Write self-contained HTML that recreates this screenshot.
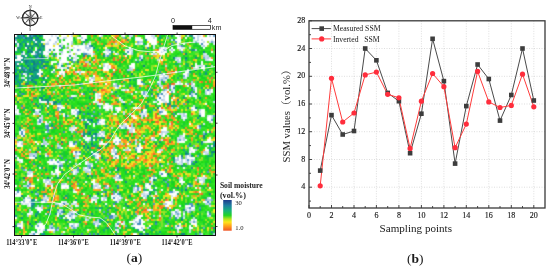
<!DOCTYPE html>
<html><head><meta charset="utf-8">
<style>
html,body{margin:0;padding:0;background:#fff;width:550px;height:270px;overflow:hidden}
svg{display:block}
text{font-family:"Liberation Serif","Noto Serif CJK SC",serif;fill:#1a1a1a}
.gr{stroke:#c8c8c8;stroke-width:0.6;stroke-dasharray:1 1.5}
.tk{stroke:#333;stroke-width:0.9}
text.sans{font-family:"Liberation Sans",sans-serif}
.tl{font-size:8px;stroke:#1a1a1a;stroke-width:0.15px}
.ml{font-size:7.3px;font-weight:bold}
</style></head><body>
<svg width="550" height="270" viewBox="0 0 550 270">
<rect width="550" height="270" fill="#fff"/>
<defs><filter id="bl" x="0" y="0" width="1" height="1" color-interpolation-filters="sRGB"><feConvolveMatrix order="3" kernelMatrix="1 2 1 2 12 2 1 2 1" edgeMode="duplicate"/></filter></defs>
<g shape-rendering="crispEdges" filter="url(#bl)"><rect x="15" y="35" width="200" height="200" fill="#fff"/>
<path fill="#1a8a88" d="M17 35h2v2h-2zM33 35h2v2h-2zM191 35h2v2h-2zM17 37h2v2h-2zM29 37h2v2h-2zM57 37h2v2h-2zM145 39h2v2h-2zM83 41h2v2h-2zM159 43h2v2h-2zM29 45h2v2h-2zM37 45h2v2h-2zM17 47h2v2h-2zM39 47h2v2h-2zM29 49h2v2h-2zM37 49h2v2h-2zM191 49h4v2h-4zM37 51h2v2h-2zM37 53h2v2h-2zM21 55h2v2h-2zM35 55h2v2h-2zM103 55h2v2h-2zM23 57h2v2h-2zM29 57h2v2h-2zM39 57h2v2h-2zM43 57h2v2h-2zM195 57h2v2h-2zM25 59h4v2h-4zM19 61h2v2h-2zM37 61h2v2h-2zM43 61h2v2h-2zM77 61h2v2h-2zM15 63h2v2h-2zM35 63h2v2h-2zM41 63h2v2h-2zM45 65h2v2h-2zM191 65h2v2h-2zM21 67h2v2h-2zM21 69h4v2h-4zM27 73h2v2h-2zM41 73h2v2h-2zM17 75h2v2h-2zM37 77h2v2h-2zM21 79h2v2h-2zM33 81h4v2h-4zM19 83h2v2h-2zM27 83h2v2h-2zM35 83h2v2h-2zM79 83h2v2h-2zM19 87h2v2h-2zM43 87h2v2h-2zM191 87h2v2h-2zM151 89h2v2h-2zM19 91h2v2h-2zM93 91h2v2h-2zM151 93h2v2h-2zM195 93h2v2h-2zM19 95h2v2h-2zM49 97h2v2h-2zM89 97h2v2h-2zM183 97h2v2h-2zM41 99h2v2h-2zM53 101h2v2h-2zM147 101h2v2h-2zM187 101h2v2h-2zM35 103h2v2h-2zM37 105h2v2h-2zM187 107h2v2h-2zM33 109h2v2h-2zM85 123h4v2h-4zM85 127h2v2h-2zM89 131h2v2h-2zM209 131h2v2h-2zM91 135h2v2h-2zM91 137h2v2h-2zM203 137h2v2h-2zM159 141h2v2h-2zM201 141h2v2h-2zM85 143h2v2h-2zM97 147h2v2h-2zM197 147h2v2h-2zM209 149h2v2h-2zM181 155h2v2h-2zM191 155h2v2h-2zM35 157h2v2h-2zM101 157h2v2h-2zM173 157h2v2h-2zM159 163h2v2h-2zM193 163h2v2h-2zM181 165h2v2h-2zM191 167h2v2h-2zM61 171h2v2h-2zM57 177h2v2h-2zM125 181h2v2h-2zM177 187h2v2h-2zM17 189h2v2h-2zM37 189h2v2h-2zM149 193h2v2h-2zM63 197h2v2h-2zM31 199h2v2h-2zM19 201h2v2h-2zM37 201h2v2h-2zM33 203h2v2h-2zM125 203h2v2h-2zM17 205h2v2h-2zM31 205h2v2h-2zM127 205h2v2h-2zM109 207h2v2h-2zM49 209h2v2h-2zM183 209h2v2h-2zM55 213h2v2h-2zM65 219h2v2h-2zM107 221h2v2h-2zM107 227h2v2h-2zM149 227h2v2h-2zM143 229h2v2h-2zM199 231h2v2h-2zM211 231h2v2h-2zM145 233h2v2h-2z"/>
<path fill="#16ac78" d="M19 35h2v2h-2zM159 35h2v2h-2zM21 37h2v2h-2zM99 37h2v2h-2zM29 39h2v2h-2zM17 41h2v2h-2zM21 41h2v2h-2zM25 41h2v2h-2zM195 41h2v2h-2zM81 43h2v2h-2zM143 43h2v2h-2zM19 45h2v2h-2zM27 45h2v2h-2zM41 47h2v2h-2zM27 49h2v2h-2zM35 51h2v2h-2zM41 51h2v2h-2zM111 51h2v2h-2zM27 53h2v2h-2zM29 59h2v2h-2zM35 59h2v2h-2zM43 59h2v2h-2zM27 63h2v2h-2zM39 63h2v2h-2zM185 63h2v2h-2zM15 65h2v2h-2zM19 65h2v2h-2zM31 65h2v2h-2zM51 65h2v2h-2zM15 67h2v2h-2zM25 67h2v2h-2zM27 69h2v2h-2zM35 71h2v2h-2zM17 73h2v2h-2zM33 73h2v2h-2zM21 75h2v2h-2zM17 77h2v2h-2zM29 77h2v2h-2zM41 77h2v2h-2zM47 77h2v2h-2zM177 77h2v2h-2zM27 79h2v2h-2zM123 81h2v2h-2zM21 85h2v2h-2zM185 89h2v2h-2zM147 91h2v2h-2zM171 95h2v2h-2zM33 97h2v2h-2zM65 99h2v2h-2zM155 99h2v2h-2zM31 101h2v2h-2zM39 103h2v2h-2zM67 103h2v2h-2zM41 105h2v2h-2zM97 105h2v2h-2zM175 105h2v2h-2zM41 107h2v2h-2zM61 111h2v2h-2zM93 115h2v2h-2zM59 123h2v2h-2zM89 127h2v2h-2zM91 129h2v2h-2zM97 129h2v2h-2zM95 135h2v2h-2zM187 135h2v2h-2zM99 139h2v2h-2zM107 139h2v2h-2zM95 143h2v2h-2zM105 145h2v2h-2zM83 147h2v2h-2zM85 149h2v2h-2zM83 153h2v2h-2zM211 153h2v2h-2zM89 155h2v2h-2zM173 161h2v2h-2zM191 163h2v2h-2zM185 165h2v2h-2zM41 175h2v2h-2zM155 179h2v2h-2zM131 185h2v2h-2zM43 189h2v2h-2zM145 189h2v2h-2zM149 191h2v2h-2zM23 197h2v2h-2zM67 197h2v2h-2zM151 199h2v2h-2zM33 201h2v2h-2zM145 201h2v2h-2zM55 205h2v2h-2zM105 205h2v2h-2zM31 207h2v2h-2zM21 213h2v2h-2zM61 217h2v2h-2zM67 219h2v2h-2zM175 219h2v2h-2zM99 221h2v2h-2zM35 231h2v2h-2z"/>
<path fill="#3f88bb" d="M21 35h2v2h-2zM201 43h2v2h-2zM59 45h2v2h-2zM181 45h2v2h-2zM61 47h2v2h-2zM147 47h2v2h-2zM49 49h2v2h-2zM109 49h2v2h-2zM163 49h2v2h-2zM127 51h2v2h-2zM53 53h2v2h-2zM83 53h4v2h-4zM69 55h2v2h-2zM159 71h2v2h-2zM21 73h2v2h-2zM161 73h2v2h-2zM141 81h2v2h-2zM163 81h2v2h-2zM129 85h2v2h-2zM169 85h2v2h-2zM139 87h2v2h-2zM149 87h2v2h-2zM173 87h2v2h-2zM207 89h2v2h-2zM191 91h2v2h-2zM21 93h2v2h-2zM83 93h2v2h-2zM161 93h2v2h-2zM71 97h2v2h-2zM159 97h2v2h-2zM21 105h2v2h-2zM23 107h2v2h-2zM141 111h2v2h-2zM159 111h2v2h-2zM173 113h2v2h-2zM83 119h2v2h-2zM39 121h2v2h-2zM47 125h2v2h-2zM199 125h2v2h-2zM47 127h2v2h-2zM53 127h2v2h-2zM47 129h2v2h-2zM63 131h2v2h-2zM21 133h2v2h-2zM23 135h2v2h-2zM75 141h2v2h-2zM129 141h2v2h-2zM73 143h2v2h-2zM75 151h2v2h-2zM79 151h2v2h-2zM115 153h2v2h-2zM61 157h2v2h-2zM105 159h2v2h-2zM33 163h2v2h-2zM59 165h2v2h-2zM21 167h2v2h-2zM29 169h2v2h-2zM161 173h2v2h-2zM119 175h2v2h-2zM149 177h2v2h-2zM29 183h2v2h-2zM149 183h2v2h-2zM167 183h2v2h-2zM117 185h2v2h-2zM167 185h2v2h-2zM53 195h2v2h-2zM113 197h2v2h-2zM115 201h2v2h-2zM207 201h2v2h-2zM31 203h2v2h-2zM63 203h2v2h-2zM113 203h2v2h-2zM191 205h2v2h-2zM57 209h2v2h-2zM107 209h2v2h-2zM209 213h2v2h-2zM109 215h4v2h-4zM109 217h2v2h-2zM175 217h2v2h-2zM117 223h2v2h-2zM137 223h4v2h-4zM155 223h2v2h-2zM177 225h2v2h-2zM19 227h2v2h-2zM115 227h2v2h-2zM81 233h2v2h-2zM93 233h2v2h-2z"/>
<path fill="#0e8080" d="M23 35h2v2h-2zM29 35h2v2h-2zM35 35h2v2h-2zM39 35h2v2h-2zM171 35h2v2h-2zM25 37h2v2h-2zM31 37h2v2h-2zM37 37h2v2h-2zM35 39h2v2h-2zM85 39h2v2h-2zM19 43h2v2h-2zM25 43h2v2h-2zM35 43h2v2h-2zM25 45h2v2h-2zM43 45h2v2h-2zM91 45h2v2h-2zM27 47h2v2h-2zM31 47h2v2h-2zM39 49h2v2h-2zM27 51h2v2h-2zM31 51h2v2h-2zM203 51h2v2h-2zM185 53h2v2h-2zM41 55h2v2h-2zM41 57h2v2h-2zM173 57h2v2h-2zM185 57h2v2h-2zM141 59h2v2h-2zM25 61h2v2h-2zM33 61h2v2h-2zM33 63h2v2h-2zM17 65h2v2h-2zM27 65h2v2h-2zM43 65h2v2h-2zM143 65h2v2h-2zM33 67h2v2h-2zM29 69h2v2h-2zM33 69h4v2h-4zM195 69h2v2h-2zM19 71h2v2h-2zM23 71h2v2h-2zM31 71h2v2h-2zM131 73h2v2h-2zM15 75h2v2h-2zM31 75h2v2h-2zM43 77h2v2h-2zM31 79h2v2h-2zM45 81h2v2h-2zM25 83h2v2h-2zM33 87h2v2h-2zM41 87h2v2h-2zM41 97h2v2h-2zM199 97h2v2h-2zM45 99h2v2h-2zM17 101h2v2h-2zM47 101h2v2h-2zM55 101h2v2h-2zM53 103h2v2h-2zM123 103h2v2h-2zM157 107h2v2h-2zM195 107h2v2h-2zM79 111h2v2h-2zM199 115h2v2h-2zM77 117h2v2h-2zM91 119h2v2h-2zM85 125h2v2h-2zM89 133h2v2h-2zM95 133h2v2h-2zM83 135h2v2h-2zM203 135h2v2h-2zM61 141h2v2h-2zM91 143h2v2h-2zM155 143h2v2h-2zM41 145h2v2h-2zM83 145h2v2h-2zM213 145h2v2h-2zM87 147h2v2h-2zM99 147h2v2h-2zM35 151h2v2h-2zM97 151h2v2h-2zM211 151h4v2h-4zM185 153h2v2h-2zM83 157h2v2h-2zM195 161h2v2h-2zM53 167h2v2h-2zM117 169h2v2h-2zM167 173h2v2h-2zM87 175h2v2h-2zM23 177h2v2h-2zM47 177h2v2h-2zM153 179h2v2h-2zM185 189h2v2h-2zM97 193h2v2h-2zM209 193h2v2h-2zM21 195h2v2h-2zM197 203h2v2h-2zM63 211h2v2h-2zM35 215h2v2h-2zM181 219h2v2h-2zM35 221h2v2h-2zM29 223h2v2h-2zM15 225h2v2h-2zM73 231h2v2h-2zM115 233h2v2h-2zM139 233h4v2h-4zM147 233h2v2h-2zM181 233h4v2h-4z"/>
<path fill="#2add22" d="M25 35h2v2h-2zM87 35h4v2h-4zM93 35h2v2h-2zM103 35h2v2h-2zM141 35h4v2h-4zM155 35h2v2h-2zM17 39h2v2h-2zM21 39h2v2h-2zM43 39h2v2h-2zM89 39h4v2h-4zM159 39h2v2h-2zM191 39h2v2h-2zM31 41h2v2h-2zM59 41h2v2h-2zM81 41h2v2h-2zM85 41h2v2h-2zM101 41h4v2h-4zM129 41h2v2h-2zM143 41h2v2h-2zM161 41h2v2h-2zM169 41h2v2h-2zM39 43h2v2h-2zM75 43h2v2h-2zM111 43h2v2h-2zM127 43h2v2h-2zM193 43h2v2h-2zM23 45h2v2h-2zM63 45h2v2h-2zM97 45h2v2h-2zM133 45h2v2h-2zM175 45h2v2h-2zM109 47h2v2h-2zM133 47h4v2h-4zM157 47h2v2h-2zM169 47h2v2h-2zM175 47h2v2h-2zM187 47h2v2h-2zM207 47h4v2h-4zM33 49h2v2h-2zM101 49h2v2h-2zM117 49h2v2h-2zM137 49h4v2h-4zM189 49h2v2h-2zM201 49h4v2h-4zM67 51h2v2h-2zM185 51h2v2h-2zM15 53h2v2h-2zM135 53h2v2h-2zM173 53h2v2h-2zM179 53h2v2h-2zM189 53h2v2h-2zM211 53h2v2h-2zM89 55h2v2h-2zM99 55h2v2h-2zM115 55h2v2h-2zM165 55h2v2h-2zM199 55h2v2h-2zM211 55h2v2h-2zM71 57h2v2h-2zM79 57h2v2h-2zM123 57h2v2h-2zM137 57h2v2h-2zM153 57h2v2h-2zM193 57h2v2h-2zM125 59h2v2h-2zM129 59h2v2h-2zM153 59h2v2h-2zM167 59h2v2h-2zM191 59h2v2h-2zM197 59h2v2h-2zM57 61h2v2h-2zM71 61h2v2h-2zM103 61h4v2h-4zM109 61h4v2h-4zM141 61h2v2h-2zM167 61h2v2h-2zM171 61h2v2h-2zM185 61h2v2h-2zM211 61h2v2h-2zM53 63h4v2h-4zM95 63h2v2h-2zM123 63h2v2h-2zM129 63h2v2h-2zM135 63h2v2h-2zM149 63h2v2h-2zM153 63h2v2h-2zM157 63h2v2h-2zM171 63h2v2h-2zM41 65h2v2h-2zM97 65h2v2h-2zM121 65h2v2h-2zM139 65h2v2h-2zM147 65h4v2h-4zM157 65h2v2h-2zM47 67h2v2h-2zM83 67h2v2h-2zM135 67h2v2h-2zM153 67h2v2h-2zM169 67h4v2h-4zM181 67h2v2h-2zM109 69h2v2h-2zM155 69h2v2h-2zM159 69h2v2h-2zM169 69h2v2h-2zM173 69h2v2h-2zM179 69h2v2h-2zM201 69h2v2h-2zM43 71h2v2h-2zM97 71h2v2h-2zM109 71h2v2h-2zM125 71h2v2h-2zM133 71h2v2h-2zM143 71h2v2h-2zM177 71h2v2h-2zM207 71h2v2h-2zM45 73h2v2h-2zM87 73h2v2h-2zM105 73h2v2h-2zM119 73h2v2h-2zM127 73h4v2h-4zM145 73h2v2h-2zM153 73h2v2h-2zM177 73h2v2h-2zM213 73h2v2h-2zM143 75h2v2h-2zM149 75h2v2h-2zM189 75h2v2h-2zM49 77h2v2h-2zM53 77h2v2h-2zM63 77h2v2h-2zM67 77h2v2h-2zM83 77h2v2h-2zM127 77h2v2h-2zM181 77h2v2h-2zM191 77h2v2h-2zM49 79h2v2h-2zM61 79h2v2h-2zM83 79h2v2h-2zM173 79h2v2h-2zM47 81h2v2h-2zM67 81h2v2h-2zM79 81h2v2h-2zM93 81h2v2h-2zM133 81h2v2h-2zM189 81h2v2h-2zM203 81h2v2h-2zM37 83h2v2h-2zM45 83h2v2h-2zM49 83h2v2h-2zM93 83h2v2h-2zM147 83h2v2h-2zM197 83h2v2h-2zM207 83h2v2h-2zM49 85h2v2h-2zM83 85h2v2h-2zM125 85h4v2h-4zM153 85h2v2h-2zM181 85h2v2h-2zM201 85h2v2h-2zM209 85h2v2h-2zM51 87h2v2h-2zM65 87h2v2h-2zM83 87h2v2h-2zM89 87h2v2h-2zM121 87h2v2h-2zM135 87h2v2h-2zM155 87h2v2h-2zM187 87h2v2h-2zM53 89h2v2h-2zM57 89h2v2h-2zM79 89h2v2h-2zM111 89h2v2h-2zM117 89h2v2h-2zM137 89h2v2h-2zM183 89h2v2h-2zM23 91h2v2h-2zM43 91h2v2h-2zM61 91h2v2h-2zM71 91h2v2h-2zM75 91h2v2h-2zM87 91h2v2h-2zM151 91h2v2h-2zM175 91h2v2h-2zM75 93h2v2h-2zM87 93h2v2h-2zM105 93h2v2h-2zM115 93h2v2h-2zM155 93h2v2h-2zM185 93h2v2h-2zM213 93h2v2h-2zM39 95h2v2h-2zM77 95h2v2h-2zM85 95h4v2h-4zM123 95h2v2h-2zM141 95h2v2h-2zM203 95h4v2h-4zM15 97h2v2h-2zM51 97h2v2h-2zM61 97h2v2h-2zM125 97h4v2h-4zM131 97h2v2h-2zM139 97h2v2h-2zM181 97h2v2h-2zM185 97h2v2h-2zM191 97h2v2h-2zM23 99h2v2h-2zM27 99h2v2h-2zM33 99h4v2h-4zM135 99h4v2h-4zM143 99h2v2h-2zM181 99h2v2h-2zM63 101h2v2h-2zM83 101h4v2h-4zM89 101h2v2h-2zM185 101h2v2h-2zM201 101h2v2h-2zM17 103h2v2h-2zM21 103h2v2h-2zM29 103h2v2h-2zM71 103h2v2h-2zM75 103h2v2h-2zM25 105h4v2h-4zM49 105h2v2h-2zM65 105h2v2h-2zM73 105h4v2h-4zM79 105h2v2h-2zM185 105h2v2h-2zM203 105h2v2h-2zM83 107h2v2h-2zM91 107h2v2h-2zM95 107h4v2h-4zM183 107h2v2h-2zM55 109h2v2h-2zM63 109h2v2h-2zM69 109h2v2h-2zM95 109h2v2h-2zM149 109h2v2h-2zM183 109h2v2h-2zM211 109h2v2h-2zM59 111h2v2h-2zM89 111h4v2h-4zM101 111h2v2h-2zM127 111h2v2h-2zM151 111h2v2h-2zM167 111h2v2h-2zM23 113h2v2h-2zM31 113h2v2h-2zM43 113h2v2h-2zM69 113h2v2h-2zM93 113h4v2h-4zM103 113h2v2h-2zM125 113h2v2h-2zM149 113h4v2h-4zM207 113h4v2h-4zM45 115h2v2h-2zM59 115h2v2h-2zM89 115h2v2h-2zM103 115h2v2h-2zM129 115h2v2h-2zM149 115h4v2h-4zM169 115h2v2h-2zM177 115h2v2h-2zM195 115h2v2h-2zM205 115h2v2h-2zM15 117h2v2h-2zM67 117h2v2h-2zM75 117h2v2h-2zM89 117h2v2h-2zM99 117h2v2h-2zM147 117h2v2h-2zM165 117h2v2h-2zM189 117h4v2h-4zM213 117h2v2h-2zM49 119h2v2h-2zM107 119h2v2h-2zM187 119h2v2h-2zM191 119h2v2h-2zM199 119h2v2h-2zM31 121h2v2h-2zM85 121h2v2h-2zM89 121h2v2h-2zM95 121h2v2h-2zM137 121h2v2h-2zM179 121h2v2h-2zM185 121h2v2h-2zM199 121h2v2h-2zM205 121h2v2h-2zM53 123h2v2h-2zM91 123h2v2h-2zM141 123h2v2h-2zM177 123h4v2h-4zM185 123h2v2h-2zM201 123h2v2h-2zM205 123h4v2h-4zM19 125h2v2h-2zM33 125h2v2h-2zM39 125h4v2h-4zM75 125h2v2h-2zM95 125h4v2h-4zM157 125h2v2h-2zM17 127h2v2h-2zM43 127h2v2h-2zM63 127h2v2h-2zM91 127h2v2h-2zM101 127h2v2h-2zM151 127h2v2h-2zM155 127h2v2h-2zM205 127h2v2h-2zM209 127h2v2h-2zM37 129h2v2h-2zM41 129h2v2h-2zM45 129h2v2h-2zM65 129h2v2h-2zM83 129h2v2h-2zM177 129h4v2h-4zM185 129h2v2h-2zM201 129h2v2h-2zM55 131h4v2h-4zM91 131h4v2h-4zM105 131h2v2h-2zM53 133h2v2h-2zM57 133h2v2h-2zM61 133h2v2h-2zM75 133h2v2h-2zM147 133h2v2h-2zM209 133h4v2h-4zM47 135h2v2h-2zM77 135h2v2h-2zM121 135h2v2h-2zM129 135h2v2h-2zM141 135h2v2h-2zM173 135h2v2h-2zM189 135h2v2h-2zM41 137h2v2h-2zM45 137h2v2h-2zM155 137h4v2h-4zM45 139h2v2h-2zM51 139h2v2h-2zM105 139h2v2h-2zM109 139h2v2h-2zM137 139h2v2h-2zM143 139h2v2h-2zM199 139h2v2h-2zM25 141h2v2h-2zM97 141h2v2h-2zM193 141h2v2h-2zM199 141h2v2h-2zM93 143h2v2h-2zM109 143h2v2h-2zM159 143h2v2h-2zM207 143h2v2h-2zM29 145h2v2h-2zM47 145h2v2h-2zM63 145h2v2h-2zM85 145h2v2h-2zM101 145h2v2h-2zM115 145h2v2h-2zM149 145h2v2h-2zM169 145h2v2h-2zM191 145h2v2h-2zM201 145h6v2h-6zM19 147h2v2h-2zM25 147h2v2h-2zM43 147h2v2h-2zM155 147h4v2h-4zM171 147h2v2h-2zM193 147h2v2h-2zM43 149h2v2h-2zM47 149h2v2h-2zM81 149h2v2h-2zM143 149h2v2h-2zM179 149h2v2h-2zM201 149h2v2h-2zM213 149h2v2h-2zM43 151h4v2h-4zM67 151h2v2h-2zM117 151h2v2h-2zM121 151h4v2h-4zM179 151h2v2h-2zM183 151h2v2h-2zM209 151h2v2h-2zM81 153h2v2h-2zM89 153h2v2h-2zM139 153h2v2h-2zM163 153h2v2h-2zM167 153h2v2h-2zM193 153h4v2h-4zM213 153h2v2h-2zM19 155h2v2h-2zM53 155h2v2h-2zM71 155h2v2h-2zM91 155h2v2h-2zM155 155h2v2h-2zM169 155h2v2h-2zM21 157h2v2h-2zM37 157h4v2h-4zM93 157h2v2h-2zM199 157h2v2h-2zM203 157h2v2h-2zM47 159h2v2h-2zM83 159h4v2h-4zM95 159h2v2h-2zM125 159h2v2h-2zM151 159h2v2h-2zM165 159h2v2h-2zM195 159h2v2h-2zM203 159h4v2h-4zM15 161h2v2h-2zM45 161h2v2h-2zM67 161h2v2h-2zM77 161h2v2h-2zM81 161h4v2h-4zM21 163h2v2h-2zM29 163h2v2h-2zM81 163h2v2h-2zM145 163h2v2h-2zM25 165h2v2h-2zM43 165h4v2h-4zM69 165h2v2h-2zM81 165h4v2h-4zM93 165h2v2h-2zM103 165h2v2h-2zM179 165h2v2h-2zM187 165h2v2h-2zM193 165h2v2h-2zM211 165h2v2h-2zM65 167h2v2h-2zM73 167h2v2h-2zM131 167h2v2h-2zM187 167h2v2h-2zM43 169h2v2h-2zM61 169h2v2h-2zM65 169h2v2h-2zM97 169h2v2h-2zM119 169h4v2h-4zM173 169h2v2h-2zM199 169h2v2h-2zM205 169h2v2h-2zM213 169h2v2h-2zM37 171h2v2h-2zM49 171h2v2h-2zM93 171h2v2h-2zM107 171h2v2h-2zM117 171h2v2h-2zM121 171h2v2h-2zM131 171h2v2h-2zM147 171h2v2h-2zM173 171h2v2h-2zM61 173h2v2h-2zM99 173h2v2h-2zM123 173h2v2h-2zM129 173h2v2h-2zM145 173h2v2h-2zM157 173h2v2h-2zM171 173h2v2h-2zM203 173h2v2h-2zM37 175h2v2h-2zM43 175h2v2h-2zM69 175h2v2h-2zM89 175h2v2h-2zM103 175h2v2h-2zM127 175h2v2h-2zM137 175h2v2h-2zM183 175h2v2h-2zM191 175h2v2h-2zM61 177h2v2h-2zM75 177h2v2h-2zM107 177h2v2h-2zM191 177h2v2h-2zM213 177h2v2h-2zM53 179h2v2h-2zM101 179h2v2h-2zM113 179h2v2h-2zM125 179h2v2h-2zM133 179h2v2h-2zM137 179h2v2h-2zM145 179h4v2h-4zM171 179h2v2h-2zM175 179h2v2h-2zM183 179h2v2h-2zM15 181h2v2h-2zM33 181h2v2h-2zM41 181h2v2h-2zM65 181h2v2h-2zM77 181h2v2h-2zM89 181h2v2h-2zM99 181h4v2h-4zM121 181h2v2h-2zM131 181h2v2h-2zM135 181h2v2h-2zM153 181h2v2h-2zM159 181h2v2h-2zM191 181h2v2h-2zM213 181h2v2h-2zM55 183h2v2h-2zM59 183h2v2h-2zM71 183h2v2h-2zM101 183h2v2h-2zM111 183h2v2h-2zM123 183h4v2h-4zM131 183h2v2h-2zM183 183h2v2h-2zM211 183h2v2h-2zM127 185h2v2h-2zM133 185h2v2h-2zM213 185h2v2h-2zM19 187h2v2h-2zM41 187h2v2h-2zM59 187h2v2h-2zM87 187h2v2h-2zM153 187h2v2h-2zM207 187h2v2h-2zM213 187h2v2h-2zM53 189h2v2h-2zM63 189h2v2h-2zM105 189h2v2h-2zM147 189h2v2h-2zM165 189h2v2h-2zM171 189h2v2h-2zM179 189h2v2h-2zM187 189h2v2h-2zM213 189h2v2h-2zM21 191h2v2h-2zM47 191h4v2h-4zM95 191h2v2h-2zM211 191h2v2h-2zM27 193h2v2h-2zM57 193h2v2h-2zM99 193h2v2h-2zM105 193h2v2h-2zM121 193h2v2h-2zM133 193h2v2h-2zM161 193h2v2h-2zM193 193h4v2h-4zM35 195h2v2h-2zM79 195h4v2h-4zM91 195h2v2h-2zM109 195h2v2h-2zM121 195h2v2h-2zM201 195h4v2h-4zM207 195h2v2h-2zM213 195h2v2h-2zM51 197h2v2h-2zM61 197h2v2h-2zM73 197h2v2h-2zM89 197h2v2h-2zM139 197h2v2h-2zM159 197h2v2h-2zM187 197h4v2h-4zM79 199h4v2h-4zM163 199h2v2h-2zM179 199h2v2h-2zM197 199h2v2h-2zM15 201h2v2h-2zM35 201h2v2h-2zM59 201h2v2h-2zM77 201h4v2h-4zM101 201h2v2h-2zM113 201h2v2h-2zM143 201h2v2h-2zM179 201h2v2h-2zM193 201h2v2h-2zM35 203h2v2h-2zM69 203h2v2h-2zM121 203h2v2h-2zM161 203h2v2h-2zM199 203h2v2h-2zM25 205h2v2h-2zM91 205h2v2h-2zM111 205h2v2h-2zM129 205h4v2h-4zM23 207h2v2h-2zM55 207h2v2h-2zM61 207h4v2h-4zM77 207h2v2h-2zM83 207h2v2h-2zM131 207h2v2h-2zM137 207h2v2h-2zM183 207h2v2h-2zM197 207h2v2h-2zM91 209h2v2h-2zM101 209h2v2h-2zM141 209h2v2h-2zM203 209h2v2h-2zM33 211h2v2h-2zM49 211h2v2h-2zM97 211h2v2h-2zM101 211h2v2h-2zM105 211h2v2h-2zM127 211h2v2h-2zM139 211h2v2h-2zM197 211h4v2h-4zM19 213h2v2h-2zM23 213h2v2h-2zM41 213h2v2h-2zM97 213h2v2h-2zM119 213h2v2h-2zM123 213h2v2h-2zM129 213h2v2h-2zM157 213h2v2h-2zM191 213h2v2h-2zM25 215h2v2h-2zM47 215h2v2h-2zM97 215h2v2h-2zM135 215h2v2h-2zM143 215h2v2h-2zM173 215h2v2h-2zM189 215h2v2h-2zM35 217h2v2h-2zM41 217h2v2h-2zM47 217h4v2h-4zM125 217h2v2h-2zM133 217h2v2h-2zM185 217h2v2h-2zM189 217h2v2h-2zM205 217h2v2h-2zM19 219h2v2h-2zM41 219h4v2h-4zM47 219h2v2h-2zM51 219h2v2h-2zM63 219h2v2h-2zM89 219h2v2h-2zM105 219h2v2h-2zM171 219h4v2h-4zM177 219h2v2h-2zM211 219h2v2h-2zM43 221h2v2h-2zM59 221h2v2h-2zM69 221h2v2h-2zM87 221h2v2h-2zM153 221h2v2h-2zM169 221h2v2h-2zM199 221h4v2h-4zM25 223h2v2h-2zM65 223h2v2h-2zM91 223h2v2h-2zM111 223h2v2h-2zM153 223h2v2h-2zM171 223h2v2h-2zM197 223h2v2h-2zM47 225h2v2h-2zM91 225h4v2h-4zM105 225h2v2h-2zM153 225h2v2h-2zM169 225h2v2h-2zM173 225h2v2h-2zM205 225h2v2h-2zM209 225h2v2h-2zM17 227h2v2h-2zM29 227h4v2h-4zM81 227h2v2h-2zM99 227h4v2h-4zM163 227h2v2h-2zM169 227h2v2h-2zM15 229h2v2h-2zM21 229h2v2h-2zM27 229h2v2h-2zM33 229h2v2h-2zM69 229h2v2h-2zM73 229h2v2h-2zM77 229h2v2h-2zM99 229h2v2h-2zM131 229h2v2h-2zM179 229h2v2h-2zM21 231h2v2h-2zM45 231h2v2h-2zM79 231h4v2h-4zM85 231h2v2h-2zM89 231h2v2h-2zM101 231h2v2h-2zM109 231h2v2h-2zM127 231h2v2h-2zM185 231h2v2h-2zM19 233h4v2h-4zM27 233h2v2h-2zM67 233h2v2h-2zM91 233h2v2h-2zM101 233h2v2h-2zM153 233h2v2h-2zM165 233h2v2h-2z"/>
<path fill="#4f95c8" d="M31 35h2v2h-2zM23 37h2v2h-2zM193 37h2v2h-2zM175 41h2v2h-2zM171 43h2v2h-2zM89 45h2v2h-2zM181 51h2v2h-2zM107 55h2v2h-2zM37 57h2v2h-2zM139 57h2v2h-2zM159 57h2v2h-2zM71 59h2v2h-2zM73 61h2v2h-2zM57 63h2v2h-2zM67 63h2v2h-2zM23 67h2v2h-2zM43 67h2v2h-2zM179 71h2v2h-2zM81 83h2v2h-2zM117 85h2v2h-2zM157 95h2v2h-2zM69 97h2v2h-2zM57 103h4v2h-4zM183 103h2v2h-2zM77 111h2v2h-2zM77 113h2v2h-2zM83 113h2v2h-2zM99 113h2v2h-2zM213 115h2v2h-2zM39 119h2v2h-2zM211 119h2v2h-2zM45 125h2v2h-2zM125 127h2v2h-2zM21 131h2v2h-2zM75 131h2v2h-2zM137 145h2v2h-2zM187 145h2v2h-2zM135 149h2v2h-2zM93 155h2v2h-2zM181 157h2v2h-2zM65 159h2v2h-2zM187 159h2v2h-2zM57 161h2v2h-2zM191 161h2v2h-2zM61 165h2v2h-2zM77 167h2v2h-2zM89 167h2v2h-2zM77 169h2v2h-2zM207 171h2v2h-2zM153 175h2v2h-2zM77 183h2v2h-2zM27 185h2v2h-2zM105 185h2v2h-2zM135 185h2v2h-2zM189 185h2v2h-2zM137 187h2v2h-2zM185 187h2v2h-2zM137 189h2v2h-2zM17 191h2v2h-2zM103 191h2v2h-2zM113 191h2v2h-2zM169 191h4v2h-4zM117 193h2v2h-2zM43 195h2v2h-2zM41 199h2v2h-2zM153 203h2v2h-2zM189 203h4v2h-4zM47 205h2v2h-2zM165 207h2v2h-2zM189 207h2v2h-2zM199 207h2v2h-2zM61 211h2v2h-2zM49 213h2v2h-2zM87 213h2v2h-2zM107 213h2v2h-2zM59 217h2v2h-2zM111 217h2v2h-2zM169 217h2v2h-2zM139 219h2v2h-2zM139 221h2v2h-2zM51 227h2v2h-2zM57 227h2v2h-2zM55 229h2v2h-2zM33 233h2v2h-2zM89 233h2v2h-2z"/>
<path fill="#18c838" d="M37 35h2v2h-2zM79 35h2v2h-2zM95 35h2v2h-2zM109 35h2v2h-2zM127 35h2v2h-2zM133 35h2v2h-2zM163 35h2v2h-2zM185 35h2v2h-2zM73 37h2v2h-2zM89 37h2v2h-2zM125 37h2v2h-2zM131 37h2v2h-2zM143 37h2v2h-2zM161 37h2v2h-2zM73 39h2v2h-2zM87 39h2v2h-2zM99 39h2v2h-2zM133 39h2v2h-2zM169 39h2v2h-2zM75 41h2v2h-2zM133 41h2v2h-2zM185 41h2v2h-2zM93 43h2v2h-2zM105 43h2v2h-2zM165 43h2v2h-2zM195 43h2v2h-2zM35 45h2v2h-2zM39 45h2v2h-2zM135 45h2v2h-2zM151 45h2v2h-2zM163 45h2v2h-2zM171 45h2v2h-2zM183 45h2v2h-2zM193 45h6v2h-6zM21 47h4v2h-4zM127 47h2v2h-2zM151 47h2v2h-2zM199 47h4v2h-4zM17 49h2v2h-2zM43 49h2v2h-2zM133 49h2v2h-2zM141 49h6v2h-6zM197 49h2v2h-2zM213 49h2v2h-2zM19 51h2v2h-2zM135 51h2v2h-2zM151 51h2v2h-2zM167 51h2v2h-2zM49 53h2v2h-2zM81 53h2v2h-2zM99 53h2v2h-2zM103 53h2v2h-2zM125 53h2v2h-2zM133 53h2v2h-2zM207 53h2v2h-2zM29 55h2v2h-2zM53 55h2v2h-2zM77 55h2v2h-2zM111 55h2v2h-2zM169 55h2v2h-2zM175 55h2v2h-2zM183 55h2v2h-2zM195 55h2v2h-2zM213 55h2v2h-2zM67 57h2v2h-2zM97 57h2v2h-2zM109 57h2v2h-2zM127 57h2v2h-2zM143 57h2v2h-2zM161 57h2v2h-2zM181 57h2v2h-2zM187 57h2v2h-2zM197 57h4v2h-4zM77 59h2v2h-2zM121 59h2v2h-2zM131 59h2v2h-2zM169 59h2v2h-2zM173 59h2v2h-2zM89 61h2v2h-2zM99 61h2v2h-2zM113 61h4v2h-4zM135 61h2v2h-2zM155 61h2v2h-2zM197 61h2v2h-2zM207 61h2v2h-2zM21 63h2v2h-2zM81 63h2v2h-2zM119 63h2v2h-2zM177 63h2v2h-2zM187 63h2v2h-2zM199 63h2v2h-2zM23 65h2v2h-2zM37 65h2v2h-2zM117 65h4v2h-4zM127 65h2v2h-2zM163 65h2v2h-2zM185 65h2v2h-2zM53 67h2v2h-2zM101 67h2v2h-2zM147 67h2v2h-2zM167 67h2v2h-2zM185 67h2v2h-2zM199 67h2v2h-2zM209 67h2v2h-2zM45 69h2v2h-2zM49 69h2v2h-2zM57 69h2v2h-2zM63 69h2v2h-2zM91 69h2v2h-2zM125 69h2v2h-2zM135 69h2v2h-2zM161 69h2v2h-2zM185 69h2v2h-2zM213 69h2v2h-2zM49 71h2v2h-2zM101 71h2v2h-2zM145 71h2v2h-2zM153 71h2v2h-2zM191 71h2v2h-2zM199 71h2v2h-2zM49 73h4v2h-4zM65 73h2v2h-2zM103 73h2v2h-2zM149 73h4v2h-4zM155 73h4v2h-4zM165 73h2v2h-2zM191 73h2v2h-2zM195 73h2v2h-2zM203 73h2v2h-2zM45 75h2v2h-2zM69 75h2v2h-2zM107 75h2v2h-2zM115 75h2v2h-2zM131 75h2v2h-2zM179 75h2v2h-2zM199 75h2v2h-2zM209 75h2v2h-2zM57 77h2v2h-2zM111 77h2v2h-2zM117 77h2v2h-2zM135 77h4v2h-4zM203 77h2v2h-2zM121 79h2v2h-2zM135 79h2v2h-2zM143 79h4v2h-4zM157 79h2v2h-2zM167 79h2v2h-2zM15 81h2v2h-2zM57 81h2v2h-2zM115 81h2v2h-2zM119 81h2v2h-2zM135 81h2v2h-2zM197 81h2v2h-2zM17 83h2v2h-2zM69 83h2v2h-2zM75 83h2v2h-2zM129 83h2v2h-2zM133 83h2v2h-2zM145 83h2v2h-2zM169 83h2v2h-2zM17 85h2v2h-2zM79 85h2v2h-2zM135 85h2v2h-2zM157 85h2v2h-2zM175 85h2v2h-2zM179 85h2v2h-2zM197 85h2v2h-2zM17 87h2v2h-2zM31 87h2v2h-2zM87 87h2v2h-2zM179 87h2v2h-2zM209 87h2v2h-2zM15 89h2v2h-2zM41 89h2v2h-2zM49 89h2v2h-2zM87 89h2v2h-2zM91 89h2v2h-2zM97 89h2v2h-2zM25 91h2v2h-2zM41 91h2v2h-2zM79 91h2v2h-2zM85 91h2v2h-2zM133 91h2v2h-2zM149 91h2v2h-2zM189 91h2v2h-2zM203 91h2v2h-2zM41 93h2v2h-2zM45 93h2v2h-2zM63 93h2v2h-2zM73 93h2v2h-2zM113 93h2v2h-2zM121 93h4v2h-4zM177 93h2v2h-2zM17 95h2v2h-2zM57 95h2v2h-2zM89 95h2v2h-2zM127 95h2v2h-2zM137 95h2v2h-2zM175 95h4v2h-4zM183 95h2v2h-2zM27 97h2v2h-2zM47 97h2v2h-2zM67 97h2v2h-2zM73 97h2v2h-2zM79 97h2v2h-2zM85 97h2v2h-2zM123 97h2v2h-2zM153 97h2v2h-2zM15 99h2v2h-2zM37 99h2v2h-2zM73 99h2v2h-2zM193 99h2v2h-2zM213 99h2v2h-2zM105 101h6v2h-6zM133 101h2v2h-2zM173 101h2v2h-2zM27 103h2v2h-2zM55 103h2v2h-2zM79 103h2v2h-2zM85 103h4v2h-4zM91 103h2v2h-2zM125 103h2v2h-2zM145 103h2v2h-2zM33 105h2v2h-2zM45 105h2v2h-2zM71 105h2v2h-2zM81 105h2v2h-2zM133 105h2v2h-2zM155 105h2v2h-2zM159 105h2v2h-2zM167 105h2v2h-2zM213 105h2v2h-2zM17 107h2v2h-2zM27 107h2v2h-2zM71 107h4v2h-4zM197 107h2v2h-2zM207 107h2v2h-2zM19 109h2v2h-2zM23 109h2v2h-2zM31 109h2v2h-2zM41 109h2v2h-2zM93 109h2v2h-2zM103 109h2v2h-2zM113 109h2v2h-2zM155 109h2v2h-2zM207 109h2v2h-2zM27 111h2v2h-2zM33 111h2v2h-2zM49 111h2v2h-2zM53 111h2v2h-2zM81 111h4v2h-4zM87 111h2v2h-2zM97 111h2v2h-2zM109 111h2v2h-2zM131 111h2v2h-2zM175 111h4v2h-4zM183 111h2v2h-2zM207 111h2v2h-2zM213 111h2v2h-2zM21 113h2v2h-2zM51 113h4v2h-4zM65 113h2v2h-2zM79 113h2v2h-2zM91 113h2v2h-2zM97 113h2v2h-2zM107 113h2v2h-2zM17 115h2v2h-2zM25 115h4v2h-4zM53 115h2v2h-2zM81 115h2v2h-2zM95 115h2v2h-2zM127 115h2v2h-2zM173 115h2v2h-2zM17 117h2v2h-2zM37 117h2v2h-2zM65 117h2v2h-2zM87 117h2v2h-2zM179 117h2v2h-2zM15 119h2v2h-2zM55 119h2v2h-2zM79 119h2v2h-2zM95 119h2v2h-2zM185 119h2v2h-2zM205 119h2v2h-2zM59 121h2v2h-2zM93 121h2v2h-2zM105 121h2v2h-2zM119 121h2v2h-2zM127 121h2v2h-2zM141 121h2v2h-2zM147 121h2v2h-2zM21 123h2v2h-2zM27 123h2v2h-2zM43 123h2v2h-2zM71 123h2v2h-2zM83 123h2v2h-2zM183 123h2v2h-2zM17 125h2v2h-2zM23 125h2v2h-2zM29 125h2v2h-2zM65 125h2v2h-2zM133 125h2v2h-2zM181 125h2v2h-2zM201 125h4v2h-4zM211 125h2v2h-2zM27 127h4v2h-4zM35 127h8v2h-8zM55 127h2v2h-2zM183 127h2v2h-2zM51 129h2v2h-2zM77 129h2v2h-2zM99 129h2v2h-2zM121 129h2v2h-2zM125 129h2v2h-2zM153 129h4v2h-4zM173 129h2v2h-2zM193 129h2v2h-2zM41 131h4v2h-4zM95 131h2v2h-2zM107 131h2v2h-2zM117 131h2v2h-2zM177 131h2v2h-2zM15 133h2v2h-2zM49 133h2v2h-2zM55 133h2v2h-2zM85 133h2v2h-2zM123 133h4v2h-4zM177 133h2v2h-2zM193 133h2v2h-2zM197 133h2v2h-2zM43 135h2v2h-2zM109 135h2v2h-2zM145 135h2v2h-2zM159 135h2v2h-2zM169 135h4v2h-4zM31 137h2v2h-2zM35 137h2v2h-2zM69 137h2v2h-2zM119 137h2v2h-2zM125 137h4v2h-4zM131 137h2v2h-2zM139 137h2v2h-2zM171 137h2v2h-2zM195 137h2v2h-2zM35 139h2v2h-2zM41 139h2v2h-2zM127 139h2v2h-2zM157 139h2v2h-2zM175 139h2v2h-2zM73 141h2v2h-2zM79 141h2v2h-2zM133 141h2v2h-2zM141 141h2v2h-2zM169 141h2v2h-2zM67 143h2v2h-2zM79 143h2v2h-2zM113 143h2v2h-2zM143 143h2v2h-2zM161 143h2v2h-2zM209 143h2v2h-2zM77 145h4v2h-4zM107 145h2v2h-2zM157 145h2v2h-2zM17 147h2v2h-2zM49 147h2v2h-2zM53 147h2v2h-2zM89 147h2v2h-2zM133 147h2v2h-2zM167 147h4v2h-4zM37 149h4v2h-4zM53 149h4v2h-4zM67 149h2v2h-2zM141 149h2v2h-2zM145 149h4v2h-4zM175 149h2v2h-2zM187 149h2v2h-2zM21 151h2v2h-2zM53 151h2v2h-2zM63 151h2v2h-2zM95 151h2v2h-2zM103 151h2v2h-2zM107 151h2v2h-2zM135 151h2v2h-2zM143 151h2v2h-2zM187 151h2v2h-2zM15 153h2v2h-2zM61 153h4v2h-4zM67 153h2v2h-2zM141 153h2v2h-2zM181 153h2v2h-2zM197 153h2v2h-2zM63 155h4v2h-4zM23 157h2v2h-2zM43 157h2v2h-2zM47 157h2v2h-2zM91 157h2v2h-2zM107 157h2v2h-2zM135 157h2v2h-2zM159 157h2v2h-2zM171 157h2v2h-2zM195 157h2v2h-2zM205 157h4v2h-4zM29 159h2v2h-2zM69 159h2v2h-2zM113 159h2v2h-2zM131 159h2v2h-2zM163 159h2v2h-2zM207 159h2v2h-2zM33 161h2v2h-2zM37 161h2v2h-2zM65 161h2v2h-2zM79 161h2v2h-2zM123 161h2v2h-2zM197 161h2v2h-2zM15 163h2v2h-2zM39 163h2v2h-2zM45 163h2v2h-2zM65 163h2v2h-2zM69 163h2v2h-2zM73 163h2v2h-2zM161 163h2v2h-2zM183 163h2v2h-2zM205 163h2v2h-2zM15 165h2v2h-2zM27 165h2v2h-2zM41 165h2v2h-2zM49 165h2v2h-2zM53 165h4v2h-4zM71 165h2v2h-2zM85 165h2v2h-2zM95 165h2v2h-2zM115 165h2v2h-2zM135 165h2v2h-2zM175 165h2v2h-2zM183 165h2v2h-2zM197 165h2v2h-2zM15 167h2v2h-2zM45 167h2v2h-2zM59 167h2v2h-2zM119 167h6v2h-6zM137 167h2v2h-2zM151 167h2v2h-2zM209 167h2v2h-2zM53 169h2v2h-2zM79 169h2v2h-2zM111 169h4v2h-4zM127 169h2v2h-2zM143 169h2v2h-2zM185 169h6v2h-6zM207 169h2v2h-2zM15 171h2v2h-2zM63 171h2v2h-2zM105 171h2v2h-2zM129 171h2v2h-2zM201 171h2v2h-2zM25 173h2v2h-2zM35 173h2v2h-2zM85 173h2v2h-2zM125 173h2v2h-2zM213 173h2v2h-2zM73 175h2v2h-2zM95 175h2v2h-2zM101 175h2v2h-2zM139 175h2v2h-2zM157 175h2v2h-2zM55 177h2v2h-2zM59 177h2v2h-2zM71 177h2v2h-2zM77 177h2v2h-2zM85 177h2v2h-2zM91 177h2v2h-2zM157 177h2v2h-2zM171 177h2v2h-2zM211 177h2v2h-2zM35 179h2v2h-2zM65 179h4v2h-4zM75 179h2v2h-2zM89 179h2v2h-2zM123 179h2v2h-2zM177 179h2v2h-2zM205 179h2v2h-2zM209 179h2v2h-2zM83 181h2v2h-2zM141 181h2v2h-2zM161 181h2v2h-2zM171 181h2v2h-2zM197 181h2v2h-2zM15 183h2v2h-2zM39 183h2v2h-2zM57 183h2v2h-2zM85 183h2v2h-2zM141 183h2v2h-2zM191 183h2v2h-2zM21 185h2v2h-2zM35 185h2v2h-2zM57 185h4v2h-4zM79 185h2v2h-2zM103 185h2v2h-2zM115 185h2v2h-2zM137 185h2v2h-2zM143 185h2v2h-2zM181 185h2v2h-2zM185 185h2v2h-2zM199 185h2v2h-2zM205 185h2v2h-2zM39 187h2v2h-2zM43 187h2v2h-2zM57 187h2v2h-2zM91 187h2v2h-2zM129 187h2v2h-2zM171 187h6v2h-6zM181 187h2v2h-2zM39 189h2v2h-2zM59 189h2v2h-2zM69 189h4v2h-4zM83 189h2v2h-2zM113 189h2v2h-2zM123 189h2v2h-2zM131 189h2v2h-2zM155 189h2v2h-2zM169 189h2v2h-2zM191 189h2v2h-2zM81 191h2v2h-2zM97 191h2v2h-2zM131 191h2v2h-2zM139 191h2v2h-2zM151 191h2v2h-2zM181 191h2v2h-2zM207 191h2v2h-2zM59 193h2v2h-2zM67 193h2v2h-2zM79 193h2v2h-2zM153 193h2v2h-2zM197 193h2v2h-2zM67 195h2v2h-2zM209 195h2v2h-2zM19 197h2v2h-2zM127 197h4v2h-4zM141 197h2v2h-2zM151 197h2v2h-2zM161 197h2v2h-2zM165 197h2v2h-2zM183 197h2v2h-2zM203 197h4v2h-4zM39 199h2v2h-2zM51 199h2v2h-2zM65 199h2v2h-2zM139 199h2v2h-2zM147 199h2v2h-2zM159 199h2v2h-2zM173 199h2v2h-2zM193 199h2v2h-2zM199 199h2v2h-2zM71 201h2v2h-2zM93 201h2v2h-2zM141 201h2v2h-2zM37 203h2v2h-2zM43 203h2v2h-2zM79 203h6v2h-6zM89 203h2v2h-2zM103 203h2v2h-2zM135 203h2v2h-2zM149 203h2v2h-2zM187 203h2v2h-2zM125 205h2v2h-2zM151 205h2v2h-2zM181 205h2v2h-2zM197 205h8v2h-8zM33 207h2v2h-2zM65 207h2v2h-2zM91 207h2v2h-2zM97 207h2v2h-2zM113 207h2v2h-2zM127 207h4v2h-4zM173 207h2v2h-2zM213 207h2v2h-2zM15 209h2v2h-2zM45 209h2v2h-2zM63 209h2v2h-2zM79 209h2v2h-2zM133 209h2v2h-2zM17 211h4v2h-4zM77 211h4v2h-4zM95 211h2v2h-2zM107 211h2v2h-2zM151 211h2v2h-2zM185 211h2v2h-2zM191 211h2v2h-2zM205 211h2v2h-2zM209 211h2v2h-2zM25 213h2v2h-2zM99 213h2v2h-2zM103 213h2v2h-2zM115 213h2v2h-2zM133 213h2v2h-2zM165 213h2v2h-2zM199 213h2v2h-2zM23 215h2v2h-2zM39 215h2v2h-2zM91 215h4v2h-4zM123 215h2v2h-2zM151 215h2v2h-2zM169 215h2v2h-2zM199 215h2v2h-2zM31 217h2v2h-2zM39 217h2v2h-2zM43 217h2v2h-2zM81 217h2v2h-2zM117 217h2v2h-2zM123 217h2v2h-2zM129 217h2v2h-2zM151 217h4v2h-4zM163 217h2v2h-2zM195 217h2v2h-2zM31 219h2v2h-2zM39 219h2v2h-2zM71 219h2v2h-2zM81 219h4v2h-4zM95 219h2v2h-2zM113 219h2v2h-2zM127 219h4v2h-4zM165 219h2v2h-2zM187 219h2v2h-2zM201 219h2v2h-2zM23 221h4v2h-4zM31 221h2v2h-2zM55 221h2v2h-2zM101 221h2v2h-2zM127 221h2v2h-2zM167 221h2v2h-2zM209 221h2v2h-2zM87 223h2v2h-2zM103 223h2v2h-2zM131 223h2v2h-2zM169 223h2v2h-2zM183 223h2v2h-2zM203 223h2v2h-2zM207 223h2v2h-2zM45 225h2v2h-2zM81 225h2v2h-2zM113 225h2v2h-2zM127 225h2v2h-2zM151 225h2v2h-2zM191 225h2v2h-2zM207 225h2v2h-2zM25 227h2v2h-2zM85 227h2v2h-2zM89 227h2v2h-2zM97 227h2v2h-2zM111 227h2v2h-2zM125 227h6v2h-6zM199 227h4v2h-4zM29 229h4v2h-4zM75 229h2v2h-2zM83 229h2v2h-2zM107 229h2v2h-2zM119 229h2v2h-2zM125 229h2v2h-2zM153 229h2v2h-2zM175 229h2v2h-2zM181 229h2v2h-2zM203 229h2v2h-2zM15 231h2v2h-2zM43 231h2v2h-2zM71 231h2v2h-2zM91 231h2v2h-2zM95 231h2v2h-2zM99 231h2v2h-2zM103 231h2v2h-2zM111 231h2v2h-2zM115 231h2v2h-2zM119 231h2v2h-2zM133 231h6v2h-6zM151 231h2v2h-2zM155 231h2v2h-2zM209 231h2v2h-2zM213 231h2v2h-2zM77 233h2v2h-2zM151 233h2v2h-2zM155 233h4v2h-4zM161 233h2v2h-2zM171 233h2v2h-2zM211 233h2v2h-2z"/>
<path fill="#12a088" d="M41 35h2v2h-2zM15 37h2v2h-2zM19 37h2v2h-2zM27 37h2v2h-2zM35 37h2v2h-2zM27 39h2v2h-2zM39 39h2v2h-2zM23 41h2v2h-2zM29 41h2v2h-2zM33 41h2v2h-2zM15 43h2v2h-2zM37 43h2v2h-2zM21 45h2v2h-2zM33 45h2v2h-2zM19 47h2v2h-2zM41 49h2v2h-2zM97 49h2v2h-2zM39 53h4v2h-4zM123 53h2v2h-2zM33 55h2v2h-2zM15 57h2v2h-2zM69 59h2v2h-2zM185 59h2v2h-2zM15 61h4v2h-4zM45 61h2v2h-2zM137 61h2v2h-2zM175 63h2v2h-2zM29 65h2v2h-2zM39 65h2v2h-2zM205 65h2v2h-2zM31 67h2v2h-2zM39 67h4v2h-4zM49 67h2v2h-2zM67 67h2v2h-2zM207 69h2v2h-2zM27 71h2v2h-2zM37 71h2v2h-2zM189 71h2v2h-2zM35 73h2v2h-2zM113 73h2v2h-2zM199 73h2v2h-2zM27 77h2v2h-2zM31 77h2v2h-2zM155 77h2v2h-2zM15 79h2v2h-2zM19 81h2v2h-2zM27 81h2v2h-2zM15 83h2v2h-2zM19 85h2v2h-2zM61 87h2v2h-2zM201 87h2v2h-2zM23 93h2v2h-2zM35 97h2v2h-2zM173 105h2v2h-2zM47 107h2v2h-2zM125 107h2v2h-2zM149 111h2v2h-2zM97 119h2v2h-2zM91 121h2v2h-2zM105 125h2v2h-2zM19 129h2v2h-2zM83 131h2v2h-2zM95 137h2v2h-2zM83 141h2v2h-2zM197 141h2v2h-2zM201 143h2v2h-2zM87 145h2v2h-2zM209 145h2v2h-2zM37 147h2v2h-2zM183 149h2v2h-2zM185 151h2v2h-2zM37 165h2v2h-2zM67 165h2v2h-2zM41 167h2v2h-2zM117 167h2v2h-2zM165 169h2v2h-2zM169 175h2v2h-2zM19 179h2v2h-2zM189 183h2v2h-2zM91 185h2v2h-2zM153 185h2v2h-2zM117 187h2v2h-2zM143 189h2v2h-2zM181 189h2v2h-2zM105 191h2v2h-2zM43 193h2v2h-2zM37 195h2v2h-2zM105 195h2v2h-2zM147 195h2v2h-2zM157 197h2v2h-2zM99 201h2v2h-2zM95 207h2v2h-2zM99 207h2v2h-2zM47 209h2v2h-2zM115 209h2v2h-2zM135 209h2v2h-2zM199 209h2v2h-2zM35 213h2v2h-2zM63 215h2v2h-2zM131 215h2v2h-2zM181 217h2v2h-2zM99 219h4v2h-4zM165 221h2v2h-2zM133 227h2v2h-2zM171 227h2v2h-2zM103 229h2v2h-2zM151 229h2v2h-2zM159 231h2v2h-2zM41 233h2v2h-2zM195 233h2v2h-2z"/>
<path fill="#c6dbec" d="M51 35h2v2h-2zM71 35h2v2h-2zM101 35h2v2h-2zM129 35h4v2h-4zM151 35h4v2h-4zM179 35h2v2h-2zM197 35h2v2h-2zM63 37h4v2h-4zM153 37h2v2h-2zM197 37h2v2h-2zM197 39h2v2h-2zM201 39h2v2h-2zM71 41h2v2h-2zM89 41h2v2h-2zM193 41h2v2h-2zM203 41h2v2h-2zM213 41h2v2h-2zM53 43h2v2h-2zM61 45h2v2h-2zM87 47h2v2h-2zM189 47h2v2h-2zM69 49h2v2h-2zM79 49h2v2h-2zM105 49h2v2h-2zM195 49h2v2h-2zM59 51h2v2h-2zM131 51h2v2h-2zM203 53h2v2h-2zM47 55h2v2h-2zM205 55h4v2h-4zM73 57h2v2h-2zM205 57h2v2h-2zM59 59h2v2h-2zM139 59h2v2h-2zM157 59h2v2h-2zM205 59h2v2h-2zM179 61h2v2h-2zM61 63h2v2h-2zM103 63h2v2h-2zM57 65h2v2h-2zM165 65h2v2h-2zM199 65h4v2h-4zM211 65h2v2h-2zM203 69h2v2h-2zM75 71h2v2h-2zM25 73h2v2h-2zM61 73h2v2h-2zM79 73h2v2h-2zM29 75h2v2h-2zM163 75h2v2h-2zM167 75h2v2h-2zM21 77h2v2h-2zM161 77h2v2h-2zM167 77h2v2h-2zM93 79h2v2h-2zM159 79h2v2h-2zM163 79h2v2h-2zM159 83h2v2h-2zM123 85h2v2h-2zM159 85h2v2h-2zM173 85h2v2h-2zM193 85h2v2h-2zM117 87h2v2h-2zM171 89h2v2h-2zM145 91h2v2h-2zM205 91h2v2h-2zM209 93h2v2h-2zM99 95h2v2h-2zM121 99h2v2h-2zM163 99h2v2h-2zM97 101h2v2h-2zM165 101h2v2h-2zM213 101h2v2h-2zM193 105h2v2h-2zM59 107h2v2h-2zM139 107h2v2h-2zM123 111h2v2h-2zM145 111h2v2h-2zM15 113h2v2h-2zM113 113h2v2h-2zM123 113h2v2h-2zM179 113h2v2h-2zM41 115h2v2h-2zM185 115h2v2h-2zM211 115h2v2h-2zM41 117h2v2h-2zM141 117h2v2h-2zM181 117h2v2h-2zM211 117h2v2h-2zM81 119h2v2h-2zM99 123h2v2h-2zM123 123h2v2h-2zM169 123h2v2h-2zM123 125h4v2h-4zM111 127h2v2h-2zM123 127h2v2h-2zM131 127h4v2h-4zM129 129h4v2h-4zM71 131h2v2h-2zM129 131h4v2h-4zM163 131h4v2h-4zM203 131h2v2h-2zM103 133h2v2h-2zM161 133h2v2h-2zM165 133h2v2h-2zM101 135h2v2h-2zM115 135h2v2h-2zM181 135h2v2h-2zM51 137h2v2h-2zM153 137h2v2h-2zM179 137h2v2h-2zM89 139h2v2h-2zM177 139h2v2h-2zM45 141h2v2h-2zM57 145h2v2h-2zM29 149h2v2h-2zM159 149h4v2h-4zM77 151h2v2h-2zM113 151h2v2h-2zM205 151h2v2h-2zM33 153h2v2h-2zM45 153h2v2h-2zM205 153h2v2h-2zM15 155h2v2h-2zM31 155h2v2h-2zM35 155h2v2h-2zM95 155h2v2h-2zM113 155h2v2h-2zM75 157h2v2h-2zM49 159h2v2h-2zM193 159h2v2h-2zM19 161h2v2h-2zM59 161h2v2h-2zM69 161h2v2h-2zM87 161h2v2h-2zM175 161h2v2h-2zM53 163h2v2h-2zM59 163h2v2h-2zM75 163h2v2h-2zM87 163h2v2h-2zM91 163h2v2h-2zM181 163h2v2h-2zM161 165h2v2h-2zM83 167h2v2h-2zM101 167h2v2h-2zM149 167h2v2h-2zM25 169h2v2h-2zM83 169h4v2h-4zM29 171h4v2h-4zM51 173h2v2h-2zM51 177h2v2h-2zM67 177h2v2h-2zM181 177h2v2h-2zM203 177h4v2h-4zM149 179h2v2h-2zM179 179h2v2h-2zM195 179h2v2h-2zM199 179h2v2h-2zM203 179h2v2h-2zM23 181h2v2h-2zM45 181h2v2h-2zM151 181h2v2h-2zM47 183h4v2h-4zM97 183h2v2h-2zM201 183h2v2h-2zM23 185h2v2h-2zM93 185h2v2h-2zM93 187h2v2h-2zM99 187h2v2h-2zM145 187h2v2h-2zM73 189h2v2h-2zM133 189h2v2h-2zM117 191h2v2h-2zM173 191h2v2h-2zM15 193h2v2h-2zM141 193h4v2h-4zM145 195h2v2h-2zM27 197h2v2h-2zM43 197h2v2h-2zM91 197h2v2h-2zM103 197h2v2h-2zM207 197h2v2h-2zM43 199h2v2h-2zM133 199h2v2h-2zM171 201h2v2h-2zM21 203h2v2h-2zM61 203h2v2h-2zM65 203h2v2h-2zM71 203h2v2h-2zM75 203h2v2h-2zM207 203h2v2h-2zM59 205h2v2h-2zM187 207h2v2h-2zM61 209h2v2h-2zM189 209h2v2h-2zM193 209h2v2h-2zM29 211h2v2h-2zM59 211h2v2h-2zM75 211h2v2h-2zM177 211h2v2h-2zM187 211h2v2h-2zM207 211h2v2h-2zM31 213h2v2h-2zM67 213h4v2h-4zM179 213h2v2h-2zM71 215h2v2h-2zM153 215h2v2h-2zM171 215h2v2h-2zM209 215h2v2h-2zM71 217h2v2h-2zM89 217h2v2h-2zM135 217h2v2h-2zM193 217h2v2h-2zM133 219h2v2h-2zM147 219h2v2h-2zM193 219h2v2h-2zM93 221h2v2h-2zM97 221h2v2h-2zM123 221h2v2h-2zM195 221h2v2h-2zM73 223h2v2h-2zM97 223h2v2h-2zM73 225h2v2h-2zM65 227h2v2h-2zM71 227h2v2h-2zM119 227h2v2h-2zM147 227h2v2h-2zM39 229h2v2h-2zM43 229h2v2h-2zM189 229h2v2h-2zM189 231h2v2h-2zM31 233h2v2h-2zM201 233h2v2h-2z"/>
<path fill="#dce8f3" d="M55 35h2v2h-2zM121 35h2v2h-2zM187 35h2v2h-2zM199 35h2v2h-2zM129 37h2v2h-2zM61 39h2v2h-2zM171 39h2v2h-2zM193 39h2v2h-2zM211 39h2v2h-2zM47 41h2v2h-2zM209 41h2v2h-2zM55 43h2v2h-2zM61 43h2v2h-2zM83 43h2v2h-2zM139 43h2v2h-2zM213 43h2v2h-2zM17 45h2v2h-2zM77 45h2v2h-2zM145 45h2v2h-2zM153 45h2v2h-2zM177 45h2v2h-2zM201 45h2v2h-2zM73 47h2v2h-2zM153 47h2v2h-2zM165 47h2v2h-2zM181 47h4v2h-4zM125 49h2v2h-2zM129 49h4v2h-4zM169 49h2v2h-2zM23 51h2v2h-2zM47 51h2v2h-2zM83 51h2v2h-2zM107 51h2v2h-2zM113 51h2v2h-2zM61 53h2v2h-2zM89 53h2v2h-2zM105 53h2v2h-2zM155 53h2v2h-2zM205 53h2v2h-2zM45 55h2v2h-2zM75 55h2v2h-2zM75 57h2v2h-2zM141 57h2v2h-2zM177 57h4v2h-4zM209 57h2v2h-2zM75 59h2v2h-2zM135 59h2v2h-2zM175 59h2v2h-2zM207 59h2v2h-2zM67 65h2v2h-2zM107 65h2v2h-2zM197 65h2v2h-2zM59 67h2v2h-2zM63 67h4v2h-4zM107 67h2v2h-2zM131 67h2v2h-2zM193 67h2v2h-2zM197 67h2v2h-2zM187 69h2v2h-2zM63 75h2v2h-2zM23 77h2v2h-2zM159 77h2v2h-2zM185 77h2v2h-2zM165 79h2v2h-2zM159 81h2v2h-2zM179 83h2v2h-2zM59 85h2v2h-2zM191 85h2v2h-2zM121 89h2v2h-2zM173 89h2v2h-2zM205 89h2v2h-2zM111 91h2v2h-2zM163 91h2v2h-2zM209 91h2v2h-2zM97 93h2v2h-2zM131 93h2v2h-2zM141 93h2v2h-2zM145 93h2v2h-2zM165 93h2v2h-2zM193 93h2v2h-2zM75 95h2v2h-2zM97 95h2v2h-2zM97 97h2v2h-2zM163 97h2v2h-2zM195 97h2v2h-2zM119 99h2v2h-2zM39 101h2v2h-2zM49 101h4v2h-4zM95 101h2v2h-2zM121 101h2v2h-2zM131 101h2v2h-2zM155 101h2v2h-2zM163 101h2v2h-2zM97 103h2v2h-2zM107 103h2v2h-2zM61 105h2v2h-2zM103 105h2v2h-2zM111 105h2v2h-2zM99 107h2v2h-2zM109 107h2v2h-2zM137 107h2v2h-2zM15 109h2v2h-2zM105 109h2v2h-2zM111 109h2v2h-2zM161 109h4v2h-4zM37 111h2v2h-2zM73 111h2v2h-2zM199 111h2v2h-2zM71 113h2v2h-2zM75 113h2v2h-2zM141 113h6v2h-6zM181 113h2v2h-2zM141 115h2v2h-2zM181 115h2v2h-2zM207 115h2v2h-2zM39 117h2v2h-2zM185 117h2v2h-2zM183 119h2v2h-2zM41 121h2v2h-2zM49 121h2v2h-2zM103 121h2v2h-2zM37 123h2v2h-2zM97 123h2v2h-2zM203 123h2v2h-2zM197 125h2v2h-2zM71 127h4v2h-4zM69 129h4v2h-4zM161 135h2v2h-2zM167 135h2v2h-2zM85 137h2v2h-2zM177 137h2v2h-2zM181 137h2v2h-2zM135 139h2v2h-2zM161 139h2v2h-2zM181 139h2v2h-2zM21 141h2v2h-2zM69 141h4v2h-4zM177 141h2v2h-2zM203 141h2v2h-2zM211 141h2v2h-2zM47 143h2v2h-2zM105 143h2v2h-2zM135 143h2v2h-2zM207 145h2v2h-2zM127 147h2v2h-2zM189 147h2v2h-2zM123 149h2v2h-2zM189 149h2v2h-2zM39 151h2v2h-2zM111 151h2v2h-2zM191 151h2v2h-2zM207 151h2v2h-2zM93 153h2v2h-2zM97 153h2v2h-2zM99 155h2v2h-2zM95 157h2v2h-2zM125 157h2v2h-2zM137 157h2v2h-2zM185 159h2v2h-2zM189 159h2v2h-2zM95 161h2v2h-2zM179 161h2v2h-2zM185 161h2v2h-2zM179 163h2v2h-2zM57 165h2v2h-2zM177 167h2v2h-2zM73 169h4v2h-4zM87 169h2v2h-2zM115 169h2v2h-2zM27 171h2v2h-2zM75 171h2v2h-2zM159 171h2v2h-2zM29 173h2v2h-2zM89 173h2v2h-2zM159 173h2v2h-2zM57 175h2v2h-2zM133 175h2v2h-2zM115 177h2v2h-2zM179 177h2v2h-2zM201 177h2v2h-2zM49 179h2v2h-2zM117 179h2v2h-2zM201 179h2v2h-2zM27 181h2v2h-2zM43 181h2v2h-2zM27 183h2v2h-2zM65 183h2v2h-2zM95 183h2v2h-2zM145 183h2v2h-2zM151 183h2v2h-2zM181 183h2v2h-2zM45 185h2v2h-2zM97 185h2v2h-2zM27 187h2v2h-2zM65 187h2v2h-2zM97 187h2v2h-2zM139 187h2v2h-2zM199 187h2v2h-2zM135 189h2v2h-2zM143 191h2v2h-2zM145 193h4v2h-4zM45 195h2v2h-2zM93 195h2v2h-2zM115 195h2v2h-2zM151 195h2v2h-2zM171 195h2v2h-2zM175 195h2v2h-2zM45 197h2v2h-2zM97 197h2v2h-2zM117 197h2v2h-2zM95 199h2v2h-2zM117 199h2v2h-2zM191 199h2v2h-2zM63 201h4v2h-4zM117 201h2v2h-2zM209 201h2v2h-2zM25 203h4v2h-4zM67 203h2v2h-2zM73 203h2v2h-2zM171 203h2v2h-2zM27 205h2v2h-2zM61 205h2v2h-2zM77 205h2v2h-2zM209 205h2v2h-2zM35 207h2v2h-2zM185 207h2v2h-2zM59 209h2v2h-2zM99 209h2v2h-2zM147 209h2v2h-2zM177 209h2v2h-2zM191 209h2v2h-2zM71 211h2v2h-2zM171 211h2v2h-2zM45 213h2v2h-2zM61 213h2v2h-2zM137 215h2v2h-2zM159 215h2v2h-2zM177 217h2v2h-2zM183 217h2v2h-2zM85 219h2v2h-2zM117 221h2v2h-2zM137 221h2v2h-2zM191 221h2v2h-2zM37 223h2v2h-2zM77 223h2v2h-2zM95 223h2v2h-2zM115 223h2v2h-2zM123 223h2v2h-2zM69 225h2v2h-2zM115 225h2v2h-2zM131 225h2v2h-2zM165 225h2v2h-2zM179 225h2v2h-2zM115 229h4v2h-4zM177 229h2v2h-2zM177 231h2v2h-2zM29 233h2v2h-2z"/>
<path fill="#9fe426" d="M59 35h2v2h-2zM91 37h2v2h-2zM141 37h2v2h-2zM189 37h2v2h-2zM107 39h2v2h-2zM129 39h2v2h-2zM167 39h2v2h-2zM91 41h4v2h-4zM107 41h2v2h-2zM125 41h2v2h-2zM173 41h2v2h-2zM181 41h2v2h-2zM189 41h2v2h-2zM207 41h2v2h-2zM31 43h2v2h-2zM131 43h2v2h-2zM175 43h2v2h-2zM137 45h2v2h-2zM157 45h2v2h-2zM207 45h2v2h-2zM99 47h2v2h-2zM185 47h2v2h-2zM135 49h2v2h-2zM187 49h2v2h-2zM51 51h2v2h-2zM139 51h4v2h-4zM155 51h2v2h-2zM169 51h2v2h-2zM73 53h2v2h-2zM51 57h2v2h-2zM115 57h2v2h-2zM115 59h2v2h-2zM97 61h2v2h-2zM107 61h2v2h-2zM183 61h2v2h-2zM189 61h2v2h-2zM195 61h2v2h-2zM43 63h2v2h-2zM49 63h2v2h-2zM63 63h2v2h-2zM205 63h2v2h-2zM71 65h2v2h-2zM87 65h2v2h-2zM101 65h2v2h-2zM153 65h2v2h-2zM173 65h2v2h-2zM181 65h2v2h-2zM189 65h2v2h-2zM77 67h2v2h-2zM151 67h2v2h-2zM69 69h2v2h-2zM151 69h2v2h-2zM55 71h2v2h-2zM121 71h2v2h-2zM161 71h2v2h-2zM201 71h2v2h-2zM211 71h2v2h-2zM121 73h2v2h-2zM133 73h2v2h-2zM75 75h2v2h-2zM135 75h2v2h-2zM141 75h2v2h-2zM79 77h2v2h-2zM103 79h2v2h-2zM147 79h2v2h-2zM197 79h2v2h-2zM83 81h2v2h-2zM145 81h2v2h-2zM181 81h2v2h-2zM185 81h2v2h-2zM77 83h2v2h-2zM87 83h2v2h-2zM15 85h2v2h-2zM69 85h2v2h-2zM103 85h2v2h-2zM131 85h2v2h-2zM145 85h2v2h-2zM69 87h2v2h-2zM133 87h2v2h-2zM189 87h2v2h-2zM21 89h2v2h-2zM61 89h2v2h-2zM179 89h2v2h-2zM187 89h2v2h-2zM199 89h2v2h-2zM37 91h2v2h-2zM139 91h2v2h-2zM89 93h2v2h-2zM181 93h2v2h-2zM199 93h2v2h-2zM21 97h2v2h-2zM31 97h2v2h-2zM77 97h2v2h-2zM187 97h2v2h-2zM67 99h2v2h-2zM83 99h2v2h-2zM127 99h4v2h-4zM197 99h2v2h-2zM15 101h2v2h-2zM21 101h2v2h-2zM195 101h2v2h-2zM205 101h2v2h-2zM23 103h2v2h-2zM103 103h2v2h-2zM133 103h2v2h-2zM189 103h2v2h-2zM199 103h2v2h-2zM69 105h2v2h-2zM131 107h2v2h-2zM91 109h2v2h-2zM167 109h2v2h-2zM67 111h2v2h-2zM129 111h2v2h-2zM197 111h2v2h-2zM109 113h2v2h-2zM169 113h2v2h-2zM195 113h2v2h-2zM213 113h2v2h-2zM35 115h2v2h-2zM51 115h2v2h-2zM69 115h2v2h-2zM113 115h2v2h-2zM119 115h4v2h-4zM149 117h2v2h-2zM195 117h2v2h-2zM25 121h2v2h-2zM121 121h2v2h-2zM63 123h2v2h-2zM165 123h2v2h-2zM197 123h4v2h-4zM101 125h2v2h-2zM111 125h2v2h-2zM193 125h2v2h-2zM25 127h2v2h-2zM83 127h2v2h-2zM137 127h2v2h-2zM141 129h2v2h-2zM189 129h2v2h-2zM213 129h2v2h-2zM169 131h2v2h-2zM189 133h2v2h-2zM17 135h2v2h-2zM29 135h2v2h-2zM51 135h2v2h-2zM79 135h2v2h-2zM105 135h2v2h-2zM137 135h2v2h-2zM25 137h2v2h-2zM57 137h2v2h-2zM113 137h2v2h-2zM199 137h2v2h-2zM75 139h2v2h-2zM97 139h2v2h-2zM195 139h2v2h-2zM27 141h2v2h-2zM107 141h2v2h-2zM157 143h2v2h-2zM197 143h2v2h-2zM55 145h2v2h-2zM127 145h2v2h-2zM55 147h2v2h-2zM173 147h2v2h-2zM83 149h2v2h-2zM87 149h2v2h-2zM131 149h4v2h-4zM47 151h2v2h-2zM55 151h2v2h-2zM59 151h2v2h-2zM167 151h2v2h-2zM69 153h2v2h-2zM143 153h2v2h-2zM201 153h2v2h-2zM161 155h2v2h-2zM165 155h2v2h-2zM183 155h2v2h-2zM55 157h2v2h-2zM201 157h2v2h-2zM15 159h2v2h-2zM99 159h2v2h-2zM199 159h2v2h-2zM75 161h2v2h-2zM99 161h2v2h-2zM121 161h2v2h-2zM17 163h4v2h-4zM23 165h2v2h-2zM77 165h2v2h-2zM19 167h2v2h-2zM31 167h2v2h-2zM133 167h2v2h-2zM139 167h2v2h-2zM201 167h2v2h-2zM211 167h4v2h-4zM107 169h2v2h-2zM91 171h2v2h-2zM185 171h2v2h-2zM21 173h2v2h-2zM135 173h4v2h-4zM21 175h4v2h-4zM53 175h2v2h-2zM65 175h2v2h-2zM79 175h2v2h-2zM189 175h2v2h-2zM207 175h2v2h-2zM211 175h2v2h-2zM41 177h2v2h-2zM81 177h4v2h-4zM89 177h2v2h-2zM99 177h2v2h-2zM109 177h2v2h-2zM127 177h2v2h-2zM145 177h2v2h-2zM185 177h2v2h-2zM207 177h2v2h-2zM71 179h2v2h-2zM143 179h2v2h-2zM157 179h2v2h-2zM21 181h2v2h-2zM55 181h2v2h-2zM73 181h2v2h-2zM95 181h2v2h-2zM175 181h2v2h-2zM189 181h2v2h-2zM33 183h2v2h-2zM89 183h2v2h-2zM99 183h2v2h-2zM85 185h2v2h-2zM119 185h2v2h-2zM129 185h2v2h-2zM21 187h2v2h-2zM45 187h2v2h-2zM187 187h2v2h-2zM205 187h2v2h-2zM61 189h2v2h-2zM65 189h2v2h-2zM127 189h2v2h-2zM211 189h2v2h-2zM109 191h2v2h-2zM201 191h2v2h-2zM123 193h2v2h-2zM211 193h2v2h-2zM103 195h2v2h-2zM149 195h2v2h-2zM191 195h2v2h-2zM87 197h2v2h-2zM167 197h4v2h-4zM177 197h2v2h-2zM85 199h2v2h-2zM111 199h2v2h-2zM143 199h2v2h-2zM181 199h2v2h-2zM195 199h2v2h-2zM85 201h2v2h-2zM119 205h2v2h-2zM17 207h4v2h-4zM119 207h2v2h-2zM23 209h2v2h-2zM51 209h2v2h-2zM65 209h2v2h-2zM69 209h2v2h-2zM85 209h2v2h-2zM109 209h2v2h-2zM167 209h2v2h-2zM125 211h2v2h-2zM153 211h2v2h-2zM161 211h4v2h-4zM193 211h2v2h-2zM63 213h2v2h-2zM83 213h2v2h-2zM101 213h2v2h-2zM125 213h2v2h-2zM163 213h2v2h-2zM83 215h2v2h-2zM117 215h2v2h-2zM127 215h2v2h-2zM157 215h2v2h-2zM165 215h4v2h-4zM195 215h2v2h-2zM29 217h2v2h-2zM93 217h2v2h-2zM127 217h2v2h-2zM161 217h2v2h-2zM171 217h2v2h-2zM209 217h2v2h-2zM15 219h2v2h-2zM119 219h2v2h-2zM153 219h2v2h-2zM185 219h2v2h-2zM205 219h2v2h-2zM45 221h4v2h-4zM67 221h2v2h-2zM91 221h2v2h-2zM207 221h2v2h-2zM47 223h2v2h-2zM107 223h2v2h-2zM129 223h2v2h-2zM147 223h4v2h-4zM23 225h2v2h-2zM27 225h2v2h-2zM57 225h4v2h-4zM83 225h2v2h-2zM197 225h2v2h-2zM201 225h2v2h-2zM27 227h2v2h-2zM59 227h2v2h-2zM95 227h2v2h-2zM159 227h2v2h-2zM97 229h2v2h-2zM211 229h2v2h-2zM153 231h2v2h-2zM167 231h2v2h-2zM201 231h2v2h-2zM17 233h2v2h-2zM111 233h2v2h-2zM137 233h2v2h-2z"/>
<path fill="#eaea22" d="M67 35h2v2h-2zM183 35h2v2h-2zM109 37h2v2h-2zM127 37h2v2h-2zM77 39h2v2h-2zM135 41h2v2h-2zM57 43h2v2h-2zM53 45h2v2h-2zM105 45h4v2h-4zM113 45h2v2h-2zM189 45h2v2h-2zM119 49h2v2h-2zM189 51h2v2h-2zM149 53h2v2h-2zM167 53h2v2h-2zM49 55h2v2h-2zM157 55h2v2h-2zM85 57h2v2h-2zM157 57h2v2h-2zM201 57h2v2h-2zM57 59h2v2h-2zM87 59h2v2h-2zM103 59h2v2h-2zM159 59h2v2h-2zM165 59h2v2h-2zM195 59h2v2h-2zM127 61h2v2h-2zM173 61h2v2h-2zM83 63h2v2h-2zM101 63h2v2h-2zM111 63h2v2h-2zM65 65h2v2h-2zM75 65h2v2h-2zM115 65h2v2h-2zM155 65h2v2h-2zM73 69h2v2h-2zM97 69h2v2h-2zM147 69h2v2h-2zM91 71h2v2h-2zM103 71h2v2h-2zM107 71h2v2h-2zM69 73h2v2h-2zM83 73h2v2h-2zM107 73h4v2h-4zM139 73h2v2h-2zM143 73h2v2h-2zM173 73h2v2h-2zM87 77h2v2h-2zM95 77h2v2h-2zM109 77h2v2h-2zM169 77h2v2h-2zM77 79h2v2h-2zM97 79h4v2h-4zM107 79h2v2h-2zM69 81h2v2h-2zM99 81h2v2h-2zM107 81h2v2h-2zM165 81h2v2h-2zM55 83h2v2h-2zM87 85h2v2h-2zM107 85h2v2h-2zM121 85h2v2h-2zM113 87h2v2h-2zM119 87h2v2h-2zM157 87h2v2h-2zM207 87h2v2h-2zM99 89h2v2h-2zM131 89h4v2h-4zM57 91h2v2h-2zM157 91h2v2h-2zM35 93h2v2h-2zM183 93h2v2h-2zM23 95h2v2h-2zM61 95h2v2h-2zM105 95h2v2h-2zM133 95h2v2h-2zM187 95h2v2h-2zM19 97h2v2h-2zM175 97h2v2h-2zM17 99h2v2h-2zM97 99h2v2h-2zM183 99h2v2h-2zM135 103h2v2h-2zM149 103h2v2h-2zM135 105h2v2h-2zM161 105h2v2h-2zM165 105h2v2h-2zM75 107h2v2h-2zM175 107h2v2h-2zM189 107h2v2h-2zM165 109h2v2h-2zM173 109h2v2h-2zM181 109h2v2h-2zM191 111h2v2h-2zM25 113h2v2h-2zM167 113h2v2h-2zM107 115h2v2h-2zM113 117h2v2h-2zM67 119h2v2h-2zM71 119h2v2h-2zM113 119h2v2h-2zM131 119h2v2h-2zM137 119h2v2h-2zM153 119h4v2h-4zM145 121h2v2h-2zM201 121h2v2h-2zM65 123h2v2h-2zM79 123h4v2h-4zM111 123h2v2h-2zM127 123h2v2h-2zM159 123h2v2h-2zM81 125h2v2h-2zM189 125h2v2h-2zM195 125h2v2h-2zM103 127h2v2h-2zM107 127h2v2h-2zM173 127h2v2h-2zM177 127h2v2h-2zM193 127h2v2h-2zM151 129h2v2h-2zM171 129h2v2h-2zM181 129h2v2h-2zM141 131h2v2h-2zM183 131h2v2h-2zM37 133h2v2h-2zM115 133h2v2h-2zM55 135h2v2h-2zM155 135h4v2h-4zM55 137h2v2h-2zM147 137h2v2h-2zM27 139h2v2h-2zM129 139h2v2h-2zM211 139h2v2h-2zM81 141h2v2h-2zM127 141h2v2h-2zM165 141h2v2h-2zM147 143h2v2h-2zM31 145h2v2h-2zM75 145h2v2h-2zM129 145h2v2h-2zM133 145h2v2h-2zM141 145h2v2h-2zM151 145h2v2h-2zM167 145h2v2h-2zM33 147h2v2h-2zM73 147h2v2h-2zM81 147h2v2h-2zM145 147h2v2h-2zM177 147h2v2h-2zM185 147h2v2h-2zM33 149h2v2h-2zM77 149h2v2h-2zM157 149h2v2h-2zM19 151h2v2h-2zM51 151h2v2h-2zM147 151h6v2h-6zM171 151h2v2h-2zM123 153h2v2h-2zM131 153h6v2h-6zM157 153h2v2h-2zM57 155h2v2h-2zM107 155h2v2h-2zM129 155h2v2h-2zM137 155h4v2h-4zM147 155h2v2h-2zM175 155h2v2h-2zM27 157h2v2h-2zM79 157h2v2h-2zM123 157h2v2h-2zM131 157h2v2h-2zM143 157h2v2h-2zM147 157h2v2h-2zM153 157h2v2h-2zM163 157h2v2h-2zM75 159h2v2h-2zM115 159h2v2h-2zM127 159h2v2h-2zM161 159h2v2h-2zM101 161h2v2h-2zM107 161h2v2h-2zM113 161h2v2h-2zM131 161h2v2h-2zM139 161h2v2h-2zM147 161h2v2h-2zM161 161h2v2h-2zM167 161h2v2h-2zM25 163h2v2h-2zM103 163h2v2h-2zM111 163h4v2h-4zM123 163h2v2h-2zM131 163h2v2h-2zM143 163h2v2h-2zM73 165h2v2h-2zM113 165h2v2h-2zM129 165h2v2h-2zM139 165h2v2h-2zM157 165h2v2h-2zM63 169h2v2h-2zM93 169h2v2h-2zM149 169h2v2h-2zM161 169h2v2h-2zM171 169h2v2h-2zM171 171h2v2h-2zM37 173h2v2h-2zM115 173h2v2h-2zM119 173h2v2h-2zM173 173h2v2h-2zM189 173h2v2h-2zM107 175h4v2h-4zM181 175h2v2h-2zM193 175h2v2h-2zM201 175h2v2h-2zM103 181h2v2h-2zM119 181h2v2h-2zM75 183h2v2h-2zM83 183h2v2h-2zM199 183h2v2h-2zM179 185h2v2h-2zM193 185h2v2h-2zM47 187h2v2h-2zM75 187h2v2h-2zM49 189h2v2h-2zM209 189h2v2h-2zM55 191h2v2h-2zM127 191h2v2h-2zM189 191h2v2h-2zM49 193h4v2h-4zM131 193h2v2h-2zM73 195h2v2h-2zM185 195h2v2h-2zM31 197h2v2h-2zM75 197h2v2h-2zM163 197h2v2h-2zM195 197h2v2h-2zM55 199h2v2h-2zM137 199h2v2h-2zM163 201h2v2h-2zM127 203h2v2h-2zM155 203h4v2h-4zM109 205h2v2h-2zM147 205h2v2h-2zM155 205h2v2h-2zM169 205h4v2h-4zM133 207h2v2h-2zM19 209h2v2h-2zM123 209h2v2h-2zM129 209h2v2h-2zM139 209h2v2h-2zM213 211h2v2h-2zM141 213h2v2h-2zM79 215h4v2h-4zM35 219h2v2h-2zM55 219h2v2h-2zM107 219h2v2h-2zM57 223h2v2h-2zM151 223h2v2h-2zM123 225h2v2h-2zM185 225h2v2h-2zM67 229h2v2h-2zM129 229h2v2h-2zM197 229h2v2h-2zM201 229h2v2h-2zM25 231h2v2h-2zM51 231h2v2h-2z"/>
<path fill="#fbe226" d="M73 35h2v2h-2zM111 35h2v2h-2zM123 39h2v2h-2zM161 39h2v2h-2zM117 41h2v2h-2zM147 41h2v2h-2zM109 45h2v2h-2zM115 45h2v2h-2zM123 45h2v2h-2zM131 45h2v2h-2zM149 45h2v2h-2zM103 47h2v2h-2zM145 47h2v2h-2zM113 53h2v2h-2zM137 53h2v2h-2zM119 55h2v2h-2zM129 55h2v2h-2zM137 55h2v2h-2zM163 55h2v2h-2zM55 57h2v2h-2zM89 57h2v2h-2zM129 57h2v2h-2zM163 57h2v2h-2zM81 59h2v2h-2zM69 61h2v2h-2zM159 61h2v2h-2zM93 63h2v2h-2zM183 63h2v2h-2zM191 63h2v2h-2zM55 65h2v2h-2zM71 67h2v2h-2zM145 69h2v2h-2zM171 69h2v2h-2zM67 71h2v2h-2zM141 71h2v2h-2zM57 73h2v2h-2zM77 75h2v2h-2zM127 75h2v2h-2zM171 75h2v2h-2zM61 77h2v2h-2zM85 77h2v2h-2zM97 77h2v2h-2zM197 77h2v2h-2zM53 79h2v2h-2zM79 79h2v2h-2zM95 79h2v2h-2zM123 79h2v2h-2zM49 81h2v2h-2zM103 81h2v2h-2zM109 81h2v2h-2zM127 81h2v2h-2zM83 83h2v2h-2zM141 85h2v2h-2zM63 87h2v2h-2zM79 87h2v2h-2zM105 87h2v2h-2zM73 89h4v2h-4zM107 89h4v2h-4zM49 91h2v2h-2zM103 91h2v2h-2zM127 91h2v2h-2zM37 93h2v2h-2zM101 93h2v2h-2zM153 93h2v2h-2zM25 95h4v2h-4zM79 95h2v2h-2zM139 95h2v2h-2zM17 97h2v2h-2zM155 97h2v2h-2zM53 99h2v2h-2zM179 99h2v2h-2zM125 101h2v2h-2zM145 101h2v2h-2zM183 101h2v2h-2zM119 103h2v2h-2zM171 103h2v2h-2zM203 103h2v2h-2zM53 105h2v2h-2zM63 105h2v2h-2zM139 105h2v2h-2zM45 107h2v2h-2zM93 107h2v2h-2zM25 109h2v2h-2zM171 109h2v2h-2zM47 111h2v2h-2zM121 111h2v2h-2zM125 111h2v2h-2zM139 111h2v2h-2zM193 111h2v2h-2zM55 113h2v2h-2zM147 113h2v2h-2zM153 113h2v2h-2zM193 113h2v2h-2zM33 115h2v2h-2zM79 115h2v2h-2zM135 115h2v2h-2zM157 115h4v2h-4zM27 117h2v2h-2zM47 117h2v2h-2zM73 117h2v2h-2zM79 117h2v2h-2zM115 117h2v2h-2zM137 117h2v2h-2zM153 117h2v2h-2zM63 119h2v2h-2zM115 119h2v2h-2zM175 119h2v2h-2zM65 121h2v2h-2zM75 121h2v2h-2zM123 121h2v2h-2zM129 121h2v2h-2zM143 121h2v2h-2zM159 121h2v2h-2zM189 121h2v2h-2zM193 121h2v2h-2zM119 123h2v2h-2zM153 123h4v2h-4zM147 125h2v2h-2zM159 125h2v2h-2zM163 125h2v2h-2zM169 125h2v2h-2zM175 125h2v2h-2zM191 125h2v2h-2zM23 127h2v2h-2zM65 127h2v2h-2zM159 129h2v2h-2zM207 129h2v2h-2zM113 131h2v2h-2zM135 131h2v2h-2zM139 131h2v2h-2zM39 133h2v2h-2zM25 135h2v2h-2zM31 135h2v2h-2zM113 135h2v2h-2zM119 135h2v2h-2zM125 135h4v2h-4zM139 135h2v2h-2zM19 137h2v2h-2zM105 137h2v2h-2zM129 137h2v2h-2zM141 137h2v2h-2zM145 137h2v2h-2zM165 137h2v2h-2zM207 137h2v2h-2zM63 139h2v2h-2zM213 139h2v2h-2zM33 141h2v2h-2zM109 141h2v2h-2zM121 141h2v2h-2zM149 141h4v2h-4zM173 141h2v2h-2zM15 143h2v2h-2zM131 145h2v2h-2zM135 145h2v2h-2zM145 145h2v2h-2zM185 145h2v2h-2zM21 147h2v2h-2zM35 147h2v2h-2zM121 147h2v2h-2zM125 147h2v2h-2zM147 147h2v2h-2zM163 147h2v2h-2zM21 149h2v2h-2zM49 149h2v2h-2zM79 149h2v2h-2zM25 153h2v2h-2zM105 153h2v2h-2zM145 153h2v2h-2zM149 153h2v2h-2zM49 155h2v2h-2zM83 155h2v2h-2zM163 155h2v2h-2zM85 157h2v2h-2zM89 157h2v2h-2zM35 159h2v2h-2zM91 159h2v2h-2zM141 159h2v2h-2zM149 159h2v2h-2zM133 161h2v2h-2zM137 161h2v2h-2zM149 161h6v2h-6zM163 161h2v2h-2zM125 163h2v2h-2zM147 163h2v2h-2zM19 165h2v2h-2zM109 165h2v2h-2zM121 165h2v2h-2zM127 165h2v2h-2zM147 165h2v2h-2zM69 167h2v2h-2zM79 167h2v2h-2zM165 167h2v2h-2zM35 169h2v2h-2zM71 169h2v2h-2zM101 171h2v2h-2zM127 171h2v2h-2zM133 171h2v2h-2zM59 173h2v2h-2zM81 173h2v2h-2zM87 173h2v2h-2zM185 173h2v2h-2zM133 177h2v2h-2zM59 179h4v2h-4zM137 183h2v2h-2zM177 183h2v2h-2zM121 185h2v2h-2zM139 185h2v2h-2zM161 185h2v2h-2zM31 187h2v2h-2zM37 187h2v2h-2zM141 187h2v2h-2zM121 189h2v2h-2zM167 189h2v2h-2zM27 191h2v2h-2zM77 191h2v2h-2zM107 191h2v2h-2zM191 191h2v2h-2zM21 193h2v2h-2zM103 193h2v2h-2zM167 193h2v2h-2zM183 193h2v2h-2zM39 195h2v2h-2zM51 195h2v2h-2zM55 195h2v2h-2zM153 195h2v2h-2zM165 195h4v2h-4zM49 197h2v2h-2zM81 197h2v2h-2zM173 197h2v2h-2zM181 197h2v2h-2zM161 199h2v2h-2zM53 201h2v2h-2zM89 201h2v2h-2zM15 203h2v2h-2zM19 205h2v2h-2zM83 205h2v2h-2zM99 205h2v2h-2zM57 207h2v2h-2zM155 207h2v2h-2zM77 209h2v2h-2zM159 209h2v2h-2zM213 209h2v2h-2zM117 213h2v2h-2zM145 213h2v2h-2zM149 213h2v2h-2zM197 213h2v2h-2zM29 215h2v2h-2zM147 215h2v2h-2zM149 217h2v2h-2zM111 219h2v2h-2zM145 219h2v2h-2zM157 219h2v2h-2zM19 221h2v2h-2zM85 221h2v2h-2zM181 221h2v2h-2zM53 223h2v2h-2zM167 225h2v2h-2zM193 225h2v2h-2zM69 227h2v2h-2zM197 227h2v2h-2zM207 227h2v2h-2zM113 231h2v2h-2zM125 231h2v2h-2zM173 231h2v2h-2zM23 233h2v2h-2z"/>
<path fill="#d8e628" d="M75 35h2v2h-2zM97 35h2v2h-2zM113 35h2v2h-2zM181 35h2v2h-2zM101 37h2v2h-2zM105 37h2v2h-2zM119 37h2v2h-2zM77 41h2v2h-2zM43 43h2v2h-2zM97 43h2v2h-2zM113 43h2v2h-2zM117 43h2v2h-2zM71 45h2v2h-2zM117 45h2v2h-2zM125 45h2v2h-2zM183 49h2v2h-2zM117 51h2v2h-2zM157 53h2v2h-2zM93 55h2v2h-2zM197 55h2v2h-2zM201 55h2v2h-2zM155 57h2v2h-2zM97 59h2v2h-2zM127 59h2v2h-2zM91 61h2v2h-2zM79 63h2v2h-2zM87 63h2v2h-2zM91 67h2v2h-2zM115 67h2v2h-2zM65 69h2v2h-2zM99 69h2v2h-2zM71 71h2v2h-2zM85 71h2v2h-2zM131 71h2v2h-2zM209 73h2v2h-2zM109 75h2v2h-2zM139 75h2v2h-2zM193 75h4v2h-4zM73 77h2v2h-2zM99 77h2v2h-2zM51 79h2v2h-2zM73 79h2v2h-2zM87 79h2v2h-2zM113 79h2v2h-2zM141 79h2v2h-2zM213 79h2v2h-2zM23 81h2v2h-2zM59 81h2v2h-2zM65 81h2v2h-2zM101 81h2v2h-2zM153 81h2v2h-2zM21 83h2v2h-2zM47 83h2v2h-2zM151 83h2v2h-2zM35 85h2v2h-2zM99 85h4v2h-4zM185 85h2v2h-2zM27 87h2v2h-2zM45 87h2v2h-2zM103 87h2v2h-2zM203 87h2v2h-2zM25 89h2v2h-2zM43 89h2v2h-2zM55 89h2v2h-2zM77 89h2v2h-2zM113 89h2v2h-2zM27 91h2v2h-2zM31 91h2v2h-2zM47 91h2v2h-2zM99 91h2v2h-2zM107 93h2v2h-2zM135 95h2v2h-2zM29 97h2v2h-2zM101 97h2v2h-2zM117 97h2v2h-2zM135 97h2v2h-2zM101 99h2v2h-2zM111 99h4v2h-4zM19 101h2v2h-2zM113 101h2v2h-2zM171 101h2v2h-2zM181 101h2v2h-2zM161 103h2v2h-2zM181 103h2v2h-2zM67 105h2v2h-2zM119 105h2v2h-2zM33 107h4v2h-4zM55 107h2v2h-2zM69 107h2v2h-2zM155 107h2v2h-2zM163 107h2v2h-2zM125 109h2v2h-2zM185 109h2v2h-2zM111 111h2v2h-2zM133 111h2v2h-2zM153 111h4v2h-4zM61 113h2v2h-2zM101 113h2v2h-2zM133 113h2v2h-2zM109 115h2v2h-2zM153 115h2v2h-2zM101 117h2v2h-2zM57 119h2v2h-2zM69 119h2v2h-2zM117 119h2v2h-2zM129 119h2v2h-2zM135 119h2v2h-2zM21 121h2v2h-2zM27 121h2v2h-2zM107 121h2v2h-2zM161 121h2v2h-2zM169 121h2v2h-2zM115 123h2v2h-2zM129 123h2v2h-2zM135 123h2v2h-2zM173 123h2v2h-2zM71 125h2v2h-2zM113 125h2v2h-2zM143 125h2v2h-2zM143 127h4v2h-4zM153 127h2v2h-2zM101 129h2v2h-2zM137 129h2v2h-2zM183 129h2v2h-2zM197 129h2v2h-2zM211 129h2v2h-2zM65 131h2v2h-2zM143 131h2v2h-2zM149 131h2v2h-2zM191 131h2v2h-2zM29 133h2v2h-2zM107 133h2v2h-2zM157 133h2v2h-2zM171 133h2v2h-2zM185 133h2v2h-2zM149 135h2v2h-2zM193 135h2v2h-2zM17 137h2v2h-2zM23 137h2v2h-2zM121 137h2v2h-2zM169 137h2v2h-2zM15 139h2v2h-2zM61 139h2v2h-2zM201 139h2v2h-2zM37 141h4v2h-4zM49 141h2v2h-2zM83 143h2v2h-2zM119 143h2v2h-2zM153 143h2v2h-2zM109 145h2v2h-2zM195 145h2v2h-2zM15 147h2v2h-2zM47 147h2v2h-2zM65 147h2v2h-2zM69 147h4v2h-4zM103 147h2v2h-2zM149 147h2v2h-2zM17 149h4v2h-4zM75 149h2v2h-2zM107 149h2v2h-2zM153 149h2v2h-2zM69 151h2v2h-2zM105 151h2v2h-2zM39 153h2v2h-2zM103 153h2v2h-2zM51 155h2v2h-2zM105 155h2v2h-2zM125 155h2v2h-2zM149 155h2v2h-2zM195 155h2v2h-2zM81 157h2v2h-2zM127 157h2v2h-2zM121 159h2v2h-2zM153 159h2v2h-2zM125 161h2v2h-2zM159 161h2v2h-2zM157 163h2v2h-2zM193 167h2v2h-2zM15 169h2v2h-2zM167 169h2v2h-2zM83 171h2v2h-2zM113 171h2v2h-2zM155 171h2v2h-2zM203 171h2v2h-2zM105 173h2v2h-2zM177 173h2v2h-2zM181 173h2v2h-2zM187 173h2v2h-2zM211 173h2v2h-2zM129 175h2v2h-2zM147 175h2v2h-2zM195 175h2v2h-2zM97 177h2v2h-2zM103 177h2v2h-2zM129 177h2v2h-2zM209 177h2v2h-2zM91 179h2v2h-2zM95 179h2v2h-2zM99 179h2v2h-2zM169 179h2v2h-2zM193 181h2v2h-2zM31 183h2v2h-2zM193 183h2v2h-2zM203 183h2v2h-2zM119 189h2v2h-2zM199 189h2v2h-2zM207 189h2v2h-2zM137 191h2v2h-2zM141 191h2v2h-2zM93 193h2v2h-2zM139 193h2v2h-2zM29 195h2v2h-2zM133 195h2v2h-2zM157 195h2v2h-2zM163 195h2v2h-2zM169 195h2v2h-2zM41 197h2v2h-2zM83 197h2v2h-2zM193 197h2v2h-2zM127 199h2v2h-2zM201 199h2v2h-2zM47 201h2v2h-2zM175 201h2v2h-2zM199 201h2v2h-2zM129 203h2v2h-2zM193 203h2v2h-2zM63 205h2v2h-2zM71 205h2v2h-2zM87 205h2v2h-2zM143 205h2v2h-2zM211 205h4v2h-4zM45 207h2v2h-2zM119 209h2v2h-2zM99 211h2v2h-2zM121 211h2v2h-2zM131 211h2v2h-2zM131 213h2v2h-2zM187 213h2v2h-2zM121 217h2v2h-2zM211 217h2v2h-2zM175 221h2v2h-2zM213 221h2v2h-2zM177 223h2v2h-2zM185 223h2v2h-2zM181 225h2v2h-2zM145 227h2v2h-2zM89 229h2v2h-2zM127 229h2v2h-2zM207 229h2v2h-2zM61 231h2v2h-2zM87 231h2v2h-2zM97 231h2v2h-2zM123 231h2v2h-2z"/>
<path fill="#7ee22c" d="M77 35h2v2h-2zM125 35h2v2h-2zM75 37h2v2h-2zM121 37h2v2h-2zM163 37h2v2h-2zM169 37h2v2h-2zM79 39h2v2h-2zM183 39h2v2h-2zM183 41h2v2h-2zM73 43h2v2h-2zM77 43h2v2h-2zM85 43h2v2h-2zM99 43h2v2h-2zM149 43h2v2h-2zM167 43h2v2h-2zM129 45h2v2h-2zM67 47h2v2h-2zM121 47h2v2h-2zM167 47h2v2h-2zM211 47h2v2h-2zM153 49h2v2h-2zM177 49h2v2h-2zM145 51h2v2h-2zM139 53h2v2h-2zM169 53h2v2h-2zM195 53h4v2h-4zM131 55h2v2h-2zM161 55h2v2h-2zM189 55h2v2h-2zM105 57h2v2h-2zM145 57h2v2h-2zM79 59h2v2h-2zM111 59h2v2h-2zM147 59h2v2h-2zM183 59h2v2h-2zM157 61h2v2h-2zM169 61h2v2h-2zM187 61h2v2h-2zM73 63h4v2h-4zM113 63h2v2h-2zM137 63h2v2h-2zM147 63h2v2h-2zM189 63h2v2h-2zM79 65h4v2h-4zM95 65h2v2h-2zM123 65h2v2h-2zM151 65h2v2h-2zM87 67h2v2h-2zM173 67h2v2h-2zM41 69h2v2h-2zM123 69h2v2h-2zM167 69h2v2h-2zM209 69h2v2h-2zM157 71h2v2h-2zM43 73h2v2h-2zM91 73h2v2h-2zM99 73h2v2h-2zM135 73h2v2h-2zM83 75h2v2h-2zM213 75h2v2h-2zM103 77h2v2h-2zM187 79h2v2h-2zM195 79h2v2h-2zM39 81h2v2h-2zM173 81h2v2h-2zM193 81h2v2h-2zM95 83h2v2h-2zM39 85h2v2h-2zM89 85h2v2h-2zM95 85h2v2h-2zM109 85h2v2h-2zM143 85h2v2h-2zM23 87h2v2h-2zM57 87h2v2h-2zM137 87h2v2h-2zM151 87h2v2h-2zM115 89h2v2h-2zM65 91h2v2h-2zM81 91h2v2h-2zM137 91h2v2h-2zM153 91h2v2h-2zM39 93h2v2h-2zM65 93h2v2h-2zM69 95h2v2h-2zM179 95h2v2h-2zM57 97h4v2h-4zM189 97h2v2h-2zM191 99h2v2h-2zM25 101h2v2h-2zM91 101h2v2h-2zM119 101h2v2h-2zM139 103h2v2h-2zM147 103h2v2h-2zM201 103h2v2h-2zM85 107h2v2h-2zM121 107h2v2h-2zM185 107h2v2h-2zM81 109h2v2h-2zM109 109h2v2h-2zM45 111h2v2h-2zM105 111h2v2h-2zM181 111h2v2h-2zM67 113h2v2h-2zM31 115h2v2h-2zM105 115h2v2h-2zM191 115h2v2h-2zM35 117h2v2h-2zM97 117h2v2h-2zM117 117h2v2h-2zM121 117h2v2h-2zM161 117h2v2h-2zM169 117h2v2h-2zM193 117h2v2h-2zM23 119h2v2h-2zM105 119h2v2h-2zM161 119h2v2h-2zM197 119h2v2h-2zM17 121h2v2h-2zM77 121h2v2h-2zM139 121h2v2h-2zM23 123h2v2h-2zM29 123h2v2h-2zM69 123h2v2h-2zM105 123h2v2h-2zM211 123h2v2h-2zM83 125h2v2h-2zM151 125h2v2h-2zM155 125h2v2h-2zM105 127h2v2h-2zM135 127h2v2h-2zM167 127h2v2h-2zM25 129h2v2h-2zM33 129h2v2h-2zM79 129h2v2h-2zM167 129h2v2h-2zM109 131h2v2h-2zM119 131h2v2h-2zM145 131h2v2h-2zM33 133h2v2h-2zM77 133h2v2h-2zM141 133h2v2h-2zM173 133h2v2h-2zM19 135h2v2h-2zM209 135h2v2h-2zM25 139h2v2h-2zM65 139h2v2h-2zM73 139h2v2h-2zM111 139h2v2h-2zM173 139h2v2h-2zM59 141h2v2h-2zM191 141h2v2h-2zM29 143h2v2h-2zM49 143h2v2h-2zM195 143h2v2h-2zM35 145h2v2h-2zM177 145h2v2h-2zM31 147h2v2h-2zM35 149h2v2h-2zM121 149h2v2h-2zM177 149h2v2h-2zM197 149h2v2h-2zM85 151h2v2h-2zM173 151h4v2h-4zM43 153h2v2h-2zM127 155h2v2h-2zM159 155h2v2h-2zM69 157h2v2h-2zM93 159h2v2h-2zM201 159h2v2h-2zM41 163h2v2h-2zM47 163h2v2h-2zM67 163h2v2h-2zM107 163h2v2h-2zM137 163h2v2h-2zM185 163h2v2h-2zM35 165h2v2h-2zM105 165h2v2h-2zM163 165h2v2h-2zM213 165h2v2h-2zM63 167h2v2h-2zM157 167h2v2h-2zM17 169h4v2h-4zM95 169h2v2h-2zM129 169h2v2h-2zM25 171h2v2h-2zM119 171h2v2h-2zM139 171h2v2h-2zM197 171h2v2h-2zM209 171h2v2h-2zM71 173h2v2h-2zM103 173h2v2h-2zM193 173h2v2h-2zM151 175h2v2h-2zM105 177h2v2h-2zM125 177h2v2h-2zM173 179h2v2h-2zM193 179h2v2h-2zM43 183h2v2h-2zM67 183h2v2h-2zM117 183h4v2h-4zM153 183h2v2h-2zM175 183h2v2h-2zM185 183h2v2h-2zM43 185h2v2h-2zM197 185h2v2h-2zM55 187h2v2h-2zM111 187h2v2h-2zM151 187h2v2h-2zM29 189h4v2h-4zM23 191h2v2h-2zM37 191h2v2h-2zM79 191h2v2h-2zM165 191h2v2h-2zM183 191h2v2h-2zM203 191h2v2h-2zM55 193h2v2h-2zM49 195h2v2h-2zM83 195h2v2h-2zM125 195h2v2h-2zM195 195h2v2h-2zM199 195h2v2h-2zM21 197h2v2h-2zM191 197h2v2h-2zM87 199h2v2h-2zM129 199h2v2h-2zM185 199h2v2h-2zM69 201h2v2h-2zM103 201h2v2h-2zM121 201h2v2h-2zM185 201h2v2h-2zM197 201h2v2h-2zM213 201h2v2h-2zM103 205h2v2h-2zM145 205h2v2h-2zM175 205h2v2h-2zM27 207h2v2h-2zM87 207h2v2h-2zM179 209h2v2h-2zM21 211h2v2h-2zM109 211h2v2h-2zM165 211h2v2h-2zM211 211h2v2h-2zM81 213h2v2h-2zM121 213h2v2h-2zM201 213h2v2h-2zM19 215h4v2h-4zM55 215h2v2h-2zM77 215h2v2h-2zM103 215h2v2h-2zM187 215h2v2h-2zM37 217h2v2h-2zM65 217h2v2h-2zM79 217h2v2h-2zM87 217h2v2h-2zM33 219h2v2h-2zM131 219h2v2h-2zM143 219h2v2h-2zM155 219h2v2h-2zM161 219h2v2h-2zM51 221h2v2h-2zM161 221h2v2h-2zM197 221h2v2h-2zM23 223h2v2h-2zM63 223h2v2h-2zM119 223h2v2h-2zM161 223h2v2h-2zM205 223h2v2h-2zM101 225h2v2h-2zM161 225h2v2h-2zM63 227h2v2h-2zM157 229h2v2h-2zM67 231h2v2h-2zM171 231h2v2h-2zM197 231h2v2h-2zM53 233h2v2h-2zM69 233h2v2h-2zM173 233h2v2h-2z"/>
<path fill="#fb8f22" d="M91 35h2v2h-2zM115 35h4v2h-4zM181 37h2v2h-2zM95 39h2v2h-2zM97 41h2v2h-2zM109 41h4v2h-4zM157 41h2v2h-2zM101 43h2v2h-2zM107 43h2v2h-2zM169 43h2v2h-2zM187 43h2v2h-2zM111 45h2v2h-2zM121 45h2v2h-2zM123 49h2v2h-2zM211 49h2v2h-2zM93 51h2v2h-2zM145 53h2v2h-2zM85 55h2v2h-2zM119 57h2v2h-2zM125 57h2v2h-2zM147 57h2v2h-2zM211 57h2v2h-2zM95 59h2v2h-2zM99 59h2v2h-2zM123 59h2v2h-2zM81 61h4v2h-4zM121 61h2v2h-2zM97 63h2v2h-2zM161 63h2v2h-2zM89 65h2v2h-2zM111 65h2v2h-2zM69 67h2v2h-2zM93 67h4v2h-4zM165 67h2v2h-2zM175 67h2v2h-2zM191 67h2v2h-2zM77 69h4v2h-4zM101 69h2v2h-2zM133 69h2v2h-2zM165 69h2v2h-2zM175 69h2v2h-2zM113 71h2v2h-2zM67 73h2v2h-2zM73 73h4v2h-4zM93 73h2v2h-2zM171 73h2v2h-2zM193 73h2v2h-2zM85 75h2v2h-2zM111 75h2v2h-2zM169 75h2v2h-2zM107 77h2v2h-2zM59 79h2v2h-2zM69 79h2v2h-2zM101 79h2v2h-2zM109 79h2v2h-2zM125 79h4v2h-4zM149 79h2v2h-2zM181 79h2v2h-2zM193 79h2v2h-2zM61 81h2v2h-2zM95 81h2v2h-2zM121 81h2v2h-2zM205 81h2v2h-2zM23 83h2v2h-2zM51 83h2v2h-2zM67 83h2v2h-2zM71 83h4v2h-4zM89 83h4v2h-4zM99 83h2v2h-2zM107 83h2v2h-2zM167 83h2v2h-2zM27 85h2v2h-2zM31 85h2v2h-2zM47 85h2v2h-2zM51 85h4v2h-4zM61 85h2v2h-2zM91 85h4v2h-4zM139 85h2v2h-2zM155 85h2v2h-2zM207 85h2v2h-2zM213 85h2v2h-2zM49 87h2v2h-2zM163 87h2v2h-2zM211 87h2v2h-2zM93 89h2v2h-2zM153 89h2v2h-2zM97 91h2v2h-2zM105 91h2v2h-2zM125 91h2v2h-2zM131 91h2v2h-2zM167 91h2v2h-2zM177 91h2v2h-2zM47 93h2v2h-2zM53 93h2v2h-2zM57 93h2v2h-2zM91 93h2v2h-2zM169 93h2v2h-2zM31 95h2v2h-2zM35 95h2v2h-2zM51 95h2v2h-2zM67 95h2v2h-2zM91 97h2v2h-2zM107 97h2v2h-2zM113 97h4v2h-4zM177 97h2v2h-2zM139 99h2v2h-2zM115 101h2v2h-2zM141 101h2v2h-2zM175 101h2v2h-2zM33 103h2v2h-2zM45 103h2v2h-2zM89 103h2v2h-2zM93 103h2v2h-2zM113 103h4v2h-4zM137 103h2v2h-2zM165 103h2v2h-2zM179 103h2v2h-2zM185 103h2v2h-2zM153 105h2v2h-2zM21 107h2v2h-2zM53 107h2v2h-2zM67 107h2v2h-2zM81 107h2v2h-2zM45 109h2v2h-2zM83 109h2v2h-2zM131 109h2v2h-2zM137 109h2v2h-2zM27 113h2v2h-2zM57 113h2v2h-2zM37 115h2v2h-2zM57 115h2v2h-2zM111 115h2v2h-2zM115 115h2v2h-2zM137 115h2v2h-2zM171 115h2v2h-2zM127 117h2v2h-2zM131 117h2v2h-2zM139 117h2v2h-2zM157 117h2v2h-2zM171 117h4v2h-4zM111 119h2v2h-2zM127 119h2v2h-2zM141 119h2v2h-2zM145 119h2v2h-2zM115 121h2v2h-2zM125 121h2v2h-2zM131 121h2v2h-2zM135 121h2v2h-2zM165 121h2v2h-2zM25 123h2v2h-2zM31 123h2v2h-2zM57 123h2v2h-2zM67 123h2v2h-2zM75 123h2v2h-2zM21 125h2v2h-2zM27 125h2v2h-2zM145 125h2v2h-2zM161 125h2v2h-2zM165 125h2v2h-2zM171 125h2v2h-2zM33 127h2v2h-2zM57 127h2v2h-2zM147 127h2v2h-2zM169 127h2v2h-2zM185 127h2v2h-2zM213 127h2v2h-2zM27 129h2v2h-2zM75 129h2v2h-2zM81 129h2v2h-2zM139 129h2v2h-2zM149 129h2v2h-2zM175 129h2v2h-2zM191 129h2v2h-2zM27 131h2v2h-2zM77 131h2v2h-2zM81 131h2v2h-2zM137 131h2v2h-2zM157 131h4v2h-4zM189 131h2v2h-2zM137 133h2v2h-2zM191 133h2v2h-2zM195 133h2v2h-2zM49 135h2v2h-2zM73 135h2v2h-2zM107 135h2v2h-2zM131 135h2v2h-2zM135 135h2v2h-2zM151 135h4v2h-4zM201 135h2v2h-2zM43 137h2v2h-2zM65 137h2v2h-2zM149 137h2v2h-2zM55 139h2v2h-2zM121 139h6v2h-6zM131 139h2v2h-2zM145 139h4v2h-4zM167 139h2v2h-2zM191 139h2v2h-2zM29 141h4v2h-4zM57 141h2v2h-2zM65 141h2v2h-2zM105 141h2v2h-2zM123 141h2v2h-2zM131 141h2v2h-2zM137 141h2v2h-2zM145 141h2v2h-2zM167 141h2v2h-2zM25 143h2v2h-2zM111 143h2v2h-2zM125 143h2v2h-2zM145 143h2v2h-2zM177 143h2v2h-2zM67 145h2v2h-2zM117 145h6v2h-6zM143 145h2v2h-2zM155 145h2v2h-2zM197 145h2v2h-2zM77 147h2v2h-2zM93 147h2v2h-2zM109 147h4v2h-4zM45 149h2v2h-2zM105 149h2v2h-2zM109 149h2v2h-2zM165 149h2v2h-2zM173 149h2v2h-2zM23 151h2v2h-2zM29 151h2v2h-2zM37 151h2v2h-2zM109 151h2v2h-2zM99 153h2v2h-2zM107 153h2v2h-2zM117 153h2v2h-2zM127 153h2v2h-2zM21 155h4v2h-4zM109 155h2v2h-2zM131 155h2v2h-2zM143 155h2v2h-2zM157 155h2v2h-2zM25 157h2v2h-2zM99 157h2v2h-2zM121 157h2v2h-2zM151 157h2v2h-2zM169 157h2v2h-2zM87 159h2v2h-2zM109 159h2v2h-2zM117 159h2v2h-2zM137 159h4v2h-4zM143 159h2v2h-2zM111 161h2v2h-2zM143 161h2v2h-2zM155 161h4v2h-4zM171 161h2v2h-2zM115 163h2v2h-2zM133 163h2v2h-2zM111 165h2v2h-2zM133 165h2v2h-2zM149 165h2v2h-2zM129 167h2v2h-2zM169 167h2v2h-2zM151 169h4v2h-4zM163 169h2v2h-2zM33 171h2v2h-2zM95 171h2v2h-2zM103 171h2v2h-2zM167 171h2v2h-2zM213 171h2v2h-2zM15 173h2v2h-2zM41 173h2v2h-2zM47 173h2v2h-2zM69 173h2v2h-2zM91 173h2v2h-2zM95 173h2v2h-2zM151 173h2v2h-2zM197 173h2v2h-2zM201 173h2v2h-2zM33 175h4v2h-4zM105 175h2v2h-2zM113 175h2v2h-2zM149 175h2v2h-2zM173 175h2v2h-2zM27 177h2v2h-2zM31 177h2v2h-2zM195 177h2v2h-2zM29 179h2v2h-2zM97 179h2v2h-2zM31 181h2v2h-2zM59 181h2v2h-2zM75 181h2v2h-2zM97 181h2v2h-2zM115 181h2v2h-2zM143 181h2v2h-2zM195 181h2v2h-2zM105 183h2v2h-2zM195 183h2v2h-2zM19 185h2v2h-2zM49 185h2v2h-2zM55 185h2v2h-2zM71 185h4v2h-4zM141 185h2v2h-2zM33 187h2v2h-2zM73 187h2v2h-2zM103 187h2v2h-2zM167 187h2v2h-2zM197 187h2v2h-2zM51 189h2v2h-2zM75 189h2v2h-2zM79 189h2v2h-2zM99 189h2v2h-2zM117 189h2v2h-2zM141 189h2v2h-2zM41 191h2v2h-2zM45 191h2v2h-2zM47 193h2v2h-2zM165 193h2v2h-2zM179 193h2v2h-2zM199 193h2v2h-2zM87 195h2v2h-2zM107 195h2v2h-2zM131 195h2v2h-2zM181 195h2v2h-2zM193 195h2v2h-2zM35 197h2v2h-2zM53 197h2v2h-2zM57 197h2v2h-2zM57 199h2v2h-2zM141 199h2v2h-2zM145 199h2v2h-2zM157 199h2v2h-2zM175 199h2v2h-2zM83 201h2v2h-2zM129 201h2v2h-2zM139 201h2v2h-2zM85 203h2v2h-2zM95 203h2v2h-2zM137 203h4v2h-4zM65 205h2v2h-2zM115 205h2v2h-2zM137 205h2v2h-2zM153 205h2v2h-2zM161 205h2v2h-2zM43 207h2v2h-2zM117 207h2v2h-2zM139 207h4v2h-4zM159 207h2v2h-2zM167 207h2v2h-2zM17 209h2v2h-2zM25 209h2v2h-2zM75 209h2v2h-2zM157 209h2v2h-2zM47 211h2v2h-2zM141 211h2v2h-2zM119 215h2v2h-2zM55 217h2v2h-2zM147 217h2v2h-2zM151 219h2v2h-2zM159 219h2v2h-2zM107 225h2v2h-2zM23 227h2v2h-2zM123 227h2v2h-2zM193 229h2v2h-2zM49 231h2v2h-2zM169 231h2v2h-2z"/>
<path fill="#1ad61a" d="M105 35h2v2h-2zM161 35h2v2h-2zM167 35h2v2h-2zM39 37h2v2h-2zM133 37h2v2h-2zM165 37h2v2h-2zM183 37h2v2h-2zM187 37h2v2h-2zM63 39h2v2h-2zM117 39h2v2h-2zM181 39h2v2h-2zM187 39h2v2h-2zM159 41h2v2h-2zM163 41h4v2h-4zM191 41h2v2h-2zM95 43h2v2h-2zM123 43h2v2h-2zM145 43h2v2h-2zM211 43h2v2h-2zM95 45h2v2h-2zM119 45h2v2h-2zM141 45h2v2h-2zM165 45h2v2h-2zM169 45h2v2h-2zM173 45h2v2h-2zM199 45h2v2h-2zM101 47h2v2h-2zM131 47h2v2h-2zM173 47h2v2h-2zM21 49h2v2h-2zM59 49h2v2h-2zM115 49h2v2h-2zM121 49h2v2h-2zM167 49h2v2h-2zM99 51h2v2h-2zM115 51h2v2h-2zM119 51h4v2h-4zM133 51h2v2h-2zM147 51h2v2h-2zM199 51h4v2h-4zM209 51h2v2h-2zM59 53h2v2h-2zM97 53h2v2h-2zM111 53h2v2h-2zM165 53h2v2h-2zM177 53h2v2h-2zM199 53h2v2h-2zM39 55h2v2h-2zM97 55h2v2h-2zM113 55h2v2h-2zM127 55h2v2h-2zM133 55h2v2h-2zM193 55h2v2h-2zM209 55h2v2h-2zM27 57h2v2h-2zM33 57h2v2h-2zM49 57h2v2h-2zM93 57h2v2h-2zM103 57h2v2h-2zM111 57h2v2h-2zM121 57h2v2h-2zM133 57h2v2h-2zM167 57h2v2h-2zM91 59h2v2h-2zM105 59h4v2h-4zM149 59h2v2h-2zM171 59h2v2h-2zM181 59h2v2h-2zM187 59h2v2h-2zM213 59h2v2h-2zM119 61h2v2h-2zM123 61h4v2h-4zM131 61h2v2h-2zM145 61h2v2h-2zM149 61h2v2h-2zM163 61h2v2h-2zM193 61h2v2h-2zM199 61h2v2h-2zM203 61h4v2h-4zM45 63h4v2h-4zM115 63h2v2h-2zM145 63h2v2h-2zM173 63h2v2h-2zM193 63h2v2h-2zM197 63h2v2h-2zM211 63h2v2h-2zM63 65h2v2h-2zM73 65h2v2h-2zM141 65h2v2h-2zM161 65h2v2h-2zM169 65h2v2h-2zM193 65h2v2h-2zM79 67h2v2h-2zM127 67h2v2h-2zM137 67h2v2h-2zM141 67h2v2h-2zM157 67h2v2h-2zM177 67h2v2h-2zM189 67h2v2h-2zM213 67h2v2h-2zM75 69h2v2h-2zM83 69h2v2h-2zM87 69h2v2h-2zM121 69h2v2h-2zM139 69h2v2h-2zM149 69h2v2h-2zM163 69h2v2h-2zM189 69h2v2h-2zM199 69h2v2h-2zM21 71h2v2h-2zM165 71h2v2h-2zM193 71h2v2h-2zM203 71h2v2h-2zM15 73h2v2h-2zM71 73h2v2h-2zM115 73h2v2h-2zM137 73h2v2h-2zM207 73h2v2h-2zM49 75h4v2h-4zM71 75h2v2h-2zM103 75h2v2h-2zM117 75h2v2h-2zM125 75h2v2h-2zM133 75h2v2h-2zM173 75h2v2h-2zM181 75h2v2h-2zM201 75h2v2h-2zM39 77h2v2h-2zM69 77h2v2h-2zM125 77h2v2h-2zM129 77h2v2h-2zM133 77h2v2h-2zM145 77h6v2h-6zM153 77h2v2h-2zM173 77h2v2h-2zM187 77h2v2h-2zM193 77h4v2h-4zM201 77h2v2h-2zM19 79h2v2h-2zM41 79h2v2h-2zM45 79h2v2h-2zM71 79h2v2h-2zM153 79h2v2h-2zM199 79h2v2h-2zM205 79h2v2h-2zM29 81h2v2h-2zM75 81h2v2h-2zM143 81h2v2h-2zM161 81h2v2h-2zM207 81h2v2h-2zM33 83h2v2h-2zM39 83h2v2h-2zM97 83h2v2h-2zM121 83h2v2h-2zM135 83h2v2h-2zM163 83h2v2h-2zM203 83h2v2h-2zM55 85h2v2h-2zM65 85h2v2h-2zM151 85h2v2h-2zM177 85h2v2h-2zM189 85h2v2h-2zM203 85h2v2h-2zM37 87h2v2h-2zM47 87h2v2h-2zM75 87h2v2h-2zM93 87h2v2h-2zM127 87h2v2h-2zM147 87h2v2h-2zM153 87h2v2h-2zM177 87h2v2h-2zM213 87h2v2h-2zM17 89h2v2h-2zM45 89h2v2h-2zM59 89h2v2h-2zM63 89h2v2h-2zM69 89h2v2h-2zM119 89h2v2h-2zM147 89h2v2h-2zM159 89h2v2h-2zM177 89h2v2h-2zM191 89h2v2h-2zM203 89h2v2h-2zM213 89h2v2h-2zM29 91h2v2h-2zM39 91h2v2h-2zM63 91h2v2h-2zM83 91h2v2h-2zM119 91h4v2h-4zM193 91h2v2h-2zM17 93h2v2h-2zM33 93h2v2h-2zM85 93h2v2h-2zM93 93h2v2h-2zM133 93h2v2h-2zM139 93h2v2h-2zM171 93h2v2h-2zM45 95h2v2h-2zM109 95h2v2h-2zM119 95h2v2h-2zM129 95h2v2h-2zM153 95h2v2h-2zM197 95h2v2h-2zM207 95h2v2h-2zM213 95h2v2h-2zM25 97h2v2h-2zM45 97h2v2h-2zM53 97h2v2h-2zM93 97h2v2h-2zM105 97h2v2h-2zM121 97h2v2h-2zM129 97h2v2h-2zM143 97h2v2h-2zM147 97h2v2h-2zM151 97h2v2h-2zM169 97h2v2h-2zM209 97h2v2h-2zM213 97h2v2h-2zM49 99h2v2h-2zM69 99h2v2h-2zM91 99h2v2h-2zM115 99h2v2h-2zM123 99h2v2h-2zM131 99h2v2h-2zM145 99h6v2h-6zM169 99h2v2h-2zM187 99h2v2h-2zM201 99h2v2h-2zM27 101h2v2h-2zM65 101h4v2h-4zM77 101h2v2h-2zM135 101h4v2h-4zM193 101h2v2h-2zM207 101h2v2h-2zM25 103h2v2h-2zM77 103h2v2h-2zM81 103h4v2h-4zM121 103h2v2h-2zM155 103h2v2h-2zM193 103h2v2h-2zM207 103h2v2h-2zM29 105h2v2h-2zM51 105h2v2h-2zM93 105h2v2h-2zM123 105h4v2h-4zM131 105h2v2h-2zM137 105h2v2h-2zM163 105h2v2h-2zM181 105h2v2h-2zM209 105h2v2h-2zM25 107h2v2h-2zM31 107h2v2h-2zM65 107h2v2h-2zM77 107h2v2h-2zM147 107h2v2h-2zM153 107h2v2h-2zM199 107h2v2h-2zM205 107h2v2h-2zM21 109h2v2h-2zM53 109h2v2h-2zM67 109h2v2h-2zM79 109h2v2h-2zM89 109h2v2h-2zM141 109h2v2h-2zM205 109h2v2h-2zM19 111h2v2h-2zM31 111h2v2h-2zM63 111h2v2h-2zM113 111h2v2h-2zM147 111h2v2h-2zM189 111h2v2h-2zM209 111h2v2h-2zM85 113h2v2h-2zM105 113h2v2h-2zM117 113h2v2h-2zM157 113h2v2h-2zM171 113h2v2h-2zM175 113h2v2h-2zM39 115h2v2h-2zM47 115h2v2h-2zM73 115h2v2h-2zM83 115h2v2h-2zM97 115h2v2h-2zM123 115h2v2h-2zM139 115h2v2h-2zM179 115h2v2h-2zM21 117h2v2h-2zM29 117h2v2h-2zM81 117h2v2h-2zM93 117h2v2h-2zM107 117h2v2h-2zM125 117h2v2h-2zM177 117h2v2h-2zM33 119h2v2h-2zM65 119h2v2h-2zM165 119h2v2h-2zM169 119h2v2h-2zM177 119h2v2h-2zM189 119h2v2h-2zM213 119h2v2h-2zM29 121h2v2h-2zM55 121h2v2h-2zM67 121h2v2h-2zM151 121h4v2h-4zM167 121h2v2h-2zM183 121h2v2h-2zM187 121h2v2h-2zM191 121h2v2h-2zM15 123h2v2h-2zM73 123h2v2h-2zM109 123h2v2h-2zM161 123h2v2h-2zM167 123h2v2h-2zM209 123h2v2h-2zM25 125h2v2h-2zM31 125h2v2h-2zM35 125h2v2h-2zM43 125h2v2h-2zM67 125h4v2h-4zM89 125h2v2h-2zM117 125h2v2h-2zM141 125h2v2h-2zM205 125h2v2h-2zM59 127h2v2h-2zM97 127h2v2h-2zM157 127h2v2h-2zM207 127h2v2h-2zM31 129h2v2h-2zM53 129h2v2h-2zM63 129h2v2h-2zM89 129h2v2h-2zM95 129h2v2h-2zM113 129h2v2h-2zM123 129h2v2h-2zM31 131h6v2h-6zM51 131h4v2h-4zM59 131h2v2h-2zM67 131h4v2h-4zM115 131h2v2h-2zM123 131h2v2h-2zM155 131h2v2h-2zM179 131h2v2h-2zM187 131h2v2h-2zM195 131h2v2h-2zM199 131h2v2h-2zM17 133h2v2h-2zM31 133h2v2h-2zM35 133h2v2h-2zM47 133h2v2h-2zM105 133h2v2h-2zM117 133h2v2h-2zM129 133h2v2h-2zM133 133h2v2h-2zM143 133h2v2h-2zM151 133h2v2h-2zM155 133h2v2h-2zM45 135h2v2h-2zM165 135h2v2h-2zM185 135h2v2h-2zM191 135h2v2h-2zM213 135h2v2h-2zM33 137h2v2h-2zM39 137h2v2h-2zM53 137h2v2h-2zM71 137h2v2h-2zM97 137h4v2h-4zM111 137h2v2h-2zM133 137h2v2h-2zM175 137h2v2h-2zM197 137h2v2h-2zM205 137h2v2h-2zM21 139h2v2h-2zM189 139h2v2h-2zM41 141h2v2h-2zM103 141h2v2h-2zM147 141h2v2h-2zM153 141h2v2h-2zM31 143h2v2h-2zM141 143h2v2h-2zM149 143h2v2h-2zM43 145h2v2h-2zM53 145h2v2h-2zM61 145h2v2h-2zM97 145h2v2h-2zM159 145h2v2h-2zM171 145h4v2h-4zM183 145h2v2h-2zM189 145h2v2h-2zM51 147h2v2h-2zM117 147h2v2h-2zM23 149h2v2h-2zM51 149h2v2h-2zM61 149h2v2h-2zM155 149h2v2h-2zM181 149h2v2h-2zM199 149h2v2h-2zM15 151h2v2h-2zM41 151h2v2h-2zM65 151h2v2h-2zM83 151h2v2h-2zM99 151h2v2h-2zM197 151h2v2h-2zM23 153h2v2h-2zM59 153h2v2h-2zM65 153h2v2h-2zM85 153h4v2h-4zM137 153h2v2h-2zM161 153h2v2h-2zM27 155h2v2h-2zM41 155h4v2h-4zM85 155h2v2h-2zM101 155h2v2h-2zM119 155h2v2h-2zM135 155h2v2h-2zM173 155h2v2h-2zM193 155h2v2h-2zM199 155h2v2h-2zM205 155h2v2h-2zM41 157h2v2h-2zM57 157h4v2h-4zM23 159h6v2h-6zM39 159h2v2h-2zM61 159h2v2h-2zM67 159h2v2h-2zM79 159h2v2h-2zM103 159h2v2h-2zM123 159h2v2h-2zM25 161h4v2h-4zM73 161h2v2h-2zM93 161h2v2h-2zM109 161h2v2h-2zM129 161h2v2h-2zM165 161h2v2h-2zM169 161h2v2h-2zM201 161h2v2h-2zM205 161h4v2h-4zM211 161h4v2h-4zM23 163h2v2h-2zM27 163h2v2h-2zM35 163h2v2h-2zM71 163h2v2h-2zM93 163h2v2h-2zM109 163h2v2h-2zM127 163h2v2h-2zM199 163h2v2h-2zM209 163h4v2h-4zM51 165h2v2h-2zM63 165h2v2h-2zM79 165h2v2h-2zM177 165h2v2h-2zM195 165h2v2h-2zM205 165h2v2h-2zM23 167h2v2h-2zM29 167h2v2h-2zM37 167h2v2h-2zM51 167h2v2h-2zM67 167h2v2h-2zM95 167h2v2h-2zM113 167h2v2h-2zM145 167h2v2h-2zM171 167h4v2h-4zM199 167h2v2h-2zM203 167h2v2h-2zM31 169h2v2h-2zM37 169h2v2h-2zM51 169h2v2h-2zM59 169h2v2h-2zM105 169h2v2h-2zM123 169h2v2h-2zM135 169h2v2h-2zM141 169h2v2h-2zM155 169h2v2h-2zM201 169h2v2h-2zM19 171h2v2h-2zM41 171h2v2h-2zM99 171h2v2h-2zM111 171h2v2h-2zM115 171h2v2h-2zM137 171h2v2h-2zM143 171h2v2h-2zM149 171h4v2h-4zM187 171h4v2h-4zM195 171h2v2h-2zM19 173h2v2h-2zM101 173h2v2h-2zM127 173h2v2h-2zM131 173h4v2h-4zM139 173h6v2h-6zM169 173h2v2h-2zM175 173h2v2h-2zM183 173h2v2h-2zM207 173h2v2h-2zM15 175h2v2h-2zM55 175h2v2h-2zM61 175h2v2h-2zM71 175h2v2h-2zM99 175h2v2h-2zM131 175h2v2h-2zM197 175h2v2h-2zM19 177h2v2h-2zM33 177h2v2h-2zM53 177h2v2h-2zM65 177h2v2h-2zM139 177h4v2h-4zM165 177h2v2h-2zM175 177h2v2h-2zM193 177h2v2h-2zM15 179h2v2h-2zM79 179h2v2h-2zM87 179h2v2h-2zM165 179h2v2h-2zM187 179h2v2h-2zM191 179h2v2h-2zM207 179h2v2h-2zM17 181h2v2h-2zM113 181h2v2h-2zM123 181h2v2h-2zM147 181h2v2h-2zM167 181h2v2h-2zM173 181h2v2h-2zM185 181h2v2h-2zM205 181h2v2h-2zM211 181h2v2h-2zM17 183h2v2h-2zM91 183h2v2h-2zM109 183h2v2h-2zM143 183h2v2h-2zM155 183h2v2h-2zM163 183h2v2h-2zM171 183h4v2h-4zM39 185h2v2h-2zM53 185h2v2h-2zM87 185h2v2h-2zM125 185h2v2h-2zM157 185h2v2h-2zM165 185h2v2h-2zM173 185h2v2h-2zM177 185h2v2h-2zM201 185h2v2h-2zM209 185h2v2h-2zM17 187h2v2h-2zM49 187h2v2h-2zM85 187h2v2h-2zM127 187h2v2h-2zM131 187h2v2h-2zM189 187h2v2h-2zM211 187h2v2h-2zM15 189h2v2h-2zM21 189h2v2h-2zM25 189h2v2h-2zM47 189h2v2h-2zM57 189h2v2h-2zM85 189h2v2h-2zM125 189h2v2h-2zM129 189h2v2h-2zM157 189h2v2h-2zM205 189h2v2h-2zM57 191h2v2h-2zM63 191h2v2h-2zM93 191h2v2h-2zM101 191h2v2h-2zM115 191h2v2h-2zM119 191h2v2h-2zM123 191h2v2h-2zM129 191h2v2h-2zM213 191h2v2h-2zM39 193h2v2h-2zM45 193h2v2h-2zM63 193h2v2h-2zM91 193h2v2h-2zM135 193h4v2h-4zM163 193h2v2h-2zM207 193h2v2h-2zM23 195h4v2h-4zM61 195h2v2h-2zM69 195h2v2h-2zM127 195h2v2h-2zM137 195h2v2h-2zM179 195h2v2h-2zM107 197h4v2h-4zM147 197h2v2h-2zM197 197h2v2h-2zM67 199h2v2h-2zM99 199h2v2h-2zM107 199h2v2h-2zM123 199h2v2h-2zM149 199h2v2h-2zM177 199h2v2h-2zM183 199h2v2h-2zM187 199h2v2h-2zM55 201h2v2h-2zM81 201h2v2h-2zM133 201h2v2h-2zM183 201h2v2h-2zM187 201h2v2h-2zM39 203h2v2h-2zM47 203h2v2h-2zM51 203h2v2h-2zM115 203h2v2h-2zM181 203h2v2h-2zM81 205h2v2h-2zM123 205h2v2h-2zM183 205h2v2h-2zM49 207h2v2h-2zM67 207h2v2h-2zM73 207h2v2h-2zM85 207h2v2h-2zM89 207h2v2h-2zM107 207h2v2h-2zM111 207h2v2h-2zM151 207h2v2h-2zM163 207h2v2h-2zM175 207h2v2h-2zM195 207h2v2h-2zM27 209h2v2h-2zM31 209h2v2h-2zM87 209h2v2h-2zM117 209h2v2h-2zM161 209h2v2h-2zM165 209h2v2h-2zM181 209h2v2h-2zM201 209h2v2h-2zM27 211h2v2h-2zM35 211h2v2h-2zM45 211h2v2h-2zM53 211h2v2h-2zM83 211h2v2h-2zM87 211h2v2h-2zM91 211h2v2h-2zM113 211h2v2h-2zM119 211h2v2h-2zM129 211h2v2h-2zM167 211h2v2h-2zM195 211h2v2h-2zM39 213h2v2h-2zM43 213h2v2h-2zM79 213h2v2h-2zM105 213h2v2h-2zM109 213h2v2h-2zM161 213h2v2h-2zM169 213h2v2h-2zM195 213h2v2h-2zM61 215h2v2h-2zM193 215h2v2h-2zM203 215h4v2h-4zM211 215h4v2h-4zM19 217h2v2h-2zM53 217h2v2h-2zM57 217h2v2h-2zM141 217h2v2h-2zM155 217h2v2h-2zM167 217h2v2h-2zM199 217h2v2h-2zM53 219h2v2h-2zM59 219h4v2h-4zM179 219h2v2h-2zM197 219h4v2h-4zM207 219h2v2h-2zM17 221h2v2h-2zM49 221h2v2h-2zM65 221h2v2h-2zM75 221h2v2h-2zM113 221h2v2h-2zM125 221h2v2h-2zM157 221h2v2h-2zM173 221h2v2h-2zM185 221h4v2h-4zM203 221h4v2h-4zM211 221h2v2h-2zM45 223h2v2h-2zM81 223h2v2h-2zM113 223h2v2h-2zM173 223h2v2h-2zM187 223h2v2h-2zM209 223h2v2h-2zM25 225h2v2h-2zM63 225h2v2h-2zM155 225h2v2h-2zM187 225h2v2h-2zM15 227h2v2h-2zM77 227h2v2h-2zM93 227h2v2h-2zM121 227h2v2h-2zM155 227h2v2h-2zM165 227h4v2h-4zM183 227h2v2h-2zM205 227h2v2h-2zM65 229h2v2h-2zM79 229h2v2h-2zM101 229h2v2h-2zM111 229h2v2h-2zM133 229h4v2h-4zM169 229h2v2h-2zM173 229h2v2h-2zM187 229h2v2h-2zM205 229h2v2h-2zM209 229h2v2h-2zM213 229h2v2h-2zM107 231h2v2h-2zM129 231h2v2h-2zM149 231h2v2h-2zM165 231h2v2h-2zM45 233h4v2h-4zM65 233h2v2h-2zM127 233h2v2h-2zM163 233h2v2h-2zM169 233h2v2h-2zM179 233h2v2h-2zM185 233h2v2h-2zM203 233h2v2h-2zM209 233h2v2h-2z"/>
<path fill="#5ede2a" d="M107 35h2v2h-2zM169 35h2v2h-2zM95 37h2v2h-2zM103 37h2v2h-2zM111 37h2v2h-2zM79 43h2v2h-2zM125 43h2v2h-2zM167 45h2v2h-2zM187 45h2v2h-2zM191 45h2v2h-2zM137 51h2v2h-2zM187 51h2v2h-2zM213 51h2v2h-2zM95 53h2v2h-2zM101 55h2v2h-2zM109 55h2v2h-2zM117 55h2v2h-2zM179 55h2v2h-2zM191 55h2v2h-2zM53 57h2v2h-2zM81 57h2v2h-2zM83 59h2v2h-2zM145 59h2v2h-2zM49 61h2v2h-2zM75 61h2v2h-2zM117 63h2v2h-2zM127 63h2v2h-2zM141 63h2v2h-2zM159 63h2v2h-2zM207 63h2v2h-2zM53 65h2v2h-2zM137 65h2v2h-2zM117 67h2v2h-2zM143 67h2v2h-2zM85 69h2v2h-2zM141 69h2v2h-2zM153 69h2v2h-2zM211 69h2v2h-2zM93 71h2v2h-2zM195 71h2v2h-2zM31 73h2v2h-2zM53 73h2v2h-2zM125 73h2v2h-2zM169 73h2v2h-2zM175 73h2v2h-2zM181 73h2v2h-2zM189 73h2v2h-2zM81 75h2v2h-2zM99 75h2v2h-2zM145 75h2v2h-2zM157 75h2v2h-2zM205 75h4v2h-4zM51 77h2v2h-2zM175 77h2v2h-2zM179 77h2v2h-2zM55 79h2v2h-2zM105 79h2v2h-2zM117 79h2v2h-2zM111 81h2v2h-2zM183 81h2v2h-2zM41 83h2v2h-2zM119 83h2v2h-2zM123 83h2v2h-2zM183 83h2v2h-2zM111 85h2v2h-2zM149 85h2v2h-2zM39 87h2v2h-2zM95 87h2v2h-2zM125 87h2v2h-2zM197 87h2v2h-2zM83 89h2v2h-2zM161 89h2v2h-2zM197 89h2v2h-2zM51 91h2v2h-2zM187 91h2v2h-2zM197 91h2v2h-2zM59 93h2v2h-2zM187 93h2v2h-2zM37 95h2v2h-2zM59 95h2v2h-2zM81 95h2v2h-2zM107 95h2v2h-2zM201 95h2v2h-2zM21 99h2v2h-2zM81 99h2v2h-2zM103 99h2v2h-2zM203 99h2v2h-2zM29 101h2v2h-2zM141 103h2v2h-2zM191 103h2v2h-2zM31 105h2v2h-2zM39 105h2v2h-2zM87 105h2v2h-2zM183 105h2v2h-2zM201 105h2v2h-2zM27 109h2v2h-2zM49 109h2v2h-2zM121 109h2v2h-2zM129 109h2v2h-2zM189 109h2v2h-2zM197 109h2v2h-2zM43 111h2v2h-2zM119 111h2v2h-2zM205 111h2v2h-2zM111 113h2v2h-2zM197 113h2v2h-2zM71 115h2v2h-2zM87 115h2v2h-2zM99 115h2v2h-2zM25 117h2v2h-2zM71 117h2v2h-2zM85 117h2v2h-2zM31 119h2v2h-2zM77 119h2v2h-2zM179 119h2v2h-2zM195 119h2v2h-2zM57 121h2v2h-2zM19 123h2v2h-2zM121 123h2v2h-2zM133 123h2v2h-2zM149 125h2v2h-2zM127 129h2v2h-2zM169 129h2v2h-2zM27 133h2v2h-2zM71 133h2v2h-2zM121 133h2v2h-2zM37 135h2v2h-2zM59 135h2v2h-2zM147 135h2v2h-2zM211 135h2v2h-2zM21 137h2v2h-2zM27 137h2v2h-2zM73 137h2v2h-2zM189 137h2v2h-2zM201 137h2v2h-2zM29 139h2v2h-2zM49 139h2v2h-2zM77 139h2v2h-2zM171 139h2v2h-2zM205 139h2v2h-2zM23 141h2v2h-2zM47 141h2v2h-2zM139 141h2v2h-2zM157 141h2v2h-2zM175 141h2v2h-2zM39 143h2v2h-2zM123 143h2v2h-2zM137 143h2v2h-2zM191 143h4v2h-4zM205 143h2v2h-2zM27 145h2v2h-2zM175 145h2v2h-2zM179 145h2v2h-2zM199 145h2v2h-2zM39 147h2v2h-2zM129 147h2v2h-2zM179 147h2v2h-2zM31 149h2v2h-2zM117 149h2v2h-2zM17 151h2v2h-2zM27 151h2v2h-2zM133 151h2v2h-2zM163 151h2v2h-2zM199 151h2v2h-2zM37 153h2v2h-2zM177 153h2v2h-2zM209 153h2v2h-2zM61 155h2v2h-2zM53 157h2v2h-2zM105 157h2v2h-2zM161 157h2v2h-2zM167 157h2v2h-2zM183 157h2v2h-2zM211 157h2v2h-2zM209 159h2v2h-2zM135 161h2v2h-2zM31 163h2v2h-2zM63 163h2v2h-2zM175 163h2v2h-2zM21 165h2v2h-2zM99 165h2v2h-2zM123 165h2v2h-2zM153 165h2v2h-2zM173 165h2v2h-2zM33 167h2v2h-2zM91 167h2v2h-2zM103 167h2v2h-2zM109 167h2v2h-2zM153 167h4v2h-4zM185 167h2v2h-2zM195 167h2v2h-2zM99 169h2v2h-2zM145 169h2v2h-2zM39 171h2v2h-2zM47 171h2v2h-2zM175 171h2v2h-2zM179 171h2v2h-2zM191 171h2v2h-2zM63 173h4v2h-4zM147 173h2v2h-2zM39 175h2v2h-2zM51 175h2v2h-2zM75 175h2v2h-2zM81 175h2v2h-2zM171 175h2v2h-2zM179 175h2v2h-2zM15 177h2v2h-2zM29 177h2v2h-2zM39 177h2v2h-2zM69 177h2v2h-2zM93 177h2v2h-2zM21 179h2v2h-2zM57 179h2v2h-2zM63 179h2v2h-2zM77 179h2v2h-2zM127 179h2v2h-2zM131 179h2v2h-2zM141 179h2v2h-2zM159 179h2v2h-2zM37 181h2v2h-2zM57 181h2v2h-2zM79 181h4v2h-4zM87 181h2v2h-2zM105 181h2v2h-2zM21 183h2v2h-2zM121 183h2v2h-2zM123 185h2v2h-2zM183 185h2v2h-2zM79 187h2v2h-2zM89 187h2v2h-2zM119 187h2v2h-2zM191 187h2v2h-2zM159 189h2v2h-2zM25 191h2v2h-2zM179 191h2v2h-2zM205 191h2v2h-2zM29 193h2v2h-2zM127 193h2v2h-2zM63 195h2v2h-2zM85 195h2v2h-2zM123 195h2v2h-2zM59 197h2v2h-2zM15 199h2v2h-2zM59 199h2v2h-2zM73 199h2v2h-2zM121 199h2v2h-2zM213 199h2v2h-2zM87 201h2v2h-2zM137 201h2v2h-2zM201 201h2v2h-2zM87 203h2v2h-2zM111 203h2v2h-2zM57 205h2v2h-2zM95 205h4v2h-4zM135 205h2v2h-2zM141 205h2v2h-2zM69 207h2v2h-2zM81 207h2v2h-2zM115 207h2v2h-2zM143 207h2v2h-2zM67 209h2v2h-2zM125 209h2v2h-2zM25 211h2v2h-2zM93 211h2v2h-2zM123 211h2v2h-2zM181 211h2v2h-2zM65 213h2v2h-2zM89 213h2v2h-2zM153 213h2v2h-2zM189 213h2v2h-2zM211 213h2v2h-2zM33 215h2v2h-2zM43 215h2v2h-2zM87 215h2v2h-2zM125 215h2v2h-2zM161 215h2v2h-2zM91 217h2v2h-2zM103 217h2v2h-2zM27 219h4v2h-4zM109 219h2v2h-2zM123 219h2v2h-2zM213 219h2v2h-2zM145 221h2v2h-2zM159 221h2v2h-2zM43 223h2v2h-2zM101 223h2v2h-2zM203 225h2v2h-2zM213 225h2v2h-2zM79 227h2v2h-2zM71 229h2v2h-2zM91 229h2v2h-2zM155 229h2v2h-2zM195 229h2v2h-2zM65 231h2v2h-2zM147 231h2v2h-2zM207 231h2v2h-2zM15 233h2v2h-2zM85 233h2v2h-2z"/>
<path fill="#25e01a" d="M119 35h2v2h-2zM139 35h2v2h-2zM41 37h2v2h-2zM87 37h2v2h-2zM107 37h2v2h-2zM117 37h2v2h-2zM157 37h2v2h-2zM93 39h2v2h-2zM119 39h2v2h-2zM131 39h2v2h-2zM157 39h2v2h-2zM189 39h2v2h-2zM19 41h2v2h-2zM95 41h2v2h-2zM131 41h2v2h-2zM145 41h2v2h-2zM187 41h2v2h-2zM103 43h2v2h-2zM189 43h2v2h-2zM15 45h2v2h-2zM99 45h4v2h-4zM159 45h2v2h-2zM213 45h2v2h-2zM33 47h2v2h-2zM37 47h2v2h-2zM63 47h2v2h-2zM95 47h2v2h-2zM113 47h2v2h-2zM119 47h2v2h-2zM149 47h2v2h-2zM193 47h2v2h-2zM197 47h2v2h-2zM205 47h2v2h-2zM213 47h2v2h-2zM71 49h2v2h-2zM99 49h2v2h-2zM103 49h2v2h-2zM151 49h2v2h-2zM25 51h2v2h-2zM95 51h2v2h-2zM175 51h2v2h-2zM179 51h2v2h-2zM191 51h2v2h-2zM205 51h4v2h-4zM29 53h2v2h-2zM55 53h2v2h-2zM119 53h2v2h-2zM175 53h2v2h-2zM201 53h2v2h-2zM209 53h2v2h-2zM79 55h2v2h-2zM135 55h2v2h-2zM187 55h2v2h-2zM87 57h2v2h-2zM99 57h4v2h-4zM107 57h2v2h-2zM131 57h2v2h-2zM169 57h2v2h-2zM183 57h2v2h-2zM191 57h2v2h-2zM213 57h2v2h-2zM51 59h2v2h-2zM119 59h2v2h-2zM203 59h2v2h-2zM39 61h2v2h-2zM153 61h2v2h-2zM165 61h2v2h-2zM175 61h2v2h-2zM209 61h2v2h-2zM65 63h2v2h-2zM69 63h2v2h-2zM91 63h2v2h-2zM99 63h2v2h-2zM121 63h2v2h-2zM125 63h2v2h-2zM139 63h2v2h-2zM151 63h2v2h-2zM155 63h2v2h-2zM169 63h2v2h-2zM181 63h2v2h-2zM25 65h2v2h-2zM49 65h2v2h-2zM177 65h2v2h-2zM207 65h4v2h-4zM213 65h2v2h-2zM123 67h2v2h-2zM139 67h2v2h-2zM145 67h2v2h-2zM149 67h2v2h-2zM155 67h2v2h-2zM205 67h2v2h-2zM211 67h2v2h-2zM43 69h2v2h-2zM51 69h2v2h-2zM55 69h2v2h-2zM59 69h2v2h-2zM95 69h2v2h-2zM117 69h2v2h-2zM143 69h2v2h-2zM177 69h2v2h-2zM193 69h2v2h-2zM205 69h2v2h-2zM47 71h2v2h-2zM99 71h2v2h-2zM115 71h4v2h-4zM123 71h2v2h-2zM129 71h2v2h-2zM139 71h2v2h-2zM149 71h4v2h-4zM183 71h2v2h-2zM197 71h2v2h-2zM29 73h2v2h-2zM47 73h2v2h-2zM77 73h2v2h-2zM97 73h2v2h-2zM123 73h2v2h-2zM197 73h2v2h-2zM43 75h2v2h-2zM53 75h2v2h-2zM59 75h2v2h-2zM67 75h2v2h-2zM79 75h2v2h-2zM101 75h2v2h-2zM113 75h2v2h-2zM121 75h2v2h-2zM129 75h2v2h-2zM151 75h2v2h-2zM191 75h2v2h-2zM25 77h2v2h-2zM75 77h2v2h-2zM121 77h2v2h-2zM143 77h2v2h-2zM171 77h2v2h-2zM205 77h2v2h-2zM213 77h2v2h-2zM35 79h2v2h-2zM39 79h2v2h-2zM47 79h2v2h-2zM65 79h2v2h-2zM81 79h2v2h-2zM111 79h2v2h-2zM119 79h2v2h-2zM183 79h2v2h-2zM201 79h4v2h-4zM73 81h2v2h-2zM77 81h2v2h-2zM81 81h2v2h-2zM129 81h2v2h-2zM151 81h2v2h-2zM171 81h2v2h-2zM211 81h2v2h-2zM59 83h6v2h-6zM103 83h2v2h-2zM131 83h2v2h-2zM149 83h2v2h-2zM201 83h2v2h-2zM209 83h4v2h-4zM45 85h2v2h-2zM67 85h2v2h-2zM81 85h2v2h-2zM211 85h2v2h-2zM29 87h2v2h-2zM71 87h2v2h-2zM91 87h2v2h-2zM97 87h2v2h-2zM143 87h2v2h-2zM181 87h6v2h-6zM205 87h2v2h-2zM23 89h2v2h-2zM31 89h2v2h-2zM37 89h2v2h-2zM51 89h2v2h-2zM135 89h2v2h-2zM145 89h2v2h-2zM169 89h2v2h-2zM175 89h2v2h-2zM181 89h2v2h-2zM21 91h2v2h-2zM59 91h2v2h-2zM91 91h2v2h-2zM181 91h4v2h-4zM201 91h2v2h-2zM213 91h2v2h-2zM25 93h2v2h-2zM29 93h2v2h-2zM51 93h2v2h-2zM71 93h2v2h-2zM77 93h2v2h-2zM149 93h2v2h-2zM211 93h2v2h-2zM21 95h2v2h-2zM41 95h2v2h-2zM47 95h2v2h-2zM63 95h4v2h-4zM115 95h2v2h-2zM169 95h2v2h-2zM63 97h2v2h-2zM75 97h2v2h-2zM81 97h4v2h-4zM87 97h2v2h-2zM103 97h2v2h-2zM141 97h2v2h-2zM193 97h2v2h-2zM201 97h2v2h-2zM207 97h2v2h-2zM29 99h2v2h-2zM75 99h2v2h-2zM89 99h2v2h-2zM133 99h2v2h-2zM189 99h2v2h-2zM199 99h2v2h-2zM211 99h2v2h-2zM37 101h2v2h-2zM57 101h2v2h-2zM71 101h2v2h-2zM75 101h2v2h-2zM79 101h4v2h-4zM111 101h2v2h-2zM127 101h2v2h-2zM139 101h2v2h-2zM177 101h2v2h-2zM189 101h4v2h-4zM197 101h2v2h-2zM19 103h2v2h-2zM63 103h2v2h-2zM73 103h2v2h-2zM131 103h2v2h-2zM177 103h2v2h-2zM187 103h2v2h-2zM209 103h4v2h-4zM17 105h2v2h-2zM35 105h2v2h-2zM91 105h2v2h-2zM127 105h4v2h-4zM187 105h2v2h-2zM199 105h2v2h-2zM205 105h2v2h-2zM37 107h2v2h-2zM43 107h2v2h-2zM51 107h2v2h-2zM113 107h2v2h-2zM127 107h2v2h-2zM213 107h2v2h-2zM29 109h2v2h-2zM47 109h2v2h-2zM51 109h2v2h-2zM61 109h2v2h-2zM123 109h2v2h-2zM127 109h2v2h-2zM147 109h2v2h-2zM151 109h2v2h-2zM179 109h2v2h-2zM209 109h2v2h-2zM21 111h2v2h-2zM85 111h2v2h-2zM115 111h2v2h-2zM169 111h2v2h-2zM185 111h4v2h-4zM187 113h2v2h-2zM15 115h2v2h-2zM85 115h2v2h-2zM161 115h2v2h-2zM187 115h2v2h-2zM197 115h2v2h-2zM23 117h2v2h-2zM31 117h2v2h-2zM59 117h4v2h-4zM91 117h2v2h-2zM105 117h2v2h-2zM129 117h2v2h-2zM143 117h2v2h-2zM21 119h2v2h-2zM35 119h2v2h-2zM159 119h2v2h-2zM171 119h2v2h-2zM201 119h2v2h-2zM33 121h4v2h-4zM173 121h2v2h-2zM181 121h2v2h-2zM197 121h2v2h-2zM207 121h2v2h-2zM213 121h2v2h-2zM41 123h2v2h-2zM55 123h2v2h-2zM61 123h2v2h-2zM187 123h2v2h-2zM37 125h2v2h-2zM49 125h2v2h-2zM53 125h2v2h-2zM59 125h2v2h-2zM63 125h2v2h-2zM87 125h2v2h-2zM99 125h2v2h-2zM137 125h4v2h-4zM153 125h2v2h-2zM179 125h2v2h-2zM183 125h2v2h-2zM209 125h2v2h-2zM31 127h2v2h-2zM81 127h2v2h-2zM87 127h2v2h-2zM95 127h2v2h-2zM99 127h2v2h-2zM115 127h2v2h-2zM187 127h6v2h-6zM17 129h2v2h-2zM55 129h4v2h-4zM107 129h2v2h-2zM203 129h2v2h-2zM147 131h2v2h-2zM151 131h2v2h-2zM173 131h2v2h-2zM197 131h2v2h-2zM205 131h2v2h-2zM51 133h2v2h-2zM65 133h2v2h-2zM69 133h2v2h-2zM79 133h2v2h-2zM175 133h2v2h-2zM199 133h2v2h-2zM15 135h2v2h-2zM27 135h2v2h-2zM35 135h2v2h-2zM39 135h4v2h-4zM57 135h2v2h-2zM61 135h6v2h-6zM87 135h2v2h-2zM177 135h2v2h-2zM207 135h2v2h-2zM63 137h2v2h-2zM81 137h2v2h-2zM37 139h4v2h-4zM47 139h2v2h-2zM53 139h2v2h-2zM59 139h2v2h-2zM71 139h2v2h-2zM103 139h2v2h-2zM169 139h2v2h-2zM197 139h2v2h-2zM55 141h2v2h-2zM67 141h2v2h-2zM95 141h2v2h-2zM155 141h2v2h-2zM161 141h2v2h-2zM35 143h2v2h-2zM51 143h4v2h-4zM59 143h2v2h-2zM77 143h2v2h-2zM89 143h2v2h-2zM163 143h2v2h-2zM199 143h2v2h-2zM161 145h2v2h-2zM101 147h2v2h-2zM105 147h2v2h-2zM199 147h6v2h-6zM41 149h2v2h-2zM69 149h2v2h-2zM91 149h4v2h-4zM119 149h2v2h-2zM167 149h4v2h-4zM17 153h4v2h-4zM53 153h4v2h-4zM71 153h2v2h-2zM109 153h2v2h-2zM121 153h2v2h-2zM125 153h2v2h-2zM129 153h2v2h-2zM175 153h2v2h-2zM183 153h2v2h-2zM191 153h2v2h-2zM25 155h2v2h-2zM153 155h2v2h-2zM167 155h2v2h-2zM171 155h2v2h-2zM201 155h2v2h-2zM19 157h2v2h-2zM63 157h4v2h-4zM33 159h2v2h-2zM43 159h2v2h-2zM111 159h2v2h-2zM119 159h2v2h-2zM171 159h2v2h-2zM211 159h2v2h-2zM43 161h2v2h-2zM91 161h2v2h-2zM97 161h2v2h-2zM119 161h2v2h-2zM141 161h2v2h-2zM193 161h2v2h-2zM203 161h2v2h-2zM37 163h2v2h-2zM43 163h2v2h-2zM95 163h2v2h-2zM105 163h2v2h-2zM171 163h2v2h-2zM195 163h2v2h-2zM17 165h2v2h-2zM29 165h4v2h-4zM39 165h2v2h-2zM65 165h2v2h-2zM117 165h4v2h-4zM155 165h2v2h-2zM159 165h2v2h-2zM165 165h2v2h-2zM201 165h2v2h-2zM49 167h2v2h-2zM97 167h2v2h-2zM107 167h2v2h-2zM141 167h4v2h-4zM147 167h2v2h-2zM163 167h2v2h-2zM175 167h2v2h-2zM27 169h2v2h-2zM33 169h2v2h-2zM49 169h2v2h-2zM91 169h2v2h-2zM109 169h2v2h-2zM125 169h2v2h-2zM131 169h2v2h-2zM159 169h2v2h-2zM175 169h4v2h-4zM21 171h2v2h-2zM45 171h2v2h-2zM67 171h2v2h-2zM79 171h2v2h-2zM123 171h2v2h-2zM157 171h2v2h-2zM181 171h2v2h-2zM199 171h2v2h-2zM17 173h2v2h-2zM43 173h2v2h-2zM67 173h2v2h-2zM113 173h2v2h-2zM121 173h2v2h-2zM153 173h2v2h-2zM195 173h2v2h-2zM199 173h2v2h-2zM209 173h2v2h-2zM59 175h2v2h-2zM67 175h2v2h-2zM93 175h2v2h-2zM121 175h4v2h-4zM167 175h2v2h-2zM199 175h2v2h-2zM21 177h2v2h-2zM35 177h2v2h-2zM43 177h2v2h-2zM49 177h2v2h-2zM87 177h2v2h-2zM123 177h2v2h-2zM131 177h2v2h-2zM135 177h2v2h-2zM159 177h4v2h-4zM169 177h2v2h-2zM189 177h2v2h-2zM33 179h2v2h-2zM85 179h2v2h-2zM111 179h2v2h-2zM129 179h2v2h-2zM211 179h4v2h-4zM25 181h2v2h-2zM35 181h2v2h-2zM61 181h2v2h-2zM69 181h2v2h-2zM109 181h2v2h-2zM117 181h2v2h-2zM133 181h2v2h-2zM177 181h2v2h-2zM187 181h2v2h-2zM207 181h2v2h-2zM23 183h2v2h-2zM81 183h2v2h-2zM129 183h2v2h-2zM133 183h2v2h-2zM139 183h2v2h-2zM157 183h4v2h-4zM165 183h2v2h-2zM179 183h2v2h-2zM209 183h2v2h-2zM37 185h2v2h-2zM41 185h2v2h-2zM111 185h2v2h-2zM151 185h2v2h-2zM159 185h2v2h-2zM169 185h4v2h-4zM195 185h2v2h-2zM203 185h2v2h-2zM211 185h2v2h-2zM35 187h2v2h-2zM71 187h2v2h-2zM101 187h2v2h-2zM121 187h2v2h-2zM161 187h2v2h-2zM165 187h2v2h-2zM23 189h2v2h-2zM33 189h2v2h-2zM81 189h2v2h-2zM109 189h2v2h-2zM163 189h2v2h-2zM177 189h2v2h-2zM33 191h2v2h-2zM39 191h2v2h-2zM89 191h2v2h-2zM121 191h2v2h-2zM125 191h2v2h-2zM161 191h2v2h-2zM187 191h2v2h-2zM209 191h2v2h-2zM31 193h2v2h-2zM41 193h2v2h-2zM73 193h2v2h-2zM87 193h2v2h-2zM109 193h2v2h-2zM187 193h2v2h-2zM191 193h2v2h-2zM205 193h2v2h-2zM75 195h2v2h-2zM97 195h4v2h-4zM161 195h2v2h-2zM183 195h2v2h-2zM211 195h2v2h-2zM33 197h2v2h-2zM37 197h2v2h-2zM69 197h4v2h-4zM131 197h2v2h-2zM149 197h2v2h-2zM179 197h2v2h-2zM201 197h2v2h-2zM213 197h2v2h-2zM19 199h4v2h-4zM61 199h4v2h-4zM69 199h4v2h-4zM77 199h2v2h-2zM97 199h2v2h-2zM131 199h2v2h-2zM155 199h2v2h-2zM169 199h2v2h-2zM17 201h2v2h-2zM39 201h2v2h-2zM67 201h2v2h-2zM97 201h2v2h-2zM107 201h2v2h-2zM127 201h2v2h-2zM149 201h2v2h-2zM177 201h2v2h-2zM181 201h2v2h-2zM45 203h2v2h-2zM49 203h2v2h-2zM97 203h2v2h-2zM109 203h2v2h-2zM141 203h2v2h-2zM159 203h2v2h-2zM183 203h2v2h-2zM195 203h2v2h-2zM213 203h2v2h-2zM35 205h2v2h-2zM39 205h2v2h-2zM79 205h2v2h-2zM133 205h2v2h-2zM205 205h2v2h-2zM25 207h2v2h-2zM79 207h2v2h-2zM93 207h2v2h-2zM177 207h2v2h-2zM201 207h2v2h-2zM205 207h2v2h-2zM211 207h2v2h-2zM21 209h2v2h-2zM43 209h2v2h-2zM53 209h2v2h-2zM89 209h2v2h-2zM105 209h2v2h-2zM111 209h2v2h-2zM173 209h2v2h-2zM207 209h2v2h-2zM211 209h2v2h-2zM41 211h4v2h-4zM51 211h2v2h-2zM55 211h2v2h-2zM157 211h2v2h-2zM53 213h2v2h-2zM75 213h2v2h-2zM85 213h2v2h-2zM95 213h2v2h-2zM127 213h2v2h-2zM155 213h2v2h-2zM167 213h2v2h-2zM181 213h2v2h-2zM185 213h2v2h-2zM41 215h2v2h-2zM45 215h2v2h-2zM49 215h4v2h-4zM59 215h2v2h-2zM95 215h2v2h-2zM105 215h2v2h-2zM129 215h2v2h-2zM23 217h6v2h-6zM33 217h2v2h-2zM97 217h2v2h-2zM101 217h2v2h-2zM131 217h2v2h-2zM143 217h4v2h-4zM165 217h2v2h-2zM21 219h4v2h-4zM37 219h2v2h-2zM45 219h2v2h-2zM79 219h2v2h-2zM91 219h2v2h-2zM115 219h4v2h-4zM121 219h2v2h-2zM125 219h2v2h-2zM149 219h2v2h-2zM167 219h2v2h-2zM203 219h2v2h-2zM15 221h2v2h-2zM33 221h2v2h-2zM37 221h2v2h-2zM53 221h2v2h-2zM61 221h4v2h-4zM77 221h2v2h-2zM105 221h2v2h-2zM109 221h2v2h-2zM151 221h2v2h-2zM163 221h2v2h-2zM171 221h2v2h-2zM15 223h2v2h-2zM31 223h4v2h-4zM55 223h2v2h-2zM89 223h2v2h-2zM105 223h2v2h-2zM127 223h2v2h-2zM67 225h2v2h-2zM85 225h2v2h-2zM121 225h2v2h-2zM157 225h2v2h-2zM199 225h2v2h-2zM211 225h2v2h-2zM45 227h2v2h-2zM87 227h2v2h-2zM103 227h2v2h-2zM131 227h2v2h-2zM151 227h4v2h-4zM17 229h4v2h-4zM25 229h2v2h-2zM35 229h2v2h-2zM63 229h2v2h-2zM95 229h2v2h-2zM109 229h2v2h-2zM121 229h2v2h-2zM145 229h2v2h-2zM185 229h2v2h-2zM27 231h2v2h-2zM69 231h2v2h-2zM77 231h2v2h-2zM93 231h2v2h-2zM145 231h2v2h-2zM161 231h4v2h-4zM175 231h2v2h-2zM193 231h4v2h-4zM205 231h2v2h-2zM25 233h2v2h-2zM39 233h2v2h-2zM49 233h2v2h-2zM59 233h2v2h-2zM73 233h2v2h-2zM87 233h2v2h-2zM107 233h2v2h-2zM113 233h2v2h-2zM121 233h2v2h-2zM167 233h2v2h-2z"/>
<path fill="#ffa320" d="M135 35h2v2h-2zM157 35h2v2h-2zM203 35h2v2h-2zM113 37h2v2h-2zM111 39h2v2h-2zM115 39h2v2h-2zM121 39h2v2h-2zM79 41h2v2h-2zM115 41h2v2h-2zM119 41h2v2h-2zM123 41h2v2h-2zM127 41h2v2h-2zM109 43h2v2h-2zM119 43h2v2h-2zM161 43h2v2h-2zM117 47h2v2h-2zM155 49h2v2h-2zM101 53h2v2h-2zM183 53h2v2h-2zM95 55h2v2h-2zM123 55h2v2h-2zM153 55h4v2h-4zM159 55h2v2h-2zM167 55h2v2h-2zM95 57h2v2h-2zM151 57h2v2h-2zM89 59h2v2h-2zM163 59h2v2h-2zM193 59h2v2h-2zM79 61h2v2h-2zM95 61h2v2h-2zM161 61h2v2h-2zM109 63h2v2h-2zM165 63h2v2h-2zM209 63h2v2h-2zM77 65h2v2h-2zM113 65h2v2h-2zM45 67h2v2h-2zM55 67h2v2h-2zM111 67h2v2h-2zM119 69h2v2h-2zM57 71h2v2h-2zM69 71h2v2h-2zM89 71h2v2h-2zM95 71h2v2h-2zM105 71h2v2h-2zM167 71h4v2h-4zM81 73h2v2h-2zM85 73h2v2h-2zM89 73h2v2h-2zM95 73h2v2h-2zM41 75h2v2h-2zM47 75h2v2h-2zM55 75h2v2h-2zM61 75h2v2h-2zM87 75h2v2h-2zM95 75h4v2h-4zM207 77h2v2h-2zM63 79h2v2h-2zM75 79h2v2h-2zM171 79h2v2h-2zM209 79h2v2h-2zM105 81h2v2h-2zM199 81h2v2h-2zM213 81h2v2h-2zM53 83h2v2h-2zM65 83h2v2h-2zM85 83h2v2h-2zM101 83h2v2h-2zM109 83h2v2h-2zM213 83h2v2h-2zM73 85h2v2h-2zM97 85h2v2h-2zM105 85h2v2h-2zM163 85h4v2h-4zM205 85h2v2h-2zM59 87h2v2h-2zM67 87h2v2h-2zM109 87h4v2h-4zM129 87h4v2h-4zM145 87h2v2h-2zM27 89h4v2h-4zM35 89h2v2h-2zM47 89h2v2h-2zM71 89h2v2h-2zM95 89h2v2h-2zM105 89h2v2h-2zM155 89h2v2h-2zM33 91h2v2h-2zM67 91h2v2h-2zM77 91h2v2h-2zM101 91h2v2h-2zM107 91h4v2h-4zM129 91h2v2h-2zM199 91h2v2h-2zM27 93h2v2h-2zM49 93h2v2h-2zM103 93h2v2h-2zM15 95h2v2h-2zM33 95h2v2h-2zM83 95h2v2h-2zM101 95h2v2h-2zM155 95h2v2h-2zM173 95h2v2h-2zM145 97h2v2h-2zM171 97h2v2h-2zM205 97h2v2h-2zM141 99h2v2h-2zM173 99h4v2h-4zM199 101h2v2h-2zM49 103h2v2h-2zM65 103h2v2h-2zM111 103h2v2h-2zM117 103h2v2h-2zM175 103h2v2h-2zM23 105h2v2h-2zM55 105h2v2h-2zM85 105h2v2h-2zM143 105h2v2h-2zM149 105h4v2h-4zM177 105h2v2h-2zM207 105h2v2h-2zM143 107h2v2h-2zM169 107h2v2h-2zM209 107h2v2h-2zM135 109h2v2h-2zM139 109h2v2h-2zM157 109h2v2h-2zM169 109h2v2h-2zM175 109h2v2h-2zM23 111h2v2h-2zM55 111h4v2h-4zM157 111h2v2h-2zM127 113h2v2h-2zM49 115h2v2h-2zM167 115h2v2h-2zM45 117h2v2h-2zM63 117h2v2h-2zM109 117h2v2h-2zM145 117h2v2h-2zM167 117h2v2h-2zM27 119h4v2h-4zM109 119h2v2h-2zM123 119h2v2h-2zM143 119h2v2h-2zM149 119h2v2h-2zM157 119h2v2h-2zM173 119h2v2h-2zM193 119h2v2h-2zM43 121h2v2h-2zM53 121h2v2h-2zM71 121h2v2h-2zM81 121h2v2h-2zM111 121h2v2h-2zM133 121h2v2h-2zM149 121h2v2h-2zM163 121h2v2h-2zM107 123h2v2h-2zM157 123h2v2h-2zM191 123h2v2h-2zM109 125h2v2h-2zM115 125h2v2h-2zM135 125h2v2h-2zM177 125h2v2h-2zM51 127h2v2h-2zM77 127h2v2h-2zM117 127h2v2h-2zM141 127h2v2h-2zM149 127h2v2h-2zM159 127h2v2h-2zM171 127h2v2h-2zM85 129h2v2h-2zM109 129h2v2h-2zM143 129h2v2h-2zM187 129h2v2h-2zM25 131h2v2h-2zM85 131h2v2h-2zM153 131h2v2h-2zM211 131h2v2h-2zM59 133h2v2h-2zM109 133h2v2h-2zM119 133h2v2h-2zM187 133h2v2h-2zM33 135h2v2h-2zM199 135h2v2h-2zM29 137h2v2h-2zM135 137h4v2h-4zM161 137h2v2h-2zM167 137h2v2h-2zM191 137h2v2h-2zM213 137h2v2h-2zM23 139h2v2h-2zM31 139h2v2h-2zM101 139h2v2h-2zM133 139h2v2h-2zM159 139h2v2h-2zM15 141h2v2h-2zM111 141h2v2h-2zM125 141h2v2h-2zM23 143h2v2h-2zM33 143h2v2h-2zM129 143h2v2h-2zM165 143h2v2h-2zM169 143h6v2h-6zM99 145h2v2h-2zM103 145h2v2h-2zM111 145h4v2h-4zM123 145h2v2h-2zM163 145h2v2h-2zM75 147h2v2h-2zM107 147h2v2h-2zM119 147h2v2h-2zM131 147h2v2h-2zM153 147h2v2h-2zM161 147h2v2h-2zM181 147h2v2h-2zM25 149h2v2h-2zM71 149h4v2h-4zM97 149h2v2h-2zM103 149h2v2h-2zM151 149h2v2h-2zM171 149h2v2h-2zM203 149h2v2h-2zM49 151h2v2h-2zM101 151h2v2h-2zM119 151h2v2h-2zM125 151h6v2h-6zM141 151h2v2h-2zM145 151h2v2h-2zM153 151h2v2h-2zM161 151h2v2h-2zM201 151h2v2h-2zM21 153h2v2h-2zM27 153h2v2h-2zM49 153h2v2h-2zM119 153h2v2h-2zM151 153h2v2h-2zM155 153h2v2h-2zM159 153h2v2h-2zM169 153h2v2h-2zM73 155h2v2h-2zM121 155h2v2h-2zM141 155h2v2h-2zM151 155h2v2h-2zM109 157h2v2h-2zM129 157h2v2h-2zM133 157h2v2h-2zM139 157h4v2h-4zM149 157h2v2h-2zM31 159h2v2h-2zM107 159h2v2h-2zM147 159h2v2h-2zM155 159h2v2h-2zM39 161h2v2h-2zM115 161h4v2h-4zM145 161h2v2h-2zM121 163h2v2h-2zM129 163h2v2h-2zM135 163h2v2h-2zM153 163h2v2h-2zM33 165h2v2h-2zM97 165h2v2h-2zM125 165h2v2h-2zM131 165h2v2h-2zM145 165h2v2h-2zM169 165h4v2h-4zM209 165h2v2h-2zM25 167h2v2h-2zM43 167h2v2h-2zM105 167h2v2h-2zM127 167h2v2h-2zM101 169h4v2h-4zM197 169h2v2h-2zM153 171h2v2h-2zM169 171h2v2h-2zM183 171h2v2h-2zM211 171h2v2h-2zM45 173h2v2h-2zM107 173h2v2h-2zM179 173h2v2h-2zM97 175h2v2h-2zM111 175h2v2h-2zM175 175h2v2h-2zM187 175h2v2h-2zM205 175h2v2h-2zM37 177h2v2h-2zM73 177h2v2h-2zM101 177h2v2h-2zM25 179h2v2h-2zM31 179h2v2h-2zM51 181h2v2h-2zM67 181h2v2h-2zM71 181h2v2h-2zM149 181h2v2h-2zM103 183h2v2h-2zM107 183h2v2h-2zM197 183h2v2h-2zM207 183h2v2h-2zM75 185h2v2h-2zM89 185h2v2h-2zM175 185h2v2h-2zM53 187h2v2h-2zM81 187h2v2h-2zM45 189h2v2h-2zM55 189h2v2h-2zM93 189h6v2h-6zM43 191h2v2h-2zM51 191h2v2h-2zM159 191h2v2h-2zM193 191h2v2h-2zM197 191h2v2h-2zM53 193h2v2h-2zM77 193h2v2h-2zM107 193h2v2h-2zM41 195h2v2h-2zM57 195h2v2h-2zM139 195h2v2h-2zM177 195h2v2h-2zM197 195h2v2h-2zM55 197h2v2h-2zM65 197h2v2h-2zM125 197h2v2h-2zM137 197h2v2h-2zM175 197h2v2h-2zM49 199h2v2h-2zM135 199h2v2h-2zM153 199h2v2h-2zM167 199h2v2h-2zM203 199h2v2h-2zM49 201h4v2h-4zM131 201h2v2h-2zM153 201h2v2h-2zM159 201h2v2h-2zM195 201h2v2h-2zM77 203h2v2h-2zM147 203h2v2h-2zM175 203h2v2h-2zM51 205h4v2h-4zM85 205h2v2h-2zM157 205h2v2h-2zM163 205h2v2h-2zM173 205h2v2h-2zM145 207h2v2h-2zM149 207h2v2h-2zM153 207h2v2h-2zM171 207h2v2h-2zM71 209h2v2h-2zM137 209h2v2h-2zM153 209h4v2h-4zM89 211h2v2h-2zM117 211h2v2h-2zM135 211h2v2h-2zM143 211h6v2h-6zM159 211h2v2h-2zM137 213h2v2h-2zM159 213h2v2h-2zM145 215h2v2h-2zM119 217h2v2h-2zM93 219h2v2h-2zM83 221h2v2h-2zM27 223h2v2h-2zM109 223h2v2h-2zM211 223h2v2h-2zM171 225h2v2h-2zM23 229h2v2h-2zM19 231h2v2h-2zM23 231h2v2h-2zM179 231h2v2h-2zM123 233h2v2h-2zM131 233h2v2h-2z"/>
<path fill="#40e430" d="M137 35h2v2h-2zM165 35h2v2h-2zM173 35h2v2h-2zM93 37h2v2h-2zM171 37h4v2h-4zM191 37h2v2h-2zM59 39h2v2h-2zM75 39h2v2h-2zM101 39h2v2h-2zM105 39h2v2h-2zM109 39h2v2h-2zM113 39h2v2h-2zM163 39h2v2h-2zM73 41h2v2h-2zM99 41h2v2h-2zM105 41h2v2h-2zM167 41h2v2h-2zM171 41h2v2h-2zM67 43h2v2h-2zM91 43h2v2h-2zM121 43h2v2h-2zM173 43h2v2h-2zM185 43h2v2h-2zM191 43h2v2h-2zM197 43h2v2h-2zM209 43h2v2h-2zM139 45h2v2h-2zM143 45h2v2h-2zM161 45h2v2h-2zM211 45h2v2h-2zM29 47h2v2h-2zM107 47h2v2h-2zM115 47h2v2h-2zM125 47h2v2h-2zM137 47h6v2h-6zM155 47h2v2h-2zM195 47h2v2h-2zM93 49h2v2h-2zM113 49h2v2h-2zM147 49h4v2h-4zM199 49h2v2h-2zM97 51h2v2h-2zM143 51h2v2h-2zM149 51h2v2h-2zM173 51h2v2h-2zM183 51h2v2h-2zM193 51h6v2h-6zM19 53h2v2h-2zM121 53h2v2h-2zM143 53h2v2h-2zM213 53h2v2h-2zM31 55h2v2h-2zM121 55h2v2h-2zM145 55h2v2h-2zM151 55h2v2h-2zM177 55h2v2h-2zM181 55h2v2h-2zM59 57h2v2h-2zM91 57h2v2h-2zM171 57h2v2h-2zM45 59h4v2h-4zM55 59h2v2h-2zM67 59h2v2h-2zM101 59h2v2h-2zM137 59h2v2h-2zM151 59h2v2h-2zM155 59h2v2h-2zM201 59h2v2h-2zM101 61h2v2h-2zM133 61h2v2h-2zM151 61h2v2h-2zM181 61h2v2h-2zM191 61h2v2h-2zM19 63h2v2h-2zM23 63h2v2h-2zM77 63h2v2h-2zM143 63h2v2h-2zM163 63h2v2h-2zM167 63h2v2h-2zM179 63h2v2h-2zM203 63h2v2h-2zM93 65h2v2h-2zM145 65h2v2h-2zM167 65h2v2h-2zM27 67h2v2h-2zM75 67h2v2h-2zM81 67h2v2h-2zM85 67h2v2h-2zM99 67h2v2h-2zM119 67h4v2h-4zM125 67h2v2h-2zM159 67h2v2h-2zM179 67h2v2h-2zM183 67h2v2h-2zM207 67h2v2h-2zM81 69h2v2h-2zM89 69h2v2h-2zM93 69h2v2h-2zM157 69h2v2h-2zM183 69h2v2h-2zM17 71h2v2h-2zM45 71h2v2h-2zM135 71h2v2h-2zM19 73h2v2h-2zM147 73h2v2h-2zM179 73h2v2h-2zM201 73h2v2h-2zM211 73h2v2h-2zM73 75h2v2h-2zM119 75h2v2h-2zM147 75h2v2h-2zM175 75h2v2h-2zM197 75h2v2h-2zM203 75h2v2h-2zM19 77h2v2h-2zM55 77h2v2h-2zM71 77h2v2h-2zM81 77h2v2h-2zM105 77h2v2h-2zM113 77h4v2h-4zM119 77h2v2h-2zM123 77h2v2h-2zM131 77h2v2h-2zM139 77h4v2h-4zM151 77h2v2h-2zM189 77h2v2h-2zM199 77h2v2h-2zM209 77h2v2h-2zM57 79h2v2h-2zM151 79h2v2h-2zM155 79h2v2h-2zM191 79h2v2h-2zM207 79h2v2h-2zM211 79h2v2h-2zM25 81h2v2h-2zM51 81h2v2h-2zM71 81h2v2h-2zM113 81h2v2h-2zM117 81h2v2h-2zM147 81h2v2h-2zM167 81h4v2h-4zM175 81h2v2h-2zM187 81h2v2h-2zM195 81h2v2h-2zM111 83h2v2h-2zM165 83h2v2h-2zM33 85h2v2h-2zM37 85h2v2h-2zM75 85h2v2h-2zM85 85h2v2h-2zM15 87h2v2h-2zM53 87h4v2h-4zM77 87h2v2h-2zM85 87h2v2h-2zM101 87h2v2h-2zM107 87h2v2h-2zM141 87h2v2h-2zM159 87h2v2h-2zM165 87h2v2h-2zM199 87h2v2h-2zM67 89h2v2h-2zM85 89h2v2h-2zM129 89h2v2h-2zM143 89h2v2h-2zM201 89h2v2h-2zM17 91h2v2h-2zM35 91h2v2h-2zM45 91h2v2h-2zM73 91h2v2h-2zM95 91h2v2h-2zM113 91h2v2h-2zM123 91h2v2h-2zM159 91h2v2h-2zM55 93h2v2h-2zM67 93h2v2h-2zM109 93h4v2h-4zM127 93h4v2h-4zM137 93h2v2h-2zM147 93h2v2h-2zM173 93h2v2h-2zM179 93h2v2h-2zM197 93h2v2h-2zM203 93h2v2h-2zM53 95h4v2h-4zM91 95h2v2h-2zM103 95h2v2h-2zM121 95h2v2h-2zM181 95h2v2h-2zM199 95h2v2h-2zM209 95h4v2h-4zM37 97h2v2h-2zM43 97h2v2h-2zM109 97h2v2h-2zM137 97h2v2h-2zM179 97h2v2h-2zM19 99h2v2h-2zM55 99h2v2h-2zM59 99h2v2h-2zM71 99h2v2h-2zM77 99h2v2h-2zM107 99h4v2h-4zM117 99h2v2h-2zM125 99h2v2h-2zM151 99h4v2h-4zM195 99h2v2h-2zM205 99h6v2h-6zM23 101h2v2h-2zM35 101h2v2h-2zM69 101h2v2h-2zM101 101h2v2h-2zM129 101h2v2h-2zM143 101h2v2h-2zM149 101h4v2h-4zM209 101h4v2h-4zM31 103h2v2h-2zM37 103h2v2h-2zM95 103h2v2h-2zM127 103h2v2h-2zM143 103h2v2h-2zM151 103h4v2h-4zM197 103h2v2h-2zM43 105h2v2h-2zM77 105h2v2h-2zM83 105h2v2h-2zM121 105h2v2h-2zM141 105h2v2h-2zM157 105h2v2h-2zM191 105h2v2h-2zM195 105h4v2h-4zM211 105h2v2h-2zM19 107h2v2h-2zM29 107h2v2h-2zM49 107h2v2h-2zM101 107h2v2h-2zM129 107h2v2h-2zM151 107h2v2h-2zM173 107h2v2h-2zM203 107h2v2h-2zM211 107h2v2h-2zM65 109h2v2h-2zM85 109h4v2h-4zM97 109h2v2h-2zM133 109h2v2h-2zM187 109h2v2h-2zM41 111h2v2h-2zM69 111h2v2h-2zM99 111h2v2h-2zM107 111h2v2h-2zM137 111h2v2h-2zM173 111h2v2h-2zM29 113h2v2h-2zM45 113h2v2h-2zM49 113h2v2h-2zM119 113h2v2h-2zM205 113h2v2h-2zM19 115h2v2h-2zM23 115h2v2h-2zM101 115h2v2h-2zM117 115h2v2h-2zM189 115h2v2h-2zM193 115h2v2h-2zM19 117h2v2h-2zM43 117h2v2h-2zM49 117h8v2h-8zM103 117h2v2h-2zM111 117h2v2h-2zM151 117h2v2h-2zM163 117h2v2h-2zM175 117h2v2h-2zM187 117h2v2h-2zM203 117h4v2h-4zM17 119h4v2h-4zM25 119h2v2h-2zM43 119h2v2h-2zM47 119h2v2h-2zM51 119h4v2h-4zM61 119h2v2h-2zM93 119h2v2h-2zM119 119h4v2h-4zM139 119h2v2h-2zM19 121h2v2h-2zM47 121h2v2h-2zM73 121h2v2h-2zM109 121h2v2h-2zM195 121h2v2h-2zM203 121h2v2h-2zM33 123h2v2h-2zM77 123h2v2h-2zM143 123h4v2h-4zM149 123h4v2h-4zM181 123h2v2h-2zM213 123h2v2h-2zM77 125h2v2h-2zM167 125h2v2h-2zM173 125h2v2h-2zM15 127h2v2h-2zM21 127h2v2h-2zM93 127h2v2h-2zM109 127h2v2h-2zM113 127h2v2h-2zM139 127h2v2h-2zM161 127h2v2h-2zM175 127h2v2h-2zM211 127h2v2h-2zM43 129h2v2h-2zM49 129h2v2h-2zM61 129h2v2h-2zM67 129h2v2h-2zM105 129h2v2h-2zM115 129h4v2h-4zM157 129h2v2h-2zM199 129h2v2h-2zM205 129h2v2h-2zM17 131h2v2h-2zM39 131h2v2h-2zM49 131h2v2h-2zM73 131h2v2h-2zM125 131h2v2h-2zM181 131h2v2h-2zM213 131h2v2h-2zM25 133h2v2h-2zM45 133h2v2h-2zM113 133h2v2h-2zM135 133h2v2h-2zM145 133h2v2h-2zM179 133h4v2h-4zM53 135h2v2h-2zM67 135h4v2h-4zM75 135h2v2h-2zM89 135h2v2h-2zM111 135h2v2h-2zM123 135h2v2h-2zM133 135h2v2h-2zM49 137h2v2h-2zM59 137h2v2h-2zM75 137h2v2h-2zM93 137h2v2h-2zM193 137h2v2h-2zM211 137h2v2h-2zM67 139h2v2h-2zM81 139h2v2h-2zM141 139h2v2h-2zM149 139h2v2h-2zM187 139h2v2h-2zM51 141h4v2h-4zM77 141h2v2h-2zM89 141h2v2h-2zM163 141h2v2h-2zM189 141h2v2h-2zM195 141h2v2h-2zM27 143h2v2h-2zM97 143h2v2h-2zM131 143h2v2h-2zM187 143h2v2h-2zM211 143h2v2h-2zM15 145h2v2h-2zM33 145h2v2h-2zM37 145h2v2h-2zM165 145h2v2h-2zM29 147h2v2h-2zM63 147h2v2h-2zM79 147h2v2h-2zM115 147h2v2h-2zM183 147h2v2h-2zM187 147h2v2h-2zM195 147h2v2h-2zM27 149h2v2h-2zM63 149h4v2h-4zM95 149h2v2h-2zM101 149h2v2h-2zM163 149h2v2h-2zM185 149h2v2h-2zM25 151h2v2h-2zM31 151h2v2h-2zM61 151h2v2h-2zM81 151h2v2h-2zM169 151h2v2h-2zM177 151h2v2h-2zM181 151h2v2h-2zM41 153h2v2h-2zM51 153h2v2h-2zM57 153h2v2h-2zM101 153h2v2h-2zM165 153h2v2h-2zM179 153h2v2h-2zM17 155h2v2h-2zM67 155h4v2h-4zM79 155h2v2h-2zM111 155h2v2h-2zM123 155h2v2h-2zM145 155h2v2h-2zM177 155h2v2h-2zM213 155h2v2h-2zM45 157h2v2h-2zM67 157h2v2h-2zM87 157h2v2h-2zM197 157h2v2h-2zM209 157h2v2h-2zM45 159h2v2h-2zM55 159h2v2h-2zM77 159h2v2h-2zM81 159h2v2h-2zM157 159h2v2h-2zM169 159h2v2h-2zM197 159h2v2h-2zM17 161h2v2h-2zM23 161h2v2h-2zM41 161h2v2h-2zM71 161h2v2h-2zM89 161h2v2h-2zM105 161h2v2h-2zM209 161h2v2h-2zM97 163h4v2h-4zM117 163h2v2h-2zM139 163h2v2h-2zM155 163h2v2h-2zM169 163h2v2h-2zM173 163h2v2h-2zM207 163h2v2h-2zM213 163h2v2h-2zM47 165h2v2h-2zM75 165h2v2h-2zM137 165h2v2h-2zM141 165h2v2h-2zM167 165h2v2h-2zM189 165h4v2h-4zM199 165h2v2h-2zM203 165h2v2h-2zM27 167h2v2h-2zM35 167h2v2h-2zM47 167h2v2h-2zM75 167h2v2h-2zM99 167h2v2h-2zM111 167h2v2h-2zM161 167h2v2h-2zM167 167h2v2h-2zM181 167h2v2h-2zM189 167h2v2h-2zM205 167h4v2h-4zM21 169h2v2h-2zM67 169h4v2h-4zM81 169h2v2h-2zM133 169h2v2h-2zM139 169h2v2h-2zM179 169h2v2h-2zM183 169h2v2h-2zM193 169h2v2h-2zM203 169h2v2h-2zM17 171h2v2h-2zM35 171h2v2h-2zM53 171h2v2h-2zM65 171h2v2h-2zM69 171h2v2h-2zM81 171h2v2h-2zM135 171h2v2h-2zM141 171h2v2h-2zM165 171h2v2h-2zM23 173h2v2h-2zM49 173h2v2h-2zM83 173h2v2h-2zM17 175h2v2h-2zM45 175h2v2h-2zM49 175h2v2h-2zM77 175h2v2h-2zM135 175h2v2h-2zM141 175h2v2h-2zM145 175h2v2h-2zM159 175h2v2h-2zM177 175h2v2h-2zM185 175h2v2h-2zM213 175h2v2h-2zM17 177h2v2h-2zM63 177h2v2h-2zM79 177h2v2h-2zM111 177h2v2h-2zM121 177h2v2h-2zM137 177h2v2h-2zM147 177h2v2h-2zM173 177h2v2h-2zM187 177h2v2h-2zM55 179h2v2h-2zM73 179h2v2h-2zM105 179h4v2h-4zM139 179h2v2h-2zM161 179h2v2h-2zM197 179h2v2h-2zM19 181h2v2h-2zM63 181h2v2h-2zM127 181h4v2h-4zM137 181h2v2h-2zM155 181h2v2h-2zM163 181h2v2h-2zM19 183h2v2h-2zM25 183h2v2h-2zM35 183h4v2h-4zM53 183h2v2h-2zM69 183h2v2h-2zM87 183h2v2h-2zM113 183h4v2h-4zM161 183h2v2h-2zM169 183h2v2h-2zM205 183h2v2h-2zM77 185h2v2h-2zM83 185h2v2h-2zM101 185h2v2h-2zM113 185h2v2h-2zM155 185h2v2h-2zM163 185h2v2h-2zM15 187h2v2h-2zM109 187h2v2h-2zM113 187h4v2h-4zM123 187h4v2h-4zM143 187h2v2h-2zM157 187h4v2h-4zM169 187h2v2h-2zM183 187h2v2h-2zM201 187h2v2h-2zM19 189h2v2h-2zM27 189h2v2h-2zM107 189h2v2h-2zM175 189h2v2h-2zM189 189h2v2h-2zM195 189h2v2h-2zM203 189h2v2h-2zM59 191h4v2h-4zM67 191h4v2h-4zM85 191h4v2h-4zM153 191h2v2h-2zM157 191h2v2h-2zM167 191h2v2h-2zM23 193h4v2h-4zM33 193h2v2h-2zM75 193h2v2h-2zM85 193h2v2h-2zM89 193h2v2h-2zM95 193h2v2h-2zM125 193h2v2h-2zM129 193h2v2h-2zM151 193h2v2h-2zM157 193h2v2h-2zM203 193h2v2h-2zM47 195h2v2h-2zM59 195h2v2h-2zM77 195h2v2h-2zM135 195h2v2h-2zM17 197h2v2h-2zM77 197h2v2h-2zM123 197h2v2h-2zM155 197h2v2h-2zM185 197h2v2h-2zM199 197h2v2h-2zM211 197h2v2h-2zM17 199h2v2h-2zM37 199h2v2h-2zM111 201h2v2h-2zM119 201h2v2h-2zM123 201h2v2h-2zM135 201h2v2h-2zM173 201h2v2h-2zM211 201h2v2h-2zM41 203h2v2h-2zM91 203h2v2h-2zM99 203h4v2h-4zM107 203h2v2h-2zM117 203h4v2h-4zM123 203h2v2h-2zM145 203h2v2h-2zM151 203h2v2h-2zM173 203h2v2h-2zM201 203h4v2h-4zM43 205h2v2h-2zM89 205h2v2h-2zM93 205h2v2h-2zM101 205h2v2h-2zM107 205h2v2h-2zM121 205h2v2h-2zM149 205h2v2h-2zM195 205h2v2h-2zM207 205h2v2h-2zM21 207h2v2h-2zM29 207h2v2h-2zM53 207h2v2h-2zM59 207h2v2h-2zM75 207h2v2h-2zM121 207h2v2h-2zM135 207h2v2h-2zM147 207h2v2h-2zM157 207h2v2h-2zM181 207h2v2h-2zM207 207h4v2h-4zM35 209h2v2h-2zM55 209h2v2h-2zM73 209h2v2h-2zM81 209h2v2h-2zM97 209h2v2h-2zM103 209h2v2h-2zM121 209h2v2h-2zM131 209h2v2h-2zM163 209h2v2h-2zM197 209h2v2h-2zM205 209h2v2h-2zM65 211h4v2h-4zM81 211h2v2h-2zM85 211h2v2h-2zM149 211h2v2h-2zM155 211h2v2h-2zM169 211h2v2h-2zM201 211h4v2h-4zM33 213h2v2h-2zM93 213h2v2h-2zM213 213h2v2h-2zM17 215h2v2h-2zM31 215h2v2h-2zM37 215h2v2h-2zM85 215h2v2h-2zM89 215h2v2h-2zM99 215h4v2h-4zM121 215h2v2h-2zM133 215h2v2h-2zM163 215h2v2h-2zM197 215h2v2h-2zM201 215h2v2h-2zM17 217h2v2h-2zM51 217h2v2h-2zM75 217h4v2h-4zM83 217h2v2h-2zM95 217h2v2h-2zM107 217h2v2h-2zM115 217h2v2h-2zM157 217h2v2h-2zM179 217h2v2h-2zM187 217h2v2h-2zM207 217h2v2h-2zM213 217h2v2h-2zM17 219h2v2h-2zM75 219h4v2h-4zM169 219h2v2h-2zM183 219h2v2h-2zM189 219h2v2h-2zM41 221h2v2h-2zM71 221h2v2h-2zM89 221h2v2h-2zM103 221h2v2h-2zM115 221h2v2h-2zM147 221h2v2h-2zM177 221h2v2h-2zM183 221h2v2h-2zM59 223h4v2h-4zM83 223h2v2h-2zM145 223h2v2h-2zM157 223h2v2h-2zM163 223h2v2h-2zM29 225h2v2h-2zM33 225h2v2h-2zM53 225h2v2h-2zM61 225h2v2h-2zM103 225h2v2h-2zM159 225h2v2h-2zM163 225h2v2h-2zM47 227h2v2h-2zM61 227h2v2h-2zM83 227h2v2h-2zM109 227h2v2h-2zM113 227h2v2h-2zM157 227h2v2h-2zM161 227h2v2h-2zM173 227h2v2h-2zM185 227h2v2h-2zM193 227h4v2h-4zM61 229h2v2h-2zM81 229h2v2h-2zM93 229h2v2h-2zM105 229h2v2h-2zM113 229h2v2h-2zM123 229h2v2h-2zM149 229h2v2h-2zM159 229h2v2h-2zM183 229h2v2h-2zM191 229h2v2h-2zM47 231h2v2h-2zM57 231h2v2h-2zM83 231h2v2h-2zM121 231h2v2h-2zM139 231h4v2h-4zM157 231h2v2h-2zM181 231h2v2h-2zM187 231h2v2h-2zM203 231h2v2h-2zM55 233h4v2h-4zM63 233h2v2h-2zM71 233h2v2h-2zM79 233h2v2h-2zM83 233h2v2h-2zM95 233h2v2h-2zM99 233h2v2h-2zM105 233h2v2h-2zM117 233h2v2h-2zM125 233h2v2h-2zM129 233h2v2h-2zM143 233h2v2h-2zM177 233h2v2h-2zM187 233h2v2h-2zM197 233h2v2h-2zM205 233h4v2h-4z"/>
<path fill="#10b066" d="M189 35h2v2h-2zM19 39h2v2h-2zM23 39h4v2h-4zM41 39h2v2h-2zM127 39h2v2h-2zM37 41h2v2h-2zM21 43h2v2h-2zM29 43h2v2h-2zM33 43h2v2h-2zM31 45h2v2h-2zM103 45h2v2h-2zM43 47h2v2h-2zM111 47h2v2h-2zM143 47h2v2h-2zM19 49h2v2h-2zM31 49h2v2h-2zM53 49h2v2h-2zM15 51h4v2h-4zM25 53h2v2h-2zM23 55h2v2h-2zM87 55h2v2h-2zM25 57h2v2h-2zM31 57h2v2h-2zM23 59h2v2h-2zM33 59h2v2h-2zM37 59h2v2h-2zM49 59h2v2h-2zM23 61h2v2h-2zM29 61h2v2h-2zM35 61h2v2h-2zM29 63h2v2h-2zM47 65h2v2h-2zM187 65h2v2h-2zM35 67h2v2h-2zM17 69h4v2h-4zM31 69h2v2h-2zM137 69h2v2h-2zM25 71h2v2h-2zM127 71h2v2h-2zM205 71h2v2h-2zM27 75h2v2h-2zM33 75h2v2h-2zM17 79h2v2h-2zM23 79h2v2h-2zM33 79h2v2h-2zM43 79h2v2h-2zM133 79h2v2h-2zM21 81h2v2h-2zM31 81h2v2h-2zM43 83h2v2h-2zM133 85h2v2h-2zM89 91h2v2h-2zM61 93h2v2h-2zM49 95h2v2h-2zM43 99h2v2h-2zM57 99h2v2h-2zM61 99h2v2h-2zM59 101h2v2h-2zM117 101h2v2h-2zM169 101h2v2h-2zM47 103h2v2h-2zM163 103h2v2h-2zM145 105h4v2h-4zM171 105h2v2h-2zM145 107h2v2h-2zM39 111h2v2h-2zM89 113h2v2h-2zM83 117h2v2h-2zM51 123h2v2h-2zM93 129h2v2h-2zM87 131h2v2h-2zM71 135h2v2h-2zM197 135h2v2h-2zM101 137h2v2h-2zM19 139h2v2h-2zM91 141h2v2h-2zM213 141h2v2h-2zM91 145h2v2h-2zM95 145h2v2h-2zM209 147h4v2h-4zM89 149h2v2h-2zM87 151h2v2h-2zM93 151h2v2h-2zM199 153h2v2h-2zM207 155h6v2h-6zM15 157h2v2h-2zM73 157h2v2h-2zM173 159h2v2h-2zM125 171h2v2h-2zM63 175h2v2h-2zM69 179h2v2h-2zM209 181h2v2h-2zM187 183h2v2h-2zM69 185h2v2h-2zM203 187h2v2h-2zM35 191h2v2h-2zM119 193h2v2h-2zM177 193h2v2h-2zM101 195h2v2h-2zM185 203h2v2h-2zM33 205h2v2h-2zM101 207h2v2h-2zM37 213h2v2h-2zM47 213h2v2h-2zM103 219h2v2h-2zM67 223h2v2h-2zM105 227h2v2h-2z"/>
<path fill="#33e527" d="M205 35h2v2h-2zM33 37h2v2h-2zM97 37h2v2h-2zM175 37h2v2h-2zM97 39h2v2h-2zM103 39h2v2h-2zM143 39h2v2h-2zM165 39h2v2h-2zM185 39h2v2h-2zM27 41h2v2h-2zM87 41h2v2h-2zM23 43h2v2h-2zM129 43h2v2h-2zM133 43h2v2h-2zM157 43h2v2h-2zM163 43h2v2h-2zM179 43h4v2h-4zM93 45h2v2h-2zM127 45h2v2h-2zM155 45h2v2h-2zM185 45h2v2h-2zM209 45h2v2h-2zM97 47h2v2h-2zM123 47h2v2h-2zM191 47h2v2h-2zM23 49h4v2h-4zM61 49h2v2h-2zM95 49h2v2h-2zM111 49h2v2h-2zM175 49h2v2h-2zM185 49h2v2h-2zM205 49h6v2h-6zM101 51h2v2h-2zM123 51h2v2h-2zM177 51h2v2h-2zM17 53h2v2h-2zM51 53h2v2h-2zM141 53h2v2h-2zM171 53h2v2h-2zM181 53h2v2h-2zM187 53h2v2h-2zM191 53h4v2h-4zM43 55h2v2h-2zM81 55h2v2h-2zM143 55h2v2h-2zM147 55h4v2h-4zM171 55h4v2h-4zM185 55h2v2h-2zM45 57h2v2h-2zM117 57h2v2h-2zM135 57h2v2h-2zM149 57h2v2h-2zM165 57h2v2h-2zM189 57h2v2h-2zM53 59h2v2h-2zM85 59h2v2h-2zM109 59h2v2h-2zM133 59h2v2h-2zM143 59h2v2h-2zM189 59h2v2h-2zM199 59h2v2h-2zM117 61h2v2h-2zM129 61h2v2h-2zM139 61h2v2h-2zM143 61h2v2h-2zM147 61h2v2h-2zM213 61h2v2h-2zM31 63h2v2h-2zM213 63h2v2h-2zM91 65h2v2h-2zM125 65h2v2h-2zM135 65h2v2h-2zM159 65h2v2h-2zM171 65h2v2h-2zM175 65h2v2h-2zM183 65h2v2h-2zM17 67h2v2h-2zM37 67h2v2h-2zM89 67h2v2h-2zM97 67h2v2h-2zM161 67h4v2h-4zM187 67h2v2h-2zM47 69h2v2h-2zM71 69h2v2h-2zM111 69h2v2h-2zM181 69h2v2h-2zM191 69h2v2h-2zM197 69h2v2h-2zM111 71h2v2h-2zM137 71h2v2h-2zM147 71h2v2h-2zM155 71h2v2h-2zM163 71h2v2h-2zM181 71h2v2h-2zM209 71h2v2h-2zM213 71h2v2h-2zM55 73h2v2h-2zM101 73h2v2h-2zM117 73h2v2h-2zM141 73h2v2h-2zM159 73h2v2h-2zM19 75h2v2h-2zM23 75h2v2h-2zM65 75h2v2h-2zM89 75h4v2h-4zM137 75h2v2h-2zM153 75h4v2h-4zM177 75h2v2h-2zM211 75h2v2h-2zM65 77h2v2h-2zM157 77h2v2h-2zM37 79h2v2h-2zM67 79h2v2h-2zM115 79h2v2h-2zM131 79h2v2h-2zM169 79h2v2h-2zM175 79h6v2h-6zM185 79h2v2h-2zM189 79h2v2h-2zM37 81h2v2h-2zM53 81h2v2h-2zM63 81h2v2h-2zM85 81h4v2h-4zM125 81h2v2h-2zM131 81h2v2h-2zM155 81h2v2h-2zM29 83h4v2h-4zM117 83h2v2h-2zM125 83h4v2h-4zM153 83h4v2h-4zM161 83h2v2h-2zM195 83h2v2h-2zM199 83h2v2h-2zM205 83h2v2h-2zM23 85h4v2h-4zM41 85h4v2h-4zM57 85h2v2h-2zM71 85h2v2h-2zM77 85h2v2h-2zM137 85h2v2h-2zM195 85h2v2h-2zM199 85h2v2h-2zM21 87h2v2h-2zM25 87h2v2h-2zM35 87h2v2h-2zM73 87h2v2h-2zM99 87h2v2h-2zM123 87h2v2h-2zM175 87h2v2h-2zM19 89h2v2h-2zM33 89h2v2h-2zM65 89h2v2h-2zM81 89h2v2h-2zM89 89h2v2h-2zM139 89h4v2h-4zM149 89h2v2h-2zM189 89h2v2h-2zM15 91h2v2h-2zM55 91h2v2h-2zM69 91h2v2h-2zM117 91h2v2h-2zM155 91h2v2h-2zM179 91h2v2h-2zM185 91h2v2h-2zM19 93h2v2h-2zM43 93h2v2h-2zM69 93h2v2h-2zM117 93h4v2h-4zM125 93h2v2h-2zM135 93h2v2h-2zM175 93h2v2h-2zM201 93h2v2h-2zM29 95h2v2h-2zM93 95h2v2h-2zM125 95h2v2h-2zM131 95h2v2h-2zM149 95h2v2h-2zM23 97h2v2h-2zM55 97h2v2h-2zM65 97h2v2h-2zM111 97h2v2h-2zM149 97h2v2h-2zM197 97h2v2h-2zM203 97h2v2h-2zM211 97h2v2h-2zM25 99h2v2h-2zM51 99h2v2h-2zM63 99h2v2h-2zM79 99h2v2h-2zM85 99h4v2h-4zM93 99h2v2h-2zM105 99h2v2h-2zM33 101h2v2h-2zM61 101h2v2h-2zM73 101h2v2h-2zM87 101h2v2h-2zM157 101h2v2h-2zM179 101h2v2h-2zM203 101h2v2h-2zM15 103h2v2h-2zM41 103h4v2h-4zM61 103h2v2h-2zM69 103h2v2h-2zM109 103h2v2h-2zM173 103h2v2h-2zM195 103h2v2h-2zM213 103h2v2h-2zM19 105h2v2h-2zM89 105h2v2h-2zM95 105h2v2h-2zM101 105h2v2h-2zM113 105h6v2h-6zM179 105h2v2h-2zM189 105h2v2h-2zM39 107h2v2h-2zM79 107h2v2h-2zM89 107h2v2h-2zM123 107h2v2h-2zM149 107h2v2h-2zM165 107h2v2h-2zM179 107h4v2h-4zM201 107h2v2h-2zM43 109h2v2h-2zM99 109h4v2h-4zM177 109h2v2h-2zM213 109h2v2h-2zM25 111h2v2h-2zM51 111h2v2h-2zM65 111h2v2h-2zM95 111h2v2h-2zM103 111h2v2h-2zM135 111h2v2h-2zM179 111h2v2h-2zM195 111h2v2h-2zM211 111h2v2h-2zM41 113h2v2h-2zM81 113h2v2h-2zM121 113h2v2h-2zM135 113h4v2h-4zM189 113h2v2h-2zM211 113h2v2h-2zM21 115h2v2h-2zM29 115h2v2h-2zM43 115h2v2h-2zM61 115h2v2h-2zM77 115h2v2h-2zM163 115h2v2h-2zM33 117h2v2h-2zM69 117h2v2h-2zM119 117h2v2h-2zM123 117h2v2h-2zM199 117h4v2h-4zM45 119h2v2h-2zM59 119h2v2h-2zM73 119h4v2h-4zM167 119h2v2h-2zM181 119h2v2h-2zM203 119h2v2h-2zM15 121h2v2h-2zM23 121h2v2h-2zM51 121h2v2h-2zM61 121h2v2h-2zM79 121h2v2h-2zM83 121h2v2h-2zM113 121h2v2h-2zM175 121h2v2h-2zM17 123h2v2h-2zM35 123h2v2h-2zM49 123h2v2h-2zM113 123h2v2h-2zM147 123h2v2h-2zM163 123h2v2h-2zM175 123h2v2h-2zM193 123h4v2h-4zM15 125h2v2h-2zM57 125h2v2h-2zM79 125h2v2h-2zM91 125h2v2h-2zM103 125h2v2h-2zM107 125h2v2h-2zM185 125h4v2h-4zM207 125h2v2h-2zM213 125h2v2h-2zM61 127h2v2h-2zM67 127h2v2h-2zM79 127h2v2h-2zM179 127h4v2h-4zM201 127h4v2h-4zM15 129h2v2h-2zM29 129h2v2h-2zM35 129h2v2h-2zM39 129h2v2h-2zM59 129h2v2h-2zM87 129h2v2h-2zM103 129h2v2h-2zM111 129h2v2h-2zM119 129h2v2h-2zM145 129h4v2h-4zM195 129h2v2h-2zM209 129h2v2h-2zM15 131h2v2h-2zM29 131h2v2h-2zM37 131h2v2h-2zM61 131h2v2h-2zM97 131h2v2h-2zM111 131h2v2h-2zM121 131h2v2h-2zM171 131h2v2h-2zM175 131h2v2h-2zM185 131h2v2h-2zM193 131h2v2h-2zM201 131h2v2h-2zM41 133h4v2h-4zM63 133h2v2h-2zM67 133h2v2h-2zM73 133h2v2h-2zM91 133h2v2h-2zM149 133h2v2h-2zM167 133h4v2h-4zM201 133h2v2h-2zM207 133h2v2h-2zM213 133h2v2h-2zM117 135h2v2h-2zM175 135h2v2h-2zM195 135h2v2h-2zM205 135h2v2h-2zM37 137h2v2h-2zM67 137h2v2h-2zM77 137h4v2h-4zM123 137h2v2h-2zM143 137h2v2h-2zM159 137h2v2h-2zM163 137h2v2h-2zM173 137h2v2h-2zM185 137h4v2h-4zM17 139h2v2h-2zM33 139h2v2h-2zM57 139h2v2h-2zM69 139h2v2h-2zM83 139h2v2h-2zM193 139h2v2h-2zM203 139h2v2h-2zM63 141h2v2h-2zM85 141h2v2h-2zM93 141h2v2h-2zM185 141h4v2h-4zM55 143h2v2h-2zM63 143h4v2h-4zM87 143h2v2h-2zM133 143h2v2h-2zM151 143h2v2h-2zM175 143h2v2h-2zM179 143h8v2h-8zM203 143h2v2h-2zM23 145h4v2h-4zM39 145h2v2h-2zM49 145h2v2h-2zM65 145h2v2h-2zM81 145h2v2h-2zM89 145h2v2h-2zM147 145h2v2h-2zM181 145h2v2h-2zM23 147h2v2h-2zM27 147h2v2h-2zM41 147h2v2h-2zM45 147h2v2h-2zM67 147h2v2h-2zM85 147h2v2h-2zM95 147h2v2h-2zM123 147h2v2h-2zM151 147h2v2h-2zM159 147h2v2h-2zM175 147h2v2h-2zM207 147h2v2h-2zM213 147h2v2h-2zM57 149h4v2h-4zM149 149h2v2h-2zM211 149h2v2h-2zM33 151h2v2h-2zM57 151h2v2h-2zM89 151h2v2h-2zM131 151h2v2h-2zM155 151h2v2h-2zM165 151h2v2h-2zM195 151h2v2h-2zM173 153h2v2h-2zM37 155h2v2h-2zM55 155h2v2h-2zM81 155h2v2h-2zM87 155h2v2h-2zM103 155h2v2h-2zM203 155h2v2h-2zM49 157h4v2h-4zM71 157h2v2h-2zM103 157h2v2h-2zM119 157h2v2h-2zM145 157h2v2h-2zM157 157h2v2h-2zM165 157h2v2h-2zM213 157h2v2h-2zM37 159h2v2h-2zM41 159h2v2h-2zM59 159h2v2h-2zM63 159h2v2h-2zM71 159h4v2h-4zM89 159h2v2h-2zM101 159h2v2h-2zM129 159h2v2h-2zM133 159h2v2h-2zM213 159h2v2h-2zM31 161h2v2h-2zM35 161h2v2h-2zM103 161h2v2h-2zM199 161h2v2h-2zM77 163h2v2h-2zM83 163h2v2h-2zM101 163h2v2h-2zM119 163h2v2h-2zM141 163h2v2h-2zM151 163h2v2h-2zM163 163h4v2h-4zM197 163h2v2h-2zM201 163h4v2h-4zM101 165h2v2h-2zM107 165h2v2h-2zM143 165h2v2h-2zM207 165h2v2h-2zM17 167h2v2h-2zM55 167h2v2h-2zM81 167h2v2h-2zM135 167h2v2h-2zM159 167h2v2h-2zM179 167h2v2h-2zM39 169h4v2h-4zM47 169h2v2h-2zM137 169h2v2h-2zM157 169h2v2h-2zM181 169h2v2h-2zM191 169h2v2h-2zM195 169h2v2h-2zM211 169h2v2h-2zM23 171h2v2h-2zM43 171h2v2h-2zM97 171h2v2h-2zM145 171h2v2h-2zM177 171h2v2h-2zM193 171h2v2h-2zM205 171h2v2h-2zM33 173h2v2h-2zM39 173h2v2h-2zM77 173h4v2h-4zM93 173h2v2h-2zM97 173h2v2h-2zM109 173h4v2h-4zM149 173h2v2h-2zM155 173h2v2h-2zM191 173h2v2h-2zM205 173h2v2h-2zM19 175h2v2h-2zM25 175h2v2h-2zM47 175h2v2h-2zM83 175h4v2h-4zM125 175h2v2h-2zM155 175h2v2h-2zM209 175h2v2h-2zM45 177h2v2h-2zM95 177h2v2h-2zM143 177h2v2h-2zM163 177h2v2h-2zM167 177h2v2h-2zM183 177h2v2h-2zM17 179h2v2h-2zM23 179h2v2h-2zM27 179h2v2h-2zM39 179h4v2h-4zM51 179h2v2h-2zM81 179h4v2h-4zM103 179h2v2h-2zM109 179h2v2h-2zM135 179h2v2h-2zM185 179h2v2h-2zM189 179h2v2h-2zM39 181h2v2h-2zM107 181h2v2h-2zM111 181h2v2h-2zM139 181h2v2h-2zM145 181h2v2h-2zM157 181h2v2h-2zM169 181h2v2h-2zM41 183h2v2h-2zM79 183h2v2h-2zM127 183h2v2h-2zM213 183h2v2h-2zM17 185h2v2h-2zM81 185h2v2h-2zM23 187h4v2h-4zM69 187h2v2h-2zM83 187h2v2h-2zM163 187h2v2h-2zM179 187h2v2h-2zM193 187h2v2h-2zM35 189h2v2h-2zM41 189h2v2h-2zM67 189h2v2h-2zM87 189h6v2h-6zM103 189h2v2h-2zM115 189h2v2h-2zM183 189h2v2h-2zM193 189h2v2h-2zM197 189h2v2h-2zM201 189h2v2h-2zM29 191h2v2h-2zM53 191h2v2h-2zM65 191h2v2h-2zM71 191h2v2h-2zM83 191h2v2h-2zM91 191h2v2h-2zM99 191h2v2h-2zM111 191h2v2h-2zM163 191h2v2h-2zM185 191h2v2h-2zM61 193h2v2h-2zM65 193h2v2h-2zM69 193h4v2h-4zM159 193h2v2h-2zM181 193h2v2h-2zM185 193h2v2h-2zM189 193h2v2h-2zM213 193h2v2h-2zM31 195h4v2h-4zM71 195h2v2h-2zM159 195h2v2h-2zM189 195h2v2h-2zM205 195h2v2h-2zM15 197h2v2h-2zM39 197h2v2h-2zM79 197h2v2h-2zM99 197h2v2h-2zM133 197h4v2h-4zM83 199h2v2h-2zM109 199h2v2h-2zM189 199h2v2h-2zM57 201h2v2h-2zM105 201h2v2h-2zM109 201h2v2h-2zM125 201h2v2h-2zM147 201h2v2h-2zM151 201h2v2h-2zM155 201h4v2h-4zM189 201h4v2h-4zM17 203h4v2h-4zM53 203h2v2h-2zM93 203h2v2h-2zM131 203h4v2h-4zM177 203h4v2h-4zM211 203h2v2h-2zM15 205h2v2h-2zM21 205h4v2h-4zM45 205h2v2h-2zM49 205h2v2h-2zM67 205h2v2h-2zM73 205h2v2h-2zM117 205h2v2h-2zM139 205h2v2h-2zM177 205h2v2h-2zM15 207h2v2h-2zM47 207h2v2h-2zM51 207h2v2h-2zM103 207h4v2h-4zM125 207h2v2h-2zM179 207h2v2h-2zM203 207h2v2h-2zM33 209h2v2h-2zM93 209h4v2h-4zM113 209h2v2h-2zM171 209h2v2h-2zM195 209h2v2h-2zM209 209h2v2h-2zM15 211h2v2h-2zM23 211h2v2h-2zM111 211h2v2h-2zM115 211h2v2h-2zM133 211h2v2h-2zM15 213h4v2h-4zM51 213h2v2h-2zM139 213h2v2h-2zM143 213h2v2h-2zM147 213h2v2h-2zM151 213h2v2h-2zM193 213h2v2h-2zM203 213h4v2h-4zM53 215h2v2h-2zM107 215h2v2h-2zM149 215h2v2h-2zM155 215h2v2h-2zM181 215h2v2h-2zM185 215h2v2h-2zM45 217h2v2h-2zM99 217h2v2h-2zM173 217h2v2h-2zM191 217h2v2h-2zM197 217h2v2h-2zM201 217h4v2h-4zM25 219h2v2h-2zM49 219h2v2h-2zM57 219h2v2h-2zM163 219h2v2h-2zM209 219h2v2h-2zM29 221h2v2h-2zM57 221h2v2h-2zM73 221h2v2h-2zM81 221h2v2h-2zM111 221h2v2h-2zM149 221h2v2h-2zM179 221h2v2h-2zM35 223h2v2h-2zM49 223h2v2h-2zM79 223h2v2h-2zM125 223h2v2h-2zM143 223h2v2h-2zM159 223h2v2h-2zM165 223h2v2h-2zM175 223h2v2h-2zM181 223h2v2h-2zM189 223h2v2h-2zM199 223h4v2h-4zM213 223h2v2h-2zM55 225h2v2h-2zM65 225h2v2h-2zM79 225h2v2h-2zM87 225h4v2h-4zM99 225h2v2h-2zM109 225h4v2h-4zM129 225h2v2h-2zM145 225h4v2h-4zM33 227h2v2h-2zM55 227h2v2h-2zM67 227h2v2h-2zM91 227h2v2h-2zM117 227h2v2h-2zM187 227h2v2h-2zM209 227h2v2h-2zM59 229h2v2h-2zM85 229h2v2h-2zM147 229h2v2h-2zM161 229h8v2h-8zM171 229h2v2h-2zM199 229h2v2h-2zM17 231h2v2h-2zM29 231h2v2h-2zM55 231h2v2h-2zM59 231h2v2h-2zM75 231h2v2h-2zM105 231h2v2h-2zM131 231h2v2h-2zM183 231h2v2h-2zM191 231h2v2h-2zM51 233h2v2h-2zM75 233h2v2h-2zM103 233h2v2h-2zM109 233h2v2h-2zM119 233h2v2h-2zM149 233h2v2h-2zM159 233h2v2h-2zM175 233h2v2h-2zM189 233h6v2h-6z"/>
<path fill="#b0cce4" d="M209 35h2v2h-2zM81 37h2v2h-2zM49 39h2v2h-2zM57 39h2v2h-2zM55 41h2v2h-2zM139 41h4v2h-4zM197 41h2v2h-2zM45 43h4v2h-4zM71 43h2v2h-2zM87 43h2v2h-2zM115 43h2v2h-2zM137 43h2v2h-2zM67 45h2v2h-2zM85 45h2v2h-2zM179 45h2v2h-2zM203 45h2v2h-2zM65 47h2v2h-2zM85 47h2v2h-2zM89 47h2v2h-2zM159 47h2v2h-2zM87 49h2v2h-2zM107 49h2v2h-2zM165 49h2v2h-2zM171 49h2v2h-2zM179 49h2v2h-2zM39 51h2v2h-2zM61 51h2v2h-2zM69 51h2v2h-2zM161 51h2v2h-2zM21 53h2v2h-2zM75 53h2v2h-2zM87 53h2v2h-2zM93 53h2v2h-2zM117 53h2v2h-2zM131 53h2v2h-2zM153 53h2v2h-2zM51 55h2v2h-2zM105 55h2v2h-2zM139 55h2v2h-2zM203 55h2v2h-2zM47 57h2v2h-2zM175 57h2v2h-2zM207 57h2v2h-2zM93 59h2v2h-2zM177 59h2v2h-2zM85 61h4v2h-4zM177 61h2v2h-2zM89 63h2v2h-2zM103 65h2v2h-2zM179 65h2v2h-2zM129 67h2v2h-2zM127 69h6v2h-6zM79 71h2v2h-2zM187 73h2v2h-2zM187 75h2v2h-2zM91 77h4v2h-4zM163 77h2v2h-2zM183 77h2v2h-2zM89 79h2v2h-2zM179 81h2v2h-2zM191 81h2v2h-2zM115 83h2v2h-2zM191 83h2v2h-2zM113 85h4v2h-4zM161 85h2v2h-2zM193 87h2v2h-2zM39 89h2v2h-2zM125 89h2v2h-2zM157 89h2v2h-2zM165 89h2v2h-2zM209 89h2v2h-2zM53 91h2v2h-2zM159 93h2v2h-2zM191 93h2v2h-2zM205 93h2v2h-2zM145 95h4v2h-4zM151 95h2v2h-2zM163 95h2v2h-2zM161 99h2v2h-2zM171 107h2v2h-2zM177 107h2v2h-2zM39 109h2v2h-2zM75 109h2v2h-2zM115 109h2v2h-2zM191 109h2v2h-2zM199 109h2v2h-2zM35 111h2v2h-2zM19 113h2v2h-2zM35 113h4v2h-4zM59 113h2v2h-2zM129 113h2v2h-2zM139 113h2v2h-2zM159 113h2v2h-2zM183 113h2v2h-2zM199 113h2v2h-2zM67 115h2v2h-2zM91 115h2v2h-2zM183 115h2v2h-2zM41 119h2v2h-2zM99 119h2v2h-2zM37 121h2v2h-2zM209 121h2v2h-2zM47 123h2v2h-2zM131 123h2v2h-2zM73 125h2v2h-2zM121 125h2v2h-2zM131 125h2v2h-2zM69 127h2v2h-2zM23 129h2v2h-2zM101 131h4v2h-4zM161 131h2v2h-2zM167 131h2v2h-2zM81 133h2v2h-2zM97 133h4v2h-4zM97 135h2v2h-2zM143 135h2v2h-2zM179 135h2v2h-2zM183 137h2v2h-2zM43 139h2v2h-2zM79 139h2v2h-2zM139 139h2v2h-2zM151 139h4v2h-4zM183 139h2v2h-2zM17 141h2v2h-2zM43 141h2v2h-2zM87 141h2v2h-2zM99 141h2v2h-2zM115 141h2v2h-2zM135 141h2v2h-2zM143 141h2v2h-2zM21 143h2v2h-2zM43 143h4v2h-4zM57 143h2v2h-2zM75 143h2v2h-2zM121 143h2v2h-2zM59 145h2v2h-2zM59 147h2v2h-2zM113 147h2v2h-2zM135 147h2v2h-2zM113 149h2v2h-2zM125 149h4v2h-4zM195 149h2v2h-2zM115 151h2v2h-2zM203 151h2v2h-2zM29 153h4v2h-4zM35 153h2v2h-2zM75 153h2v2h-2zM189 153h2v2h-2zM207 153h2v2h-2zM29 155h2v2h-2zM75 155h4v2h-4zM185 155h2v2h-2zM189 155h2v2h-2zM177 157h2v2h-2zM185 157h2v2h-2zM175 159h4v2h-4zM181 159h2v2h-2zM191 159h2v2h-2zM127 161h2v2h-2zM181 161h2v2h-2zM187 161h2v2h-2zM61 163h2v2h-2zM89 163h2v2h-2zM167 163h2v2h-2zM177 163h2v2h-2zM187 163h2v2h-2zM71 167h2v2h-2zM87 167h2v2h-2zM77 171h2v2h-2zM85 171h6v2h-6zM109 171h2v2h-2zM27 173h2v2h-2zM55 173h2v2h-2zM75 173h2v2h-2zM115 175h2v2h-2zM113 177h2v2h-2zM117 177h2v2h-2zM153 177h2v2h-2zM197 177h2v2h-2zM45 179h4v2h-4zM49 181h2v2h-2zM203 181h2v2h-2zM51 183h2v2h-2zM61 183h4v2h-4zM25 185h2v2h-2zM29 185h2v2h-2zM95 185h2v2h-2zM105 187h4v2h-4zM133 187h2v2h-2zM135 191h2v2h-2zM155 191h2v2h-2zM35 193h2v2h-2zM119 195h2v2h-2zM143 195h2v2h-2zM187 195h2v2h-2zM29 197h2v2h-2zM47 197h2v2h-2zM93 197h4v2h-4zM105 197h2v2h-2zM121 197h2v2h-2zM145 197h2v2h-2zM23 199h2v2h-2zM45 199h2v2h-2zM103 199h2v2h-2zM119 199h2v2h-2zM207 199h4v2h-4zM29 201h2v2h-2zM55 203h4v2h-4zM163 203h4v2h-4zM205 203h2v2h-2zM37 205h2v2h-2zM41 205h2v2h-2zM69 205h2v2h-2zM193 205h2v2h-2zM41 207h2v2h-2zM71 207h2v2h-2zM29 209h2v2h-2zM151 209h2v2h-2zM185 209h2v2h-2zM57 211h2v2h-2zM69 211h2v2h-2zM183 211h2v2h-2zM73 213h2v2h-2zM171 213h2v2h-2zM175 213h2v2h-2zM27 215h2v2h-2zM75 215h2v2h-2zM113 215h4v2h-4zM177 215h2v2h-2zM183 215h2v2h-2zM207 215h2v2h-2zM85 217h2v2h-2zM113 217h2v2h-2zM87 219h2v2h-2zM97 219h2v2h-2zM95 221h2v2h-2zM135 221h2v2h-2zM189 221h2v2h-2zM17 223h4v2h-4zM133 223h2v2h-2zM49 225h4v2h-4zM77 225h2v2h-2zM49 227h2v2h-2zM53 227h2v2h-2zM75 227h2v2h-2zM141 227h2v2h-2zM175 227h2v2h-2zM181 227h2v2h-2zM57 229h2v2h-2zM53 231h2v2h-2zM213 233h2v2h-2z"/>
<path fill="#6aa6cf" d="M213 35h2v2h-2zM123 37h2v2h-2zM167 37h2v2h-2zM15 39h2v2h-2zM137 41h2v2h-2zM211 41h2v2h-2zM77 49h2v2h-2zM35 53h2v2h-2zM109 53h2v2h-2zM15 55h2v2h-2zM55 55h2v2h-2zM203 57h2v2h-2zM25 69h2v2h-2zM53 71h2v2h-2zM183 75h2v2h-2zM165 77h2v2h-2zM29 79h2v2h-2zM161 79h2v2h-2zM143 83h2v2h-2zM157 83h2v2h-2zM187 83h2v2h-2zM81 87h2v2h-2zM169 87h2v2h-2zM163 89h2v2h-2zM193 89h2v2h-2zM143 91h2v2h-2zM171 91h2v2h-2zM143 93h2v2h-2zM117 95h2v2h-2zM191 95h2v2h-2zM129 103h2v2h-2zM99 105h2v2h-2zM57 107h2v2h-2zM57 109h2v2h-2zM153 109h2v2h-2zM93 111h2v2h-2zM161 111h2v2h-2zM143 115h2v2h-2zM97 121h2v2h-2zM45 127h2v2h-2zM119 127h2v2h-2zM199 127h2v2h-2zM47 131h2v2h-2zM203 133h2v2h-2zM15 137h2v2h-2zM47 137h2v2h-2zM179 139h2v2h-2zM119 141h2v2h-2zM193 145h2v2h-2zM57 147h2v2h-2zM33 155h2v2h-2zM47 155h2v2h-2zM59 155h2v2h-2zM197 155h2v2h-2zM115 157h2v2h-2zM51 159h2v2h-2zM97 159h2v2h-2zM87 165h4v2h-4zM23 169h2v2h-2zM71 171h2v2h-2zM117 173h2v2h-2zM119 177h2v2h-2zM167 179h2v2h-2zM165 181h2v2h-2zM191 185h2v2h-2zM37 193h2v2h-2zM113 193h2v2h-2zM205 199h2v2h-2zM211 199h2v2h-2zM23 201h2v2h-2zM45 201h2v2h-2zM209 203h2v2h-2zM103 211h2v2h-2zM175 211h2v2h-2zM189 211h2v2h-2zM59 213h2v2h-2zM71 213h2v2h-2zM135 213h2v2h-2zM177 213h2v2h-2zM69 215h2v2h-2zM105 217h2v2h-2zM39 221h2v2h-2zM193 221h2v2h-2zM93 223h2v2h-2zM167 223h2v2h-2zM37 225h2v2h-2zM71 225h2v2h-2zM97 225h2v2h-2zM125 225h2v2h-2zM73 227h2v2h-2zM203 227h2v2h-2zM61 233h2v2h-2zM199 233h2v2h-2z"/>
<path fill="#f5652c" d="M115 37h2v2h-2zM125 39h2v2h-2zM113 41h2v2h-2zM121 41h2v2h-2zM157 49h2v2h-2zM83 57h2v2h-2zM113 57h2v2h-2zM113 59h2v2h-2zM117 59h2v2h-2zM93 61h2v2h-2zM85 63h2v2h-2zM83 65h4v2h-4zM113 67h2v2h-2zM115 69h2v2h-2zM65 71h2v2h-2zM73 71h2v2h-2zM87 71h2v2h-2zM119 71h2v2h-2zM171 71h4v2h-4zM111 73h2v2h-2zM167 73h2v2h-2zM105 75h2v2h-2zM123 75h2v2h-2zM59 77h2v2h-2zM77 77h2v2h-2zM211 77h2v2h-2zM55 81h2v2h-2zM97 81h2v2h-2zM201 81h2v2h-2zM209 81h2v2h-2zM57 83h2v2h-2zM171 83h4v2h-4zM189 83h2v2h-2zM29 85h2v2h-2zM63 85h2v2h-2zM147 85h2v2h-2zM167 85h2v2h-2zM183 85h2v2h-2zM167 87h2v2h-2zM101 89h4v2h-4zM31 93h2v2h-2zM79 93h2v2h-2zM111 95h4v2h-4zM133 97h2v2h-2zM31 99h2v2h-2zM99 99h2v2h-2zM185 99h2v2h-2zM99 101h2v2h-2zM103 101h2v2h-2zM169 105h2v2h-2zM141 107h2v2h-2zM161 107h2v2h-2zM167 107h2v2h-2zM29 111h2v2h-2zM171 111h2v2h-2zM131 113h2v2h-2zM155 113h2v2h-2zM191 113h2v2h-2zM55 115h2v2h-2zM125 115h2v2h-2zM147 115h2v2h-2zM155 115h2v2h-2zM165 115h2v2h-2zM57 117h2v2h-2zM95 117h2v2h-2zM155 117h2v2h-2zM159 117h2v2h-2zM125 119h2v2h-2zM133 119h2v2h-2zM147 119h2v2h-2zM151 119h2v2h-2zM163 119h2v2h-2zM63 121h2v2h-2zM69 121h2v2h-2zM117 121h2v2h-2zM155 121h4v2h-4zM171 121h2v2h-2zM177 121h2v2h-2zM117 123h2v2h-2zM137 123h4v2h-4zM171 123h2v2h-2zM55 125h2v2h-2zM61 125h2v2h-2zM129 125h2v2h-2zM195 127h2v2h-2zM135 129h2v2h-2zM79 131h2v2h-2zM127 131h2v2h-2zM127 133h2v2h-2zM131 133h2v2h-2zM139 133h2v2h-2zM153 133h2v2h-2zM81 135h2v2h-2zM61 137h2v2h-2zM107 137h4v2h-4zM163 139h4v2h-4zM171 141h2v2h-2zM61 143h2v2h-2zM81 143h2v2h-2zM167 143h2v2h-2zM51 145h2v2h-2zM125 145h2v2h-2zM153 145h2v2h-2zM91 147h2v2h-2zM143 147h2v2h-2zM165 147h2v2h-2zM15 149h2v2h-2zM99 149h2v2h-2zM71 151h2v2h-2zM47 153h2v2h-2zM147 153h2v2h-2zM153 153h2v2h-2zM133 155h2v2h-2zM111 157h2v2h-2zM155 157h2v2h-2zM135 159h2v2h-2zM145 159h2v2h-2zM167 159h2v2h-2zM29 161h2v2h-2zM149 163h2v2h-2zM151 165h2v2h-2zM115 167h2v2h-2zM125 167h2v2h-2zM197 167h2v2h-2zM147 169h2v2h-2zM169 169h2v2h-2zM209 169h2v2h-2zM143 175h2v2h-2zM25 177h2v2h-2zM177 177h2v2h-2zM29 181h2v2h-2zM53 181h2v2h-2zM73 183h2v2h-2zM47 185h2v2h-2zM109 185h2v2h-2zM207 185h2v2h-2zM29 187h2v2h-2zM77 189h2v2h-2zM111 189h2v2h-2zM195 191h2v2h-2zM81 193h2v2h-2zM111 193h2v2h-2zM201 193h2v2h-2zM155 195h2v2h-2zM85 197h2v2h-2zM53 199h2v2h-2zM89 199h2v2h-2zM165 199h2v2h-2zM161 201h2v2h-2zM159 205h2v2h-2zM161 207h2v2h-2zM83 209h2v2h-2zM143 209h4v2h-4zM137 211h2v2h-2zM159 217h2v2h-2zM27 221h2v2h-2zM121 221h2v2h-2zM85 223h2v2h-2zM119 225h2v2h-2zM183 225h2v2h-2zM211 227h2v2h-2z"/>
<path fill="#0f9090" d="M159 37h2v2h-2zM31 39h2v2h-2zM37 39h2v2h-2zM173 39h2v2h-2zM39 41h2v2h-2zM41 43h2v2h-2zM41 45h2v2h-2zM93 47h2v2h-2zM21 51h2v2h-2zM29 51h2v2h-2zM147 53h2v2h-2zM27 55h2v2h-2zM37 55h2v2h-2zM83 55h2v2h-2zM35 57h2v2h-2zM21 59h2v2h-2zM31 59h2v2h-2zM39 59h4v2h-4zM27 61h2v2h-2zM31 61h2v2h-2zM41 61h2v2h-2zM47 61h2v2h-2zM25 63h2v2h-2zM37 63h2v2h-2zM21 65h2v2h-2zM33 65h4v2h-4zM61 65h2v2h-2zM29 67h2v2h-2zM51 67h2v2h-2zM15 69h2v2h-2zM37 69h2v2h-2zM15 71h2v2h-2zM29 71h2v2h-2zM33 71h2v2h-2zM205 73h2v2h-2zM35 75h4v2h-4zM15 77h2v2h-2zM33 77h4v2h-4zM129 79h2v2h-2zM17 81h2v2h-2zM41 81h2v2h-2zM115 91h2v2h-2zM157 93h2v2h-2zM189 93h2v2h-2zM43 95h2v2h-2zM39 97h2v2h-2zM47 99h2v2h-2zM177 99h2v2h-2zM167 103h4v2h-4zM87 107h2v2h-2zM47 113h2v2h-2zM87 113h2v2h-2zM65 115h2v2h-2zM197 117h2v2h-2zM87 119h4v2h-4zM95 123h2v2h-2zM51 125h2v2h-2zM19 127h2v2h-2zM83 133h2v2h-2zM87 133h2v2h-2zM93 133h2v2h-2zM111 133h2v2h-2zM205 133h2v2h-2zM103 137h2v2h-2zM91 139h2v2h-2zM95 139h2v2h-2zM107 143h2v2h-2zM189 143h2v2h-2zM213 143h2v2h-2zM93 145h2v2h-2zM91 153h2v2h-2zM171 153h2v2h-2zM187 153h2v2h-2zM39 155h2v2h-2zM93 167h2v2h-2zM45 169h2v2h-2zM91 175h2v2h-2zM163 179h2v2h-2zM153 189h2v2h-2zM31 191h2v2h-2zM65 195h2v2h-2zM89 195h2v2h-2zM129 195h2v2h-2zM33 199h2v2h-2zM75 199h2v2h-2zM31 201h2v2h-2zM169 209h2v2h-2zM37 211h2v2h-2zM77 213h2v2h-2zM91 213h2v2h-2zM15 215h2v2h-2zM191 215h2v2h-2zM21 217h2v2h-2zM73 219h2v2h-2zM79 221h2v2h-2zM155 221h2v2h-2zM51 223h2v2h-2zM31 225h2v2h-2zM213 227h2v2h-2zM45 229h2v2h-2zM137 229h2v2h-2zM43 233h2v2h-2zM97 233h2v2h-2z"/>
</g>
<g fill="none" stroke="#fff" stroke-width="1.0" stroke-linecap="round" stroke-linejoin="round" opacity="0.75">
<path d="M15 88 L74 85 L94 82.5 L114 80 L140 77.2 L157 75 L216 66.5"/><path d="M167.5 35 L162.6 51 L159 62.3 L155.5 76 L150 88 L141.6 103.3 L131.6 113.3 L122.7 122.2 L117.1 128.9 L110.4 140 L101.6 148.9 L88.2 157.8 L74.9 166.7 L64.5 174.5 L57.5 184 L54.5 193 L52.3 202.8 L50.2 213.1 L46.1 223.5 L40.9 229.7 L38.8 235"/><path d="M162.6 51 L172 45.5 L185 43 L200 41.5"/><path d="M112.5 36.5 L125.3 46.1 L138 50.5 L150.7 51.8 L162.6 51"/><path d="M15 202.2 L52.3 202.2 L62.1 204.1 L69.7 208.7 L78.8 214.7 L89.5 217 L100 217.8 L106.1 222.3 L110.7 228.4 L115.2 235"/>
</g>
<path d="M24 59 L48 58.5" stroke="#fff" stroke-width="1.2" opacity="0.55"/>
<rect x="14.5" y="34.5" width="201" height="201" fill="none" stroke="#111" stroke-width="1"/>
<!-- map ticks -->
<g stroke="#111" stroke-width="0.8">
<line x1="21.5" y1="32.5" x2="21.5" y2="34.5"/><line x1="73.2" y1="32.5" x2="73.2" y2="34.5"/><line x1="125" y1="32.5" x2="125" y2="34.5"/><line x1="177.1" y1="32.5" x2="177.1" y2="34.5"/>
<line x1="21.5" y1="235.5" x2="21.5" y2="237.5"/><line x1="73.5" y1="235.5" x2="73.5" y2="237.5"/>
<line x1="125" y1="235.5" x2="125" y2="237.5"/><line x1="177" y1="235.5" x2="177" y2="237.5"/>
<line x1="12.5" y1="72.9" x2="14.5" y2="72.9"/><line x1="12.5" y1="123.4" x2="14.5" y2="123.4"/><line x1="12.5" y1="174" x2="14.5" y2="174"/>
<line x1="12.5" y1="226.6" x2="14.5" y2="226.6"/><line x1="215.5" y1="72.3" x2="217.5" y2="72.3"/><line x1="215.5" y1="123.2" x2="217.5" y2="123.2"/><line x1="215.5" y1="175" x2="217.5" y2="175"/><line x1="215.5" y1="226.5" x2="217.5" y2="226.5"/>
</g>
<g class="ml">
<text x="21.7" y="244.6" text-anchor="middle" textLength="31" lengthAdjust="spacingAndGlyphs">114°33'0"E</text>
<text x="73.4" y="244.6" text-anchor="middle" textLength="31" lengthAdjust="spacingAndGlyphs">114°36'0"E</text>
<text x="125.3" y="244.6" text-anchor="middle" textLength="31" lengthAdjust="spacingAndGlyphs">114°39'0"E</text>
<text x="177.1" y="244.6" text-anchor="middle" textLength="31" lengthAdjust="spacingAndGlyphs">114°42'0"E</text>
<text transform="translate(10.3 72.8) rotate(-90)" text-anchor="middle" textLength="29.6" lengthAdjust="spacingAndGlyphs">34°48'0"N</text>
<text transform="translate(10.3 123.5) rotate(-90)" text-anchor="middle" textLength="29.6" lengthAdjust="spacingAndGlyphs">34°45'0"N</text>
<text transform="translate(10.3 174) rotate(-90)" text-anchor="middle" textLength="29.6" lengthAdjust="spacingAndGlyphs">34°42'0"N</text>
</g>
<!-- compass -->
<g transform="translate(30.2 18.0)">
<circle r="7.7" fill="none" stroke="#222" stroke-width="1.3"/>
<g stroke="#333" stroke-width="0.35">
<path d="M0 -9.5 L1.3 -1.3 L0 0 Z M0 9.5 L-1.3 1.3 L0 0 Z M9.5 0 L1.3 1.3 L0 0 Z M-9.5 0 L-1.3 -1.3 L0 0Z" fill="#222"/>
<path d="M0 -9.5 L-1.3 -1.3 L0 0 Z M0 9.5 L1.3 1.3 L0 0 Z M9.5 0 L1.3 -1.3 L0 0 Z M-9.5 0 L-1.3 1.3 L0 0Z" fill="#fff"/>
<path d="M4.6 -4.6 L0.9 0 L0 0 Z M-4.6 4.6 L-0.9 0 L0 0Z M4.6 4.6 L0 0.9 L0 0Z M-4.6 -4.6 L0 -0.9 L0 0Z" fill="#222"/>
<path d="M4.6 -4.6 L0 -0.9 L0 0 Z M-4.6 4.6 L0 0.9 L0 0Z M4.6 4.6 L0.9 0 L0 0Z M-4.6 -4.6 L-0.9 0 L0 0Z" fill="#fff"/>
</g>
<text x="0" y="-10.4" font-size="4px" text-anchor="middle">N</text>
<text x="0" y="13.2" font-size="4px" text-anchor="middle">S</text>
<text x="-12.0" y="0.9" font-size="4px" text-anchor="middle">W</text>
<text x="11.0" y="0.9" font-size="4px" text-anchor="middle">E</text>
</g>
<!-- scale bar -->
<rect x="173" y="25.6" width="37.6" height="3.7" fill="#fff" stroke="#111" stroke-width="0.7"/>
<rect x="173" y="25.6" width="19.2" height="3.7" fill="#111"/>
<text class="sans" x="173" y="22.8" font-size="7.2px" text-anchor="middle">0</text>
<text class="sans" x="209.8" y="22.8" font-size="7.2px" text-anchor="middle">4</text>
<text class="sans" x="211.8" y="29.6" font-size="7.2px">km</text>
<!-- colorbar -->
<defs><linearGradient id="cb" x1="0" y1="0" x2="0" y2="1">
<stop offset="0" stop-color="#1f3c8c"/><stop offset="0.18" stop-color="#1f7fa0"/>
<stop offset="0.35" stop-color="#18b37a"/><stop offset="0.5" stop-color="#22d425"/>
<stop offset="0.62" stop-color="#b5e31e"/><stop offset="0.72" stop-color="#ffe41a"/>
<stop offset="0.86" stop-color="#ff9a1c"/><stop offset="1" stop-color="#ef5527"/>
</linearGradient></defs>
<rect x="223.2" y="200" width="8.5" height="30.7" fill="url(#cb)"/>
<text x="219.9" y="187.9" font-size="7.6px" font-weight="bold">Soil moisture</text>
<text x="219.9" y="198.2" font-size="7.8px" font-weight="bold" textLength="26" lengthAdjust="spacingAndGlyphs">(vol.%)</text>
<text x="235.3" y="205.3" font-size="6.6px">30</text>
<text x="235.3" y="229.8" font-size="6.6px">1.0</text>
<text x="134.3" y="262" font-size="13.5px" text-anchor="middle">(<tspan font-weight="bold">a</tspan>)</text>

<!-- chart -->
<line x1="331.5" y1="20.8" x2="331.5" y2="208" class="gr"/>
<line x1="354.0" y1="20.8" x2="354.0" y2="208" class="gr"/>
<line x1="376.4" y1="20.8" x2="376.4" y2="208" class="gr"/>
<line x1="398.9" y1="20.8" x2="398.9" y2="208" class="gr"/>
<line x1="421.4" y1="20.8" x2="421.4" y2="208" class="gr"/>
<line x1="443.9" y1="20.8" x2="443.9" y2="208" class="gr"/>
<line x1="466.3" y1="20.8" x2="466.3" y2="208" class="gr"/>
<line x1="488.8" y1="20.8" x2="488.8" y2="208" class="gr"/>
<line x1="511.3" y1="20.8" x2="511.3" y2="208" class="gr"/>
<line x1="533.8" y1="20.8" x2="533.8" y2="208" class="gr"/>
<line x1="309" y1="187.2" x2="545" y2="187.2" class="gr"/>
<line x1="309" y1="159.5" x2="545" y2="159.5" class="gr"/>
<line x1="309" y1="131.7" x2="545" y2="131.7" class="gr"/>
<line x1="309" y1="104.0" x2="545" y2="104.0" class="gr"/>
<line x1="309" y1="76.3" x2="545" y2="76.3" class="gr"/>
<line x1="309" y1="48.5" x2="545" y2="48.5" class="gr"/>
<line x1="309.0" y1="208" x2="309.0" y2="205" class="tk"/>
<line x1="320.2" y1="208" x2="320.2" y2="206" class="tk"/>
<line x1="331.5" y1="208" x2="331.5" y2="205" class="tk"/>
<line x1="342.7" y1="208" x2="342.7" y2="206" class="tk"/>
<line x1="354.0" y1="208" x2="354.0" y2="205" class="tk"/>
<line x1="365.2" y1="208" x2="365.2" y2="206" class="tk"/>
<line x1="376.4" y1="208" x2="376.4" y2="205" class="tk"/>
<line x1="387.7" y1="208" x2="387.7" y2="206" class="tk"/>
<line x1="398.9" y1="208" x2="398.9" y2="205" class="tk"/>
<line x1="410.1" y1="208" x2="410.1" y2="206" class="tk"/>
<line x1="421.4" y1="208" x2="421.4" y2="205" class="tk"/>
<line x1="432.6" y1="208" x2="432.6" y2="206" class="tk"/>
<line x1="443.9" y1="208" x2="443.9" y2="205" class="tk"/>
<line x1="455.1" y1="208" x2="455.1" y2="206" class="tk"/>
<line x1="466.3" y1="208" x2="466.3" y2="205" class="tk"/>
<line x1="477.6" y1="208" x2="477.6" y2="206" class="tk"/>
<line x1="488.8" y1="208" x2="488.8" y2="205" class="tk"/>
<line x1="500.0" y1="208" x2="500.0" y2="206" class="tk"/>
<line x1="511.3" y1="208" x2="511.3" y2="205" class="tk"/>
<line x1="522.5" y1="208" x2="522.5" y2="206" class="tk"/>
<line x1="533.8" y1="208" x2="533.8" y2="205" class="tk"/>
<line x1="309" y1="201.1" x2="311" y2="201.1" class="tk"/>
<line x1="309" y1="187.2" x2="312" y2="187.2" class="tk"/>
<line x1="309" y1="173.3" x2="311" y2="173.3" class="tk"/>
<line x1="309" y1="159.5" x2="312" y2="159.5" class="tk"/>
<line x1="309" y1="145.6" x2="311" y2="145.6" class="tk"/>
<line x1="309" y1="131.7" x2="312" y2="131.7" class="tk"/>
<line x1="309" y1="117.9" x2="311" y2="117.9" class="tk"/>
<line x1="309" y1="104.0" x2="312" y2="104.0" class="tk"/>
<line x1="309" y1="90.1" x2="311" y2="90.1" class="tk"/>
<line x1="309" y1="76.3" x2="312" y2="76.3" class="tk"/>
<line x1="309" y1="62.4" x2="311" y2="62.4" class="tk"/>
<line x1="309" y1="48.5" x2="312" y2="48.5" class="tk"/>
<line x1="309" y1="34.7" x2="311" y2="34.7" class="tk"/>
<line x1="309" y1="20.8" x2="312" y2="20.8" class="tk"/>
<text x="309.0" y="218.1" class="tl" text-anchor="middle">0</text>
<text x="331.5" y="218.1" class="tl" text-anchor="middle">2</text>
<text x="354.0" y="218.1" class="tl" text-anchor="middle">4</text>
<text x="376.4" y="218.1" class="tl" text-anchor="middle">6</text>
<text x="398.9" y="218.1" class="tl" text-anchor="middle">8</text>
<text x="421.4" y="218.1" class="tl" text-anchor="middle">10</text>
<text x="443.9" y="218.1" class="tl" text-anchor="middle">12</text>
<text x="466.3" y="218.1" class="tl" text-anchor="middle">14</text>
<text x="488.8" y="218.1" class="tl" text-anchor="middle">16</text>
<text x="511.3" y="218.1" class="tl" text-anchor="middle">18</text>
<text x="533.8" y="218.1" class="tl" text-anchor="middle">20</text>
<text x="305.2" y="189.2" class="tl" text-anchor="end">4</text>
<text x="305.2" y="161.5" class="tl" text-anchor="end">8</text>
<text x="305.2" y="133.7" class="tl" text-anchor="end">12</text>
<text x="305.2" y="106.0" class="tl" text-anchor="end">16</text>
<text x="305.2" y="78.3" class="tl" text-anchor="end">20</text>
<text x="305.2" y="50.5" class="tl" text-anchor="end">24</text>
<text x="305.2" y="22.8" class="tl" text-anchor="end">28</text>
<polyline points="320.2,170.6 331.5,115.1 342.7,134.5 354.0,131.0 365.2,48.5 376.4,60.3 387.7,92.9 398.9,101.2 410.1,153.2 421.4,113.7 432.6,38.8 443.9,81.1 455.1,163.6 466.3,106.1 477.6,64.5 488.8,79.0 500.0,120.6 511.3,95.0 522.5,48.5 533.8,100.5" fill="none" stroke="#4a4a4a" stroke-width="1"/>
<polyline points="320.2,185.8 331.5,78.3 342.7,122.0 354.0,113.0 365.2,74.9 376.4,72.1 387.7,94.3 398.9,97.8 410.1,148.4 421.4,101.2 432.6,73.5 443.9,86.7 455.1,147.7 466.3,124.1 477.6,71.4 488.8,101.9 500.0,107.5 511.3,105.4 522.5,74.2 533.8,106.8" fill="none" stroke="#ff3b3b" stroke-width="1"/>
<rect x="317.9" y="168.3" width="4.6" height="4.6" fill="#3d3d3d"/>
<rect x="329.2" y="112.8" width="4.6" height="4.6" fill="#3d3d3d"/>
<rect x="340.4" y="132.2" width="4.6" height="4.6" fill="#3d3d3d"/>
<rect x="351.7" y="128.7" width="4.6" height="4.6" fill="#3d3d3d"/>
<rect x="362.9" y="46.2" width="4.6" height="4.6" fill="#3d3d3d"/>
<rect x="374.1" y="58.0" width="4.6" height="4.6" fill="#3d3d3d"/>
<rect x="385.4" y="90.6" width="4.6" height="4.6" fill="#3d3d3d"/>
<rect x="396.6" y="98.9" width="4.6" height="4.6" fill="#3d3d3d"/>
<rect x="407.8" y="150.9" width="4.6" height="4.6" fill="#3d3d3d"/>
<rect x="419.1" y="111.4" width="4.6" height="4.6" fill="#3d3d3d"/>
<rect x="430.3" y="36.5" width="4.6" height="4.6" fill="#3d3d3d"/>
<rect x="441.6" y="78.8" width="4.6" height="4.6" fill="#3d3d3d"/>
<rect x="452.8" y="161.3" width="4.6" height="4.6" fill="#3d3d3d"/>
<rect x="464.0" y="103.8" width="4.6" height="4.6" fill="#3d3d3d"/>
<rect x="475.3" y="62.2" width="4.6" height="4.6" fill="#3d3d3d"/>
<rect x="486.5" y="76.7" width="4.6" height="4.6" fill="#3d3d3d"/>
<rect x="497.7" y="118.3" width="4.6" height="4.6" fill="#3d3d3d"/>
<rect x="509.0" y="92.7" width="4.6" height="4.6" fill="#3d3d3d"/>
<rect x="520.2" y="46.2" width="4.6" height="4.6" fill="#3d3d3d"/>
<rect x="531.5" y="98.2" width="4.6" height="4.6" fill="#3d3d3d"/>
<circle cx="320.2" cy="185.8" r="2.6" fill="#ff2d3c"/>
<circle cx="331.5" cy="78.3" r="2.6" fill="#ff2d3c"/>
<circle cx="342.7" cy="122.0" r="2.6" fill="#ff2d3c"/>
<circle cx="354.0" cy="113.0" r="2.6" fill="#ff2d3c"/>
<circle cx="365.2" cy="74.9" r="2.6" fill="#ff2d3c"/>
<circle cx="376.4" cy="72.1" r="2.6" fill="#ff2d3c"/>
<circle cx="387.7" cy="94.3" r="2.6" fill="#ff2d3c"/>
<circle cx="398.9" cy="97.8" r="2.6" fill="#ff2d3c"/>
<circle cx="410.1" cy="148.4" r="2.6" fill="#ff2d3c"/>
<circle cx="421.4" cy="101.2" r="2.6" fill="#ff2d3c"/>
<circle cx="432.6" cy="73.5" r="2.6" fill="#ff2d3c"/>
<circle cx="443.9" cy="86.7" r="2.6" fill="#ff2d3c"/>
<circle cx="455.1" cy="147.7" r="2.6" fill="#ff2d3c"/>
<circle cx="466.3" cy="124.1" r="2.6" fill="#ff2d3c"/>
<circle cx="477.6" cy="71.4" r="2.6" fill="#ff2d3c"/>
<circle cx="488.8" cy="101.9" r="2.6" fill="#ff2d3c"/>
<circle cx="500.0" cy="107.5" r="2.6" fill="#ff2d3c"/>
<circle cx="511.3" cy="105.4" r="2.6" fill="#ff2d3c"/>
<circle cx="522.5" cy="74.2" r="2.6" fill="#ff2d3c"/>
<circle cx="533.8" cy="106.8" r="2.6" fill="#ff2d3c"/>
<rect x="309" y="20.8" width="236" height="187.2" fill="none" stroke="#3a3a3a" stroke-width="1.3"/>
<g>
<line x1="311.6" y1="28.6" x2="330.9" y2="28.6" stroke="#4a4a4a" stroke-width="1"/>
<rect x="319.4" y="26.3" width="4.6" height="4.6" fill="#3d3d3d"/>
<text x="332.9" y="31.2" font-size="7.7px">Measured SSM</text>
<line x1="311.6" y1="38.9" x2="330.9" y2="38.9" stroke="#ff3b3b" stroke-width="1"/>
<circle cx="321.7" cy="38.9" r="2.6" fill="#ff2d3c"/>
<text x="332.9" y="41.5" font-size="7.7px" xml:space="preserve" style="white-space:pre">Inverted   SSM</text>
</g>
<text x="415.8" y="232" font-size="11.1px" text-anchor="middle">Sampling points</text>
<text transform="translate(289.6 113.5) rotate(-90)" font-size="10.7px" text-anchor="middle">SSM values（vol.%）</text>
<text x="415.3" y="263" font-size="13.5px" text-anchor="middle">(<tspan font-weight="bold">b</tspan>)</text>
</svg>
</body></html>
